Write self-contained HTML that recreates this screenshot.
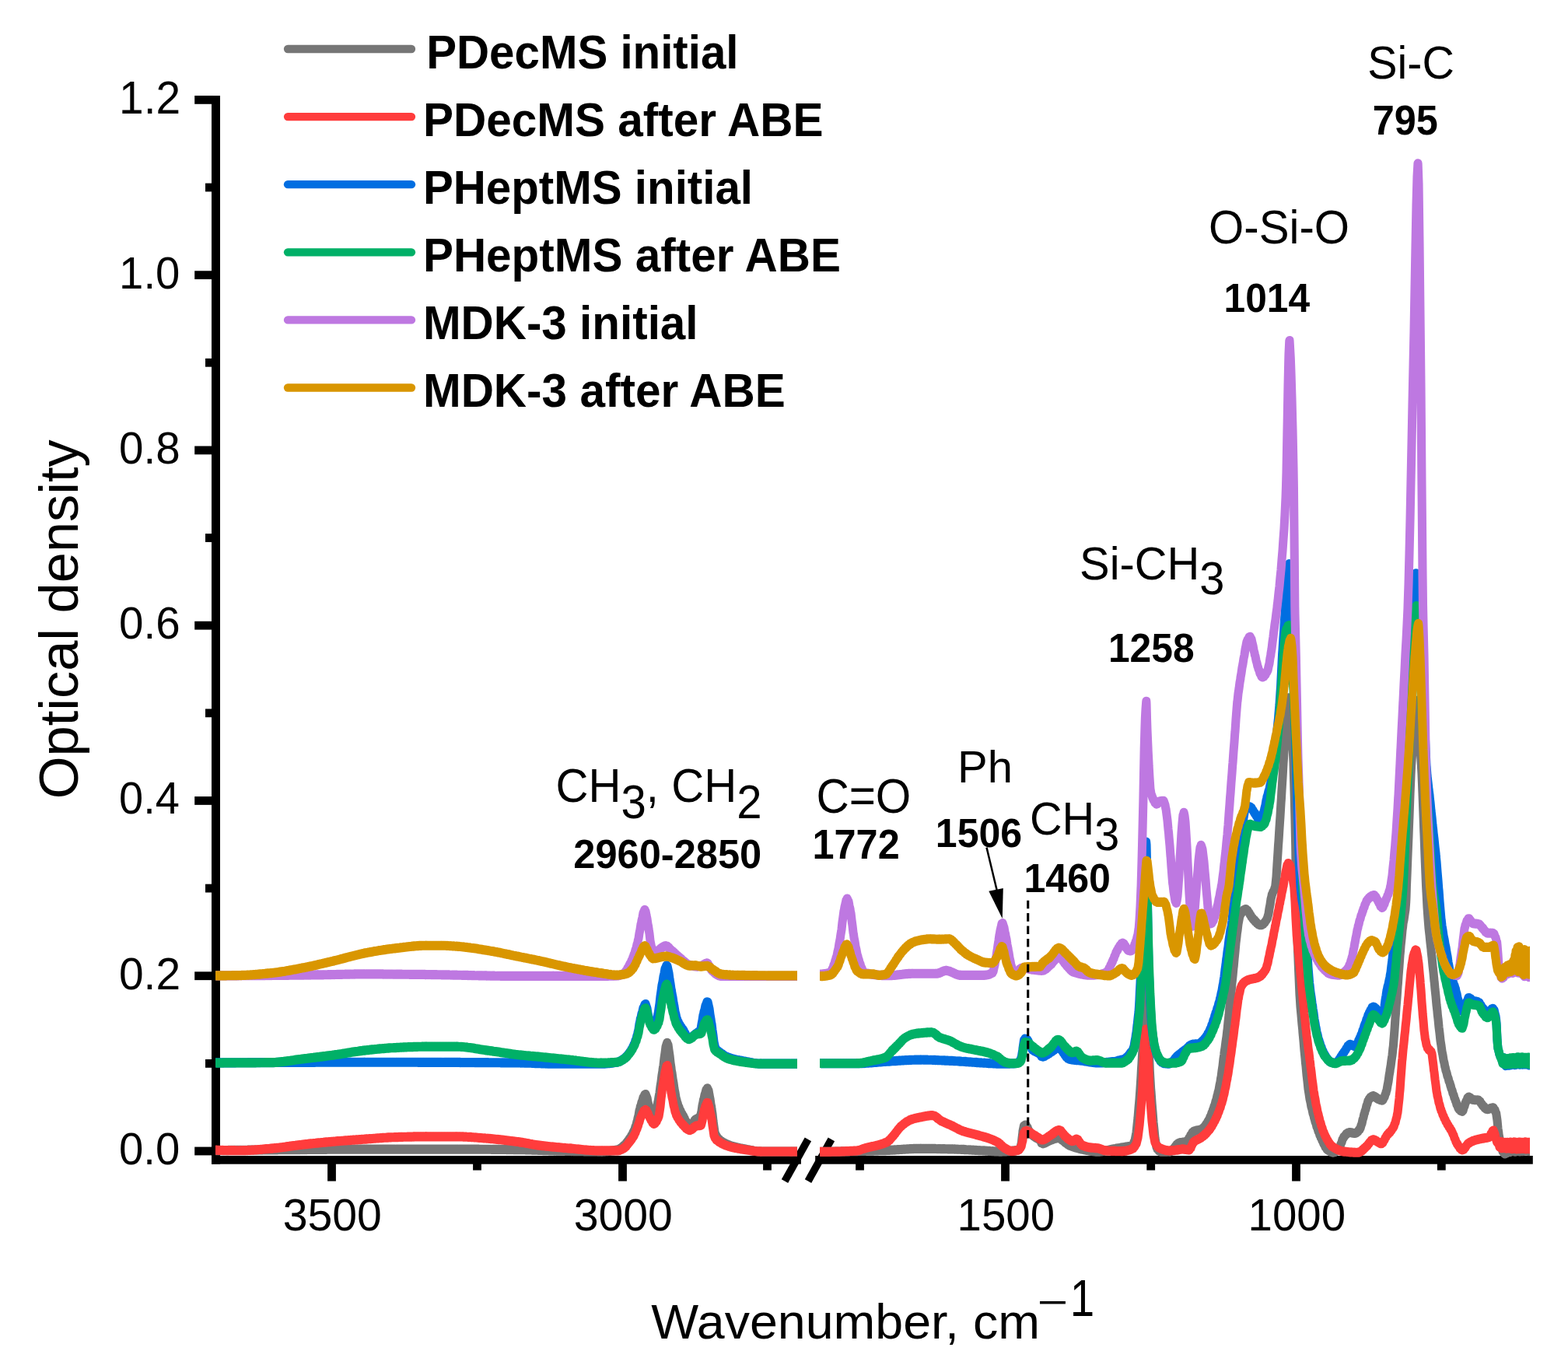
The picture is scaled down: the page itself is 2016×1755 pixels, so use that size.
<!DOCTYPE html>
<html lang="en"><head><meta charset="utf-8"><title>FTIR spectra</title>
<style>html,body{margin:0;padding:0;background:#fff}body{width:2016px;height:1755px;overflow:hidden}svg{display:block}</style>
</head><body>
<svg width="2016" height="1755" viewBox="0 0 2016 1755" font-family='"Liberation Sans", Arial, Helvetica, sans-serif'>
<rect width="2016" height="1755" fill="#fff"/>
<g fill="#000">
<rect x="272" y="123" width="11" height="1373.7"/>
<rect x="272" y="1486" width="757.9" height="10.7"/>
<rect x="1048.2" y="1486" width="922.6" height="10.7"/>
<rect x="250.2" y="1474.60" width="24" height="10.8"/>
<rect x="250.2" y="1249.33" width="24" height="10.8"/>
<rect x="250.2" y="1024.06" width="24" height="10.8"/>
<rect x="250.2" y="798.79" width="24" height="10.8"/>
<rect x="250.2" y="573.52" width="24" height="10.8"/>
<rect x="250.2" y="348.25" width="24" height="10.8"/>
<rect x="250.2" y="122.98" width="24" height="10.8"/>
<rect x="264" y="1361.96" width="9" height="10.8"/>
<rect x="264" y="1136.69" width="9" height="10.8"/>
<rect x="264" y="911.42" width="9" height="10.8"/>
<rect x="264" y="686.15" width="9" height="10.8"/>
<rect x="264" y="460.88" width="9" height="10.8"/>
<rect x="264" y="235.61" width="9" height="10.8"/>
<rect x="421.10" y="1490" width="10.8" height="28.6"/>
<rect x="795.10" y="1490" width="10.8" height="28.6"/>
<rect x="1287.10" y="1490" width="10.8" height="28.6"/>
<rect x="1661.10" y="1490" width="10.8" height="28.6"/>
<rect x="608.10" y="1490" width="10.8" height="14.6"/>
<rect x="981.10" y="1490" width="10.8" height="14.6"/>
<rect x="1100.10" y="1490" width="10.8" height="14.6"/>
<rect x="1474.30" y="1490" width="10.8" height="14.6"/>
<rect x="1847.90" y="1490" width="10.8" height="14.6"/>
</g>
<g stroke="#000" stroke-width="9.6" fill="none">
<line x1="1038.9" y1="1464.8" x2="1009" y2="1518.6"/>
<line x1="1068.9" y1="1464.8" x2="1039" y2="1518.6"/>
</g>
<clipPath id="cl"><rect x="277" y="0" width="748" height="1755"/><rect x="1054" y="0" width="913" height="1755"/></clipPath>
<g fill="none" stroke-linejoin="round" stroke-linecap="butt" stroke-width="11.1" clip-path="url(#cl)">
<path stroke="#767676" d="M277.0,1479.8 278.0,1478.6 279.0,1479.7 280.0,1478.6 281.0,1479.7 282.0,1478.6 283.0,1479.7 284.0,1478.6 285.0,1479.7 286.0,1478.5 287.0,1479.6 288.0,1478.5 289.0,1479.6 290.0,1478.5 291.0,1479.6 292.0,1478.5 293.0,1479.6 294.0,1478.4 295.0,1479.5 296.0,1478.4 297.0,1479.5 298.0,1478.4 299.0,1479.5 300.0,1478.4 301.0,1479.5 302.0,1478.3 303.0,1479.4 304.0,1478.3 305.0,1479.4 306.0,1478.3 307.0,1479.4 308.0,1478.3 309.0,1479.4 310.0,1478.2 311.0,1479.3 312.0,1478.2 313.0,1479.3 314.0,1478.2 315.0,1479.3 316.0,1478.2 317.0,1479.3 318.0,1478.2 319.0,1479.2 320.0,1478.1 321.0,1479.2 322.0,1478.1 323.0,1479.2 324.0,1478.1 325.0,1479.2 326.0,1478.1 327.0,1479.2 328.0,1478.0 329.0,1479.1 330.0,1478.0 331.0,1479.1 332.0,1478.0 333.0,1479.1 334.0,1478.0 335.0,1479.1 336.0,1478.0 337.0,1479.1 338.0,1477.9 339.0,1479.0 340.0,1477.9 341.0,1479.0 342.0,1477.9 343.0,1479.0 344.0,1477.9 345.0,1479.0 346.0,1477.9 347.0,1479.0 348.0,1477.8 349.0,1478.9 350.0,1477.8 351.0,1478.9 352.0,1477.8 353.0,1478.9 354.0,1477.8 355.0,1478.9 356.0,1477.8 357.0,1478.9 358.0,1477.8 359.0,1478.8 360.0,1477.7 361.0,1478.8 362.0,1477.7 363.0,1478.8 364.0,1477.7 365.0,1478.8 366.0,1477.7 367.0,1478.8 368.0,1477.7 369.0,1478.8 369.2,1477.7 370.0,1478.8 371.0,1477.7 372.0,1478.7 373.0,1477.6 374.0,1478.7 375.0,1477.6 376.0,1478.7 377.0,1477.6 378.0,1478.7 379.0,1477.6 380.0,1478.7 381.0,1477.6 382.0,1478.7 383.0,1477.6 384.0,1478.6 385.0,1477.5 386.0,1478.6 387.0,1477.5 388.0,1478.6 389.0,1477.5 390.0,1478.6 391.0,1477.5 392.0,1478.6 393.0,1477.5 394.0,1478.6 395.0,1477.5 396.0,1478.5 397.0,1477.4 398.0,1478.5 399.0,1477.4 400.0,1478.5 401.0,1477.4 402.0,1478.5 403.0,1477.4 404.0,1478.5 405.0,1477.4 406.0,1478.5 407.0,1477.4 408.0,1478.5 409.0,1477.3 410.0,1478.4 411.0,1477.3 412.0,1478.4 413.0,1477.3 414.0,1478.4 415.0,1477.3 416.0,1478.4 417.0,1477.3 418.0,1478.4 419.0,1477.3 420.0,1478.4 421.0,1477.3 422.0,1478.3 423.0,1477.2 424.0,1478.3 425.0,1477.2 426.0,1478.3 427.0,1477.2 428.0,1478.3 429.0,1477.2 430.0,1478.3 431.0,1477.2 432.0,1478.3 433.0,1477.2 434.0,1478.3 435.0,1477.2 436.0,1478.3 437.0,1477.2 438.0,1478.3 439.0,1477.1 440.0,1478.2 441.0,1477.1 442.0,1478.2 443.0,1477.1 444.0,1478.2 445.0,1477.1 446.0,1478.2 447.0,1477.1 448.0,1478.2 449.0,1477.1 450.0,1478.2 451.0,1477.1 452.0,1478.2 453.0,1477.1 454.0,1478.2 455.0,1477.1 456.0,1478.2 457.0,1477.1 458.0,1478.2 459.0,1477.1 460.0,1478.2 461.0,1477.1 462.0,1478.2 463.0,1477.1 464.0,1478.2 465.0,1477.1 466.0,1478.2 467.0,1477.1 468.0,1478.2 468.4,1477.1 469.0,1478.2 470.0,1477.1 471.0,1478.2 472.0,1477.1 473.0,1478.2 474.0,1477.1 475.0,1478.2 476.0,1477.1 477.0,1478.2 478.0,1477.1 479.0,1478.2 480.0,1477.1 481.0,1478.2 482.0,1477.1 483.0,1478.2 484.0,1477.1 485.0,1478.2 486.0,1477.1 487.0,1478.2 488.0,1477.1 489.0,1478.2 490.0,1477.1 491.0,1478.2 492.0,1477.1 493.0,1478.2 494.0,1477.1 495.0,1478.2 496.0,1477.1 497.0,1478.2 498.0,1477.1 499.0,1478.2 500.0,1477.1 501.0,1478.2 502.0,1477.1 503.0,1478.2 504.0,1477.1 505.0,1478.2 506.0,1477.1 507.0,1478.2 508.0,1477.1 509.0,1478.2 510.0,1477.1 511.0,1478.2 512.0,1477.1 513.0,1478.2 514.0,1477.1 515.0,1478.2 516.0,1477.1 517.0,1478.2 518.0,1477.1 519.0,1478.2 520.0,1477.1 521.0,1478.2 522.0,1477.1 523.0,1478.2 524.0,1477.1 525.0,1478.2 526.0,1477.1 527.0,1478.2 528.0,1477.1 529.0,1478.2 530.0,1477.1 531.0,1478.2 532.0,1477.1 533.0,1478.2 534.0,1477.1 535.0,1478.2 536.0,1477.1 537.0,1478.2 538.0,1477.1 539.0,1478.2 540.0,1477.1 541.0,1478.2 542.0,1477.1 543.0,1478.2 544.0,1477.1 545.0,1478.2 546.0,1477.1 547.0,1478.2 548.0,1477.1 549.0,1478.2 550.0,1477.1 551.0,1478.2 552.0,1477.1 553.0,1478.2 554.0,1477.1 555.0,1478.2 556.0,1477.1 557.0,1478.2 558.0,1477.1 559.0,1478.2 560.0,1477.1 561.0,1478.2 562.0,1477.1 563.0,1478.2 564.0,1477.1 565.0,1478.2 566.0,1477.1 567.0,1478.2 568.0,1477.1 569.0,1478.2 570.0,1477.1 571.0,1478.2 572.0,1477.1 573.0,1478.2 574.0,1477.1 575.0,1478.2 576.0,1477.1 577.0,1478.2 578.0,1477.1 579.0,1478.2 580.0,1477.1 581.0,1478.2 582.0,1477.1 583.0,1478.2 584.0,1477.1 585.0,1478.2 586.0,1477.1 587.0,1478.2 587.5,1477.1 588.0,1478.2 589.0,1477.1 590.0,1478.2 591.0,1477.1 592.0,1478.2 593.0,1477.1 594.0,1478.2 595.0,1477.1 596.0,1478.2 597.0,1477.1 598.0,1478.2 599.0,1477.1 600.0,1478.2 601.0,1477.1 602.0,1478.2 603.0,1477.1 604.0,1478.2 605.0,1477.1 606.0,1478.2 607.0,1477.1 608.0,1478.2 609.0,1477.1 610.0,1478.2 611.0,1477.1 612.0,1478.2 613.0,1477.1 614.0,1478.2 615.0,1477.1 616.0,1478.3 617.0,1477.2 618.0,1478.3 619.0,1477.2 620.0,1478.3 621.0,1477.2 622.0,1478.3 623.0,1477.2 624.0,1478.3 625.0,1477.2 626.0,1478.3 627.0,1477.2 628.0,1478.3 629.0,1477.2 630.0,1478.3 631.0,1477.3 632.0,1478.4 633.0,1477.3 634.0,1478.4 635.0,1477.3 636.0,1478.4 637.0,1477.3 638.0,1478.4 639.0,1477.3 640.0,1478.4 641.0,1477.3 642.0,1478.5 643.0,1477.4 644.0,1478.5 645.0,1477.4 646.0,1478.5 647.0,1477.4 648.0,1478.5 649.0,1477.4 650.0,1478.5 651.0,1477.4 652.0,1478.6 653.0,1477.5 654.0,1478.6 655.0,1477.5 656.0,1478.6 657.0,1477.5 658.0,1478.6 659.0,1477.5 660.0,1478.6 661.0,1477.6 662.0,1478.7 663.0,1477.6 664.0,1478.7 665.0,1477.6 666.0,1478.7 667.0,1477.6 668.0,1478.7 669.0,1477.7 670.0,1478.8 671.0,1477.7 672.0,1478.8 673.0,1477.7 674.0,1478.8 675.0,1477.8 676.0,1478.9 677.0,1477.8 678.0,1478.9 679.0,1477.9 680.0,1479.0 681.0,1477.9 682.0,1479.0 683.0,1478.0 684.0,1479.1 685.0,1478.0 686.0,1479.2 687.0,1478.1 688.0,1479.2 689.0,1478.2 690.0,1479.3 691.0,1478.3 692.0,1479.4 693.0,1478.3 694.0,1479.5 695.0,1478.4 696.0,1479.5 697.0,1478.5 698.0,1479.6 699.0,1478.6 700.0,1479.7 701.0,1478.6 702.0,1479.8 703.0,1478.7 704.0,1479.8 705.0,1478.8 706.0,1479.9 707.0,1478.8 708.0,1479.9 709.0,1478.9 710.0,1480.0 711.0,1478.9 711.5,1480.0 712.0,1478.9 713.0,1480.1 714.0,1479.0 715.0,1480.1 716.0,1479.0 717.0,1480.2 718.0,1479.1 719.0,1480.2 720.0,1479.1 721.0,1480.3 722.0,1479.2 723.0,1480.3 724.0,1479.2 725.0,1480.3 726.0,1479.3 727.0,1480.4 728.0,1479.3 729.0,1480.4 730.0,1479.4 731.0,1480.5 732.0,1479.4 733.0,1480.5 734.0,1479.4 735.0,1480.6 736.0,1479.5 737.0,1480.6 738.0,1479.5 739.0,1480.7 740.0,1479.6 741.0,1480.7 742.0,1479.6 743.0,1480.7 744.0,1479.7 745.0,1480.8 746.0,1479.7 747.0,1480.8 748.0,1479.7 749.0,1480.8 750.0,1479.8 751.0,1480.9 752.0,1479.8 753.0,1480.9 754.0,1479.8 755.0,1480.9 756.0,1479.8 757.0,1481.0 758.0,1479.9 759.0,1481.0 760.0,1479.9 761.0,1481.0 762.0,1479.9 763.0,1481.0 764.0,1479.9 765.0,1481.0 766.0,1479.9 767.0,1481.0 768.0,1480.0 769.0,1481.1 770.0,1480.0 771.0,1481.1 772.0,1480.0 773.0,1481.1 773.1,1480.0 774.0,1481.1 775.0,1479.9 776.0,1481.0 777.0,1479.9 778.0,1480.9 779.0,1479.8 780.0,1480.8 781.0,1479.6 782.0,1480.7 783.0,1479.5 784.0,1480.5 785.0,1479.2 786.0,1480.2 787.0,1479.0 788.0,1480.0 789.0,1478.7 790.0,1479.6 791.0,1478.4 792.0,1479.3 793.0,1478.0 793.6,1479.0 794.0,1477.8 795.0,1478.6 796.0,1477.0 797.0,1477.6 798.0,1475.8 799.0,1476.1 800.0,1474.3 801.0,1474.5 801.8,1472.8 802.0,1473.7 803.0,1471.7 804.0,1471.7 805.0,1469.5 806.0,1469.3 807.0,1466.9 808.0,1466.6 809.0,1464.1 809.4,1464.6 810.0,1462.6 811.0,1462.2 812.0,1459.4 813.0,1458.8 814.0,1455.7 815.0,1454.7 815.1,1453.4 816.0,1452.3 817.0,1448.4 818.0,1446.3 819.0,1441.8 819.2,1442.2 820.0,1437.8 821.0,1434.1 822.0,1428.0 823.0,1424.8 823.3,1422.6 824.0,1421.4 825.0,1417.0 826.0,1414.8 827.0,1410.8 828.0,1409.6 829.0,1407.0 829.9,1407.6 830.0,1406.5 831.0,1409.2 832.0,1411.6 833.0,1417.2 834.0,1420.8 835.0,1425.9 835.6,1426.5 836.0,1428.5 837.0,1429.7 838.0,1432.8 839.0,1433.5 840.0,1435.7 840.8,1434.8 841.0,1435.9 842.0,1433.2 843.0,1431.0 844.0,1425.6 845.0,1421.8 845.9,1416.4 846.0,1417.0 847.0,1410.5 848.0,1405.2 849.0,1397.0 850.0,1390.8 851.0,1382.4 852.0,1376.8 852.1,1375.0 853.0,1369.7 854.0,1360.6 855.0,1353.8 856.0,1345.9 857.0,1342.6 857.8,1340.3 858.0,1341.5 859.0,1343.3 860.0,1350.4 861.0,1357.2 862.0,1366.7 863.0,1373.2 863.3,1376.2 864.0,1379.5 865.0,1387.0 866.0,1392.4 867.0,1399.9 868.0,1404.8 869.0,1411.2 870.0,1414.5 870.5,1417.4 871.0,1417.9 872.0,1421.9 873.0,1423.4 874.0,1426.9 875.0,1427.9 876.0,1431.0 877.0,1431.7 878.0,1434.6 878.7,1434.8 879.0,1436.5 880.0,1437.3 881.0,1440.4 882.0,1441.3 883.0,1444.3 884.0,1444.8 885.0,1447.2 886.0,1446.9 886.9,1448.2 887.0,1447.1 888.0,1447.9 889.0,1445.9 890.0,1445.7 891.0,1443.2 892.0,1442.8 893.0,1440.3 894.0,1440.3 894.1,1439.1 895.0,1439.6 896.0,1437.9 897.0,1438.5 898.0,1436.9 899.0,1437.3 900.0,1435.2 900.3,1435.9 901.0,1432.8 902.0,1428.8 903.0,1421.5 904.0,1417.0 904.4,1414.2 905.0,1412.9 906.0,1407.7 907.0,1404.9 908.0,1400.7 909.0,1400.1 909.5,1398.7 910.0,1400.2 911.0,1402.0 912.0,1407.9 913.0,1412.8 914.0,1420.1 914.6,1422.4 915.0,1425.9 916.0,1432.2 917.0,1441.6 918.0,1448.5 919.0,1455.8 919.7,1457.3 920.0,1459.1 921.0,1459.9 922.0,1462.6 923.0,1462.8 924.0,1465.0 925.0,1464.9 925.9,1466.7 926.0,1465.7 927.0,1467.6 928.0,1467.2 929.0,1468.9 930.0,1468.5 931.0,1470.1 932.0,1469.6 933.0,1471.1 934.0,1470.5 935.0,1472.0 936.0,1471.3 937.0,1472.8 937.2,1471.8 938.0,1473.1 939.0,1472.4 940.0,1473.8 941.0,1473.0 942.0,1474.4 943.0,1473.6 944.0,1475.0 945.0,1474.1 946.0,1475.5 947.0,1474.6 948.0,1476.0 949.0,1475.1 950.0,1476.4 951.0,1475.6 952.0,1476.9 953.0,1476.0 954.0,1477.3 955.0,1476.4 956.0,1477.7 957.0,1476.8 957.7,1478.0 958.0,1476.9 959.0,1478.2 960.0,1477.3 961.0,1478.6 962.0,1477.7 963.0,1479.0 964.0,1478.1 965.0,1479.4 966.0,1478.5 967.0,1479.8 968.0,1478.9 969.0,1480.2 970.0,1479.2 971.0,1480.5 972.0,1479.5 973.0,1480.8 974.0,1479.8 975.0,1480.9 976.0,1479.9 977.0,1481.0 978.0,1480.0 978.2,1481.1 979.0,1480.0 980.0,1481.1 981.0,1480.0 982.0,1481.1 983.0,1480.0 984.0,1481.1 985.0,1480.0 986.0,1481.1 987.0,1480.0 988.0,1481.1 989.0,1480.0 990.0,1481.1 991.0,1480.0 992.0,1481.1 993.0,1480.0 994.0,1481.1 995.0,1480.0 996.0,1481.1 997.0,1480.0 998.0,1481.1 999.0,1480.0 1000.0,1481.1 1001.0,1480.0 1002.0,1481.1 1003.0,1480.0 1004.0,1481.1 1005.0,1480.0 1006.0,1481.1 1007.0,1480.0 1008.0,1481.1 1009.0,1480.0 1010.0,1481.1 1011.0,1480.0 1012.0,1481.1 1013.0,1480.0 1014.0,1481.1 1015.0,1480.0 1016.0,1481.1 1017.0,1480.0 1018.0,1481.1 1019.0,1480.0 1020.0,1481.1 1021.0,1480.0 1022.0,1481.1 1023.0,1480.0 1024.0,1481.1 1025.0,1480.0 1026.0,1481.1 1027.0,1480.0 1028.0,1481.1"/>
<path stroke="#767676" d="M1054.0,1481.5 1055.0,1480.4 1056.0,1481.5 1057.0,1480.3 1058.0,1481.4 1059.0,1480.3 1060.0,1481.4 1061.0,1480.3 1062.0,1481.4 1063.0,1480.3 1064.0,1481.4 1065.0,1480.2 1066.0,1481.3 1067.0,1480.2 1068.0,1481.3 1069.0,1480.2 1070.0,1481.3 1071.0,1480.1 1072.0,1481.2 1073.0,1480.1 1074.0,1481.2 1075.0,1480.1 1076.0,1481.2 1077.0,1480.0 1078.0,1481.1 1079.0,1480.0 1080.0,1481.1 1081.0,1480.0 1082.0,1481.1 1083.0,1479.9 1084.0,1481.0 1085.0,1479.9 1086.0,1481.0 1087.0,1479.9 1088.0,1480.9 1089.0,1479.8 1090.0,1480.9 1091.0,1479.8 1092.0,1480.9 1093.0,1479.7 1094.0,1480.8 1095.0,1479.7 1096.0,1480.8 1097.0,1479.7 1098.0,1480.7 1099.0,1479.6 1100.0,1480.7 1101.0,1479.6 1101.5,1480.7 1102.0,1479.5 1103.0,1480.6 1104.0,1479.5 1105.0,1480.6 1106.0,1479.5 1107.0,1480.5 1108.0,1479.4 1109.0,1480.5 1110.0,1479.4 1111.0,1480.4 1112.0,1479.3 1113.0,1480.4 1114.0,1479.2 1115.0,1480.3 1116.0,1479.2 1117.0,1480.3 1118.0,1479.1 1119.0,1480.2 1120.0,1479.1 1121.0,1480.1 1122.0,1479.0 1123.0,1480.1 1124.0,1479.0 1125.0,1480.0 1126.0,1478.9 1127.0,1480.0 1128.0,1478.8 1129.0,1479.9 1130.0,1478.8 1131.0,1479.8 1132.0,1478.7 1133.0,1479.8 1134.0,1478.6 1135.0,1479.7 1136.0,1478.6 1137.0,1479.6 1138.0,1478.5 1139.0,1479.6 1140.0,1478.4 1141.0,1479.5 1142.0,1478.3 1142.6,1479.4 1143.0,1478.3 1144.0,1479.4 1145.0,1478.2 1146.0,1479.3 1147.0,1478.1 1148.0,1479.2 1149.0,1478.0 1150.0,1479.1 1151.0,1477.9 1152.0,1478.9 1153.0,1477.8 1154.0,1478.8 1155.0,1477.6 1156.0,1478.7 1157.0,1477.5 1158.0,1478.5 1159.0,1477.4 1160.0,1478.4 1161.0,1477.2 1162.0,1478.3 1163.0,1477.1 1164.0,1478.1 1165.0,1477.0 1166.0,1478.0 1167.0,1476.9 1168.0,1477.9 1169.0,1476.7 1170.0,1477.8 1171.0,1476.6 1172.0,1477.7 1173.0,1476.5 1174.0,1477.6 1175.0,1476.4 1176.0,1477.5 1177.0,1476.4 1178.0,1477.4 1179.0,1476.3 1180.0,1477.4 1181.0,1476.3 1182.0,1477.4 1183.0,1476.3 1183.6,1477.4 1184.0,1476.3 1185.0,1477.4 1186.0,1476.3 1187.0,1477.4 1188.0,1476.3 1189.0,1477.4 1190.0,1476.3 1191.0,1477.4 1192.0,1476.3 1193.0,1477.4 1194.0,1476.3 1195.0,1477.4 1196.0,1476.3 1197.0,1477.5 1198.0,1476.4 1199.0,1477.5 1200.0,1476.4 1201.0,1477.5 1202.0,1476.4 1203.0,1477.5 1204.0,1476.5 1205.0,1477.6 1206.0,1476.5 1207.0,1477.6 1208.0,1476.5 1209.0,1477.6 1210.0,1476.6 1211.0,1477.7 1212.0,1476.6 1213.0,1477.7 1214.0,1476.6 1215.0,1477.8 1216.0,1476.7 1217.0,1477.8 1218.0,1476.7 1219.0,1477.9 1220.0,1476.8 1221.0,1477.9 1222.0,1476.8 1223.0,1477.9 1224.0,1476.9 1224.6,1478.0 1225.0,1476.9 1226.0,1478.0 1227.0,1476.9 1228.0,1478.1 1229.0,1477.0 1230.0,1478.1 1231.0,1477.1 1232.0,1478.2 1233.0,1477.2 1234.0,1478.3 1235.0,1477.2 1236.0,1478.4 1237.0,1477.3 1238.0,1478.5 1239.0,1477.4 1240.0,1478.6 1241.0,1477.5 1242.0,1478.7 1243.0,1477.7 1244.0,1478.8 1245.0,1477.8 1246.0,1478.9 1247.0,1477.9 1248.0,1479.0 1249.0,1478.0 1250.0,1479.2 1251.0,1478.1 1252.0,1479.3 1253.0,1478.2 1254.0,1479.4 1255.0,1478.4 1256.0,1479.5 1257.0,1478.5 1258.0,1479.6 1259.0,1478.6 1260.0,1479.7 1261.0,1478.7 1262.0,1479.8 1263.0,1478.8 1264.0,1480.0 1265.0,1478.9 1265.6,1480.0 1266.0,1479.0 1267.0,1480.1 1268.0,1479.1 1269.0,1480.2 1270.0,1479.2 1271.0,1480.4 1272.0,1479.3 1273.0,1480.5 1274.0,1479.5 1275.0,1480.6 1276.0,1479.6 1277.0,1480.7 1278.0,1479.7 1279.0,1480.9 1280.0,1479.8 1281.0,1480.9 1282.0,1479.9 1283.0,1481.0 1284.0,1479.9 1285.0,1481.1 1286.0,1480.0 1286.2,1481.1 1287.0,1480.0 1288.0,1481.1 1289.0,1479.9 1290.0,1481.0 1291.0,1479.9 1292.0,1481.0 1293.0,1479.8 1294.0,1480.9 1295.0,1479.7 1296.0,1480.8 1297.0,1479.6 1298.0,1480.6 1299.0,1479.5 1300.0,1480.5 1301.0,1479.3 1302.0,1480.3 1303.0,1479.1 1304.0,1480.1 1304.6,1478.9 1305.0,1480.0 1306.0,1478.7 1307.0,1479.6 1308.0,1478.1 1309.0,1478.8 1310.0,1477.1 1310.4,1478.0 1311.0,1476.2 1312.0,1475.1 1313.0,1470.6 1313.2,1470.9 1314.0,1463.5 1314.9,1456.3 1315.0,1454.5 1316.0,1449.7 1316.5,1447.2 1317.0,1447.8 1318.0,1446.0 1318.6,1447.0 1319.0,1446.0 1320.0,1448.3 1321.0,1449.1 1322.0,1452.4 1323.0,1453.5 1324.0,1456.3 1324.1,1455.3 1325.0,1457.5 1326.0,1457.4 1327.0,1459.4 1328.0,1459.2 1329.0,1461.1 1330.0,1460.8 1331.0,1462.6 1331.3,1461.7 1332.0,1463.3 1333.0,1462.8 1334.0,1464.4 1335.0,1463.8 1336.0,1465.5 1337.0,1465.2 1337.4,1466.7 1338.0,1466.5 1339.0,1469.8 1340.0,1469.9 1341.0,1470.9 1342.0,1469.6 1343.0,1470.3 1344.0,1468.8 1345.0,1469.4 1346.0,1467.7 1347.0,1468.2 1348.0,1466.6 1349.0,1467.2 1350.0,1465.7 1350.3,1466.7 1351.0,1465.3 1352.0,1466.1 1353.0,1464.6 1354.0,1465.3 1355.0,1463.9 1356.0,1464.6 1357.0,1463.2 1358.0,1464.1 1359.0,1462.8 1360.0,1463.8 1360.5,1462.7 1361.0,1463.9 1362.0,1463.0 1363.0,1464.4 1364.0,1463.8 1365.0,1465.6 1366.0,1465.2 1367.0,1467.1 1368.0,1466.9 1369.0,1468.8 1370.0,1468.6 1371.0,1470.5 1372.0,1470.2 1373.0,1472.0 1374.0,1471.5 1374.9,1473.1 1375.0,1472.0 1376.0,1473.5 1377.0,1472.8 1378.0,1474.3 1379.0,1473.6 1380.0,1475.1 1381.0,1474.3 1382.0,1475.7 1383.0,1475.0 1384.0,1476.4 1385.0,1475.5 1386.0,1476.9 1387.0,1476.1 1388.0,1477.4 1389.0,1476.6 1390.0,1477.9 1391.0,1477.0 1391.3,1478.2 1392.0,1477.2 1393.0,1478.5 1394.0,1477.7 1395.0,1479.0 1396.0,1478.1 1397.0,1479.4 1398.0,1478.5 1399.0,1479.8 1400.0,1478.9 1401.0,1480.2 1402.0,1479.2 1403.0,1480.5 1404.0,1479.5 1405.0,1480.8 1406.0,1479.8 1407.0,1481.0 1408.0,1480.0 1409.0,1481.2 1410.0,1480.1 1411.0,1481.3 1411.8,1480.2 1412.0,1481.3 1413.0,1480.1 1414.0,1481.2 1415.0,1480.0 1416.0,1481.0 1417.0,1479.8 1418.0,1480.7 1419.0,1479.5 1420.0,1480.4 1421.0,1479.1 1422.0,1480.0 1423.0,1478.7 1424.0,1479.5 1425.0,1478.2 1426.0,1479.1 1427.0,1477.8 1428.0,1478.6 1429.0,1477.3 1430.0,1478.2 1431.0,1476.9 1432.0,1477.8 1432.3,1476.7 1433.0,1477.7 1434.0,1476.4 1435.0,1477.3 1436.0,1476.1 1437.0,1477.0 1438.0,1475.8 1439.0,1476.7 1440.0,1475.4 1441.0,1476.4 1442.0,1475.1 1443.0,1476.0 1444.0,1474.8 1445.0,1475.7 1446.0,1474.4 1447.0,1475.4 1448.0,1474.1 1449.0,1475.0 1450.0,1473.7 1450.8,1474.7 1451.0,1473.6 1452.0,1474.5 1453.0,1473.3 1454.0,1474.1 1454.9,1472.8 1455.0,1473.8 1456.0,1471.9 1457.0,1471.4 1458.0,1468.1 1459.0,1466.6 1460.0,1461.4 1461.0,1455.9 1462.0,1446.3 1463.0,1437.2 1464.0,1424.7 1465.0,1413.4 1466.0,1399.5 1467.0,1383.9 1467.4,1375.8 1468.0,1366.8 1468.7,1354.1 1469.0,1350.3 1470.0,1332.6 1470.1,1331.9 1471.0,1313.0 1471.5,1303.9 1472.0,1290.7 1473.0,1269.7 1473.3,1266.8 1474.0,1276.6 1475.0,1300.6 1475.1,1303.9 1476.0,1320.3 1476.5,1331.9 1477.0,1343.1 1477.4,1354.4 1478.0,1369.0 1478.3,1377.0 1479.0,1389.1 1479.7,1400.8 1480.0,1403.6 1481.0,1417.9 1482.0,1429.6 1483.0,1442.7 1484.0,1452.6 1485.0,1463.0 1486.0,1469.2 1487.0,1475.2 1487.7,1475.9 1488.0,1477.4 1489.0,1477.6 1490.0,1479.8 1491.0,1479.5 1492.0,1481.1 1492.8,1480.2 1493.0,1481.3 1494.0,1480.2 1495.0,1481.3 1496.0,1480.2 1497.0,1481.2 1498.0,1480.1 1499.0,1481.2 1500.0,1480.1 1501.0,1481.2 1502.0,1480.0 1503.0,1481.1 1504.0,1480.0 1504.1,1481.1 1505.0,1479.8 1506.0,1480.4 1507.0,1478.5 1508.0,1478.6 1509.0,1476.3 1510.0,1476.2 1511.0,1473.8 1512.0,1473.6 1513.0,1471.4 1514.0,1471.5 1515.0,1469.6 1516.0,1470.1 1516.4,1468.9 1517.0,1469.9 1518.0,1468.6 1519.0,1469.5 1520.0,1468.3 1521.0,1469.3 1522.0,1468.1 1523.0,1469.1 1524.0,1467.8 1524.6,1468.8 1525.0,1467.5 1526.0,1467.9 1527.0,1465.6 1528.0,1465.3 1529.0,1462.5 1530.0,1461.8 1531.0,1458.9 1532.0,1458.3 1533.0,1455.8 1534.0,1455.8 1534.9,1454.1 1535.0,1455.2 1536.0,1453.7 1537.0,1454.4 1538.0,1453.1 1539.0,1454.0 1540.0,1452.7 1541.0,1453.6 1542.0,1452.3 1543.0,1453.1 1544.0,1451.7 1545.0,1452.4 1545.1,1451.3 1546.0,1451.8 1547.0,1449.9 1548.0,1450.0 1549.0,1447.6 1550.0,1447.4 1551.0,1444.8 1552.0,1444.3 1553.0,1441.5 1553.3,1442.1 1554.0,1439.8 1555.0,1438.9 1556.0,1435.6 1557.0,1434.3 1558.0,1430.6 1559.0,1429.1 1559.5,1426.6 1560.0,1426.3 1561.0,1422.3 1562.0,1420.3 1563.0,1415.9 1564.0,1413.5 1565.0,1408.7 1565.6,1407.4 1566.0,1404.6 1567.0,1401.3 1568.0,1395.3 1569.0,1391.0 1569.7,1385.9 1570.0,1385.1 1571.0,1377.1 1572.0,1370.5 1573.0,1361.4 1573.8,1356.3 1574.0,1353.7 1575.0,1347.5 1576.0,1339.3 1577.0,1332.9 1577.9,1324.5 1578.0,1324.7 1579.0,1314.4 1580.0,1305.4 1581.0,1293.8 1582.0,1284.7 1582.1,1282.6 1583.0,1274.7 1584.0,1263.6 1585.0,1254.7 1586.0,1243.6 1586.2,1242.7 1587.0,1233.2 1588.0,1223.5 1589.0,1212.0 1590.0,1204.1 1590.3,1200.7 1591.0,1196.4 1592.0,1187.9 1593.0,1182.7 1594.0,1177.3 1594.4,1177.4 1595.0,1175.2 1596.0,1174.5 1597.0,1171.9 1598.0,1171.8 1599.0,1169.7 1600.0,1170.1 1601.0,1168.6 1601.5,1169.7 1602.0,1168.6 1603.0,1170.3 1604.0,1170.2 1605.0,1172.6 1606.0,1173.1 1607.0,1175.9 1608.0,1176.5 1609.0,1179.3 1610.0,1179.6 1610.8,1181.6 1611.0,1180.7 1612.0,1182.9 1613.0,1182.9 1614.0,1185.1 1615.0,1185.1 1616.0,1187.2 1617.0,1187.0 1618.0,1188.9 1619.0,1188.4 1620.0,1189.8 1621.0,1188.9 1622.0,1189.8 1623.0,1188.3 1624.0,1188.7 1625.0,1186.6 1626.0,1186.5 1627.0,1184.1 1628.0,1183.6 1629.0,1180.9 1629.2,1181.6 1630.0,1178.4 1631.0,1175.0 1632.0,1168.1 1633.0,1163.0 1634.0,1155.9 1635.0,1152.2 1635.4,1149.7 1636.0,1149.1 1637.0,1146.0 1638.0,1145.2 1639.0,1141.6 1639.6,1140.5 1640.0,1137.1 1641.0,1127.4 1642.0,1111.2 1643.0,1095.9 1643.5,1087.2 1644.0,1080.9 1645.0,1064.4 1646.0,1049.5 1647.0,1032.2 1647.4,1026.8 1648.0,1015.7 1649.0,999.7 1650.0,981.6 1650.7,971.3 1651.0,965.5 1652.0,950.8 1653.0,934.9 1653.6,928.2 1654.0,922.1 1655.0,909.9 1656.0,898.7 1656.7,897.2 1657.0,896.7 1658.0,905.8 1659.0,917.9 1659.7,928.2 1660.0,930.8 1661.0,944.5 1662.0,958.7 1662.6,971.3 1663.0,980.2 1664.0,1015.5 1664.3,1025.7 1665.0,1053.8 1665.7,1087.2 1666.0,1111.8 1666.4,1141.8 1667.0,1172.7 1667.8,1201.2 1668.0,1208.3 1669.0,1232.0 1669.4,1242.3 1670.0,1255.7 1671.0,1279.2 1671.3,1283.3 1672.0,1294.5 1673.0,1305.2 1674.0,1316.8 1674.8,1324.4 1675.0,1327.8 1676.0,1338.2 1677.0,1350.6 1678.0,1360.4 1678.5,1366.6 1679.0,1370.5 1680.0,1381.8 1681.0,1390.4 1682.0,1400.2 1683.0,1406.3 1684.0,1413.2 1685.0,1417.4 1686.0,1423.2 1687.0,1426.4 1688.0,1431.5 1689.0,1434.2 1689.7,1437.8 1690.0,1437.8 1691.0,1442.4 1692.0,1444.6 1693.0,1448.9 1694.0,1450.8 1695.0,1454.7 1696.0,1456.3 1697.0,1459.9 1698.0,1461.2 1698.2,1462.7 1699.0,1463.4 1700.0,1466.8 1701.0,1468.0 1702.0,1471.2 1703.0,1472.1 1704.0,1475.1 1705.0,1475.6 1706.0,1477.9 1707.0,1477.8 1707.2,1479.0 1708.0,1478.5 1709.0,1480.2 1710.0,1479.7 1711.0,1481.3 1712.0,1480.6 1713.0,1481.9 1714.0,1481.0 1714.4,1482.1 1715.0,1480.9 1716.0,1481.7 1717.0,1480.1 1718.0,1480.5 1719.0,1478.5 1720.0,1478.6 1721.0,1476.5 1721.5,1477.0 1722.0,1475.2 1723.0,1474.3 1724.0,1470.6 1725.0,1468.8 1726.0,1464.9 1727.0,1463.7 1727.7,1461.5 1728.0,1462.2 1729.0,1459.9 1730.0,1459.8 1731.0,1457.7 1732.0,1457.9 1733.0,1456.1 1734.0,1456.8 1734.9,1455.6 1735.0,1456.7 1736.0,1455.6 1737.0,1456.8 1738.0,1455.9 1739.0,1457.2 1740.0,1456.2 1741.0,1457.4 1742.0,1456.4 1742.1,1457.5 1743.0,1456.2 1744.0,1456.8 1745.0,1455.0 1746.0,1455.1 1747.0,1452.8 1748.0,1452.6 1748.2,1451.3 1749.0,1450.9 1750.0,1447.0 1751.0,1444.6 1752.0,1439.6 1753.0,1436.7 1754.0,1431.9 1754.4,1431.7 1755.0,1428.6 1756.0,1426.2 1757.0,1421.5 1758.0,1419.2 1759.0,1415.2 1760.0,1414.1 1760.5,1412.3 1761.0,1412.8 1762.0,1410.7 1763.0,1410.9 1764.0,1409.1 1765.0,1409.8 1765.6,1408.6 1766.0,1409.7 1767.0,1408.9 1768.0,1410.6 1769.0,1410.3 1770.0,1412.2 1771.0,1411.8 1771.8,1413.4 1772.0,1412.4 1773.0,1413.9 1774.0,1413.3 1775.0,1414.8 1776.0,1414.0 1776.9,1415.2 1777.0,1414.1 1778.0,1414.6 1779.0,1412.0 1780.0,1410.8 1781.0,1407.1 1782.0,1405.3 1782.1,1403.9 1783.0,1401.7 1784.0,1395.6 1785.0,1390.7 1786.0,1383.1 1787.0,1377.6 1787.2,1375.2 1788.0,1371.1 1789.0,1363.3 1790.0,1356.9 1791.0,1347.3 1791.3,1345.5 1792.0,1336.5 1793.0,1324.0 1794.0,1308.5 1794.4,1304.1 1795.0,1295.0 1796.0,1282.8 1797.0,1268.3 1797.4,1264.1 1798.0,1254.8 1799.0,1242.0 1800.0,1227.7 1800.5,1222.7 1801.0,1216.0 1802.0,1206.7 1803.0,1196.0 1803.6,1191.7 1804.0,1187.5 1805.0,1182.6 1806.0,1175.8 1807.0,1169.1 1807.7,1159.9 1808.0,1153.7 1808.4,1139.7 1809.0,1124.9 1810.0,1098.5 1811.0,1074.8 1811.3,1066.2 1812.0,1048.8 1813.0,1020.4 1814.0,996.8 1814.6,984.0 1815.0,978.5 1816.0,963.3 1817.0,952.3 1818.0,939.2 1818.5,933.9 1819.0,924.9 1820.0,908.9 1820.9,900.3 1821.0,901.4 1822.0,908.8 1823.0,925.7 1823.6,933.4 1824.0,939.5 1825.0,950.2 1826.0,963.6 1827.0,976.6 1827.5,985.9 1828.0,994.6 1829.0,1020.1 1830.0,1046.3 1830.8,1068.5 1831.0,1072.5 1832.0,1100.3 1833.0,1125.1 1833.6,1139.7 1834.0,1146.7 1835.0,1166.4 1836.0,1180.5 1837.0,1193.3 1838.0,1202.1 1839.0,1212.2 1840.0,1220.5 1840.1,1222.6 1841.0,1230.5 1842.0,1241.6 1843.0,1250.5 1844.0,1261.6 1844.2,1262.5 1845.0,1271.7 1846.0,1280.8 1847.0,1292.0 1848.0,1300.7 1848.3,1304.6 1849.0,1310.1 1850.0,1320.6 1851.0,1328.6 1852.0,1338.1 1853.0,1344.4 1854.0,1351.9 1855.0,1356.7 1856.0,1363.2 1857.0,1367.0 1857.9,1372.1 1858.0,1371.5 1859.0,1376.6 1860.0,1379.2 1861.0,1383.8 1862.0,1386.0 1863.0,1390.3 1864.0,1392.3 1865.0,1396.6 1865.1,1395.8 1866.0,1399.7 1867.0,1401.8 1868.0,1405.9 1869.0,1407.8 1870.0,1411.8 1871.0,1413.6 1871.3,1415.5 1872.0,1416.4 1873.0,1420.4 1874.0,1421.9 1875.0,1425.1 1875.4,1424.6 1876.0,1426.4 1877.0,1426.5 1878.0,1428.5 1879.0,1428.1 1879.9,1429.4 1880.0,1428.3 1881.0,1428.1 1882.0,1424.3 1883.0,1422.1 1884.0,1417.9 1884.6,1417.5 1885.0,1415.6 1886.0,1414.4 1887.0,1411.2 1888.0,1411.2 1888.3,1410.0 1889.0,1411.2 1890.0,1410.7 1891.0,1412.6 1892.0,1412.3 1893.0,1414.1 1893.8,1413.3 1894.0,1414.4 1895.0,1413.5 1896.0,1414.7 1897.0,1413.7 1898.0,1414.8 1899.0,1413.8 1900.0,1415.0 1901.0,1414.1 1902.0,1415.8 1903.0,1415.9 1904.0,1418.5 1905.0,1419.0 1906.0,1421.4 1906.2,1420.5 1907.0,1422.5 1908.0,1422.5 1909.0,1424.7 1910.0,1424.5 1911.0,1426.3 1912.0,1425.6 1912.3,1426.7 1913.0,1425.6 1914.0,1426.4 1915.0,1425.0 1916.0,1425.7 1917.0,1424.3 1918.0,1425.1 1919.0,1423.8 1919.5,1424.9 1920.0,1423.9 1921.0,1426.0 1922.0,1426.7 1923.0,1430.2 1923.6,1430.8 1924.0,1433.6 1925.0,1440.5 1926.0,1451.3 1926.7,1455.6 1927.0,1458.6 1928.0,1463.7 1929.0,1470.2 1930.0,1472.8 1930.2,1474.4 1931.0,1474.8 1932.0,1480.6 1933.0,1473.9 1934.0,1483.1 1934.7,1474.9 1935.0,1483.9 1936.0,1475.0 1937.0,1483.1 1938.0,1474.8 1939.0,1482.1 1940.0,1473.4 1941.0,1481.7 1942.0,1472.3 1943.0,1480.8 1943.9,1472.7 1944.0,1480.6 1945.0,1471.6 1946.0,1480.5 1947.0,1471.9 1948.0,1481.2 1949.0,1472.2 1950.0,1480.7 1951.0,1471.0 1952.0,1480.2 1953.0,1471.3 1954.0,1481.0 1955.0,1471.7 1956.0,1480.5 1957.0,1470.9 1958.0,1480.7 1959.0,1471.1 1960.0,1480.1 1961.0,1470.9 1962.0,1480.3 1963.0,1470.9 1964.0,1480.3 1965.0,1470.4 1966.0,1480.8 1967.0,1471.0 1967.6,1480.6 1968.0,1475.1 1969.0,1476.2 1970.0,1475.1"/>
<path stroke="#ff3c3c" d="M277.0,1479.2 278.0,1478.1 279.0,1479.3 280.0,1478.2 281.0,1479.4 282.0,1478.3 283.0,1479.4 284.0,1478.4 285.0,1479.5 286.0,1478.4 287.0,1479.6 288.0,1478.5 289.0,1479.6 290.0,1478.5 291.0,1479.6 292.0,1478.6 293.0,1479.7 294.0,1478.6 295.0,1479.7 296.0,1478.6 297.0,1479.7 298.0,1478.6 299.0,1479.7 300.0,1478.6 301.0,1479.7 302.0,1478.6 303.0,1479.8 304.0,1478.7 305.0,1479.8 306.0,1478.7 307.0,1479.8 308.0,1478.7 309.0,1479.8 309.7,1478.7 310.0,1479.8 311.0,1478.7 312.0,1479.7 313.0,1478.6 314.0,1479.7 315.0,1478.6 316.0,1479.7 317.0,1478.5 318.0,1479.6 319.0,1478.4 320.0,1479.5 321.0,1478.3 322.0,1479.4 323.0,1478.2 324.0,1479.3 325.0,1478.1 326.0,1479.1 327.0,1478.0 328.0,1479.0 329.0,1477.8 330.0,1478.9 331.0,1477.7 332.0,1478.7 333.0,1477.5 334.0,1478.5 335.0,1477.3 336.0,1478.4 337.0,1477.2 338.0,1478.2 339.0,1477.0 340.0,1478.0 341.0,1476.8 342.0,1477.8 343.0,1476.6 344.0,1477.6 345.0,1476.5 346.0,1477.5 347.0,1476.3 348.0,1477.3 349.0,1476.1 349.4,1477.2 350.0,1476.0 351.0,1477.0 352.0,1475.8 353.0,1476.8 354.0,1475.6 355.0,1476.6 356.0,1475.4 357.0,1476.4 358.0,1475.2 359.0,1476.2 360.0,1474.9 361.0,1475.9 362.0,1474.7 363.0,1475.7 364.0,1474.4 365.0,1475.4 366.0,1474.2 367.0,1475.1 368.0,1473.9 369.0,1474.9 370.0,1473.6 371.0,1474.6 372.0,1473.3 373.0,1474.3 374.0,1473.1 375.0,1474.0 376.0,1472.8 377.0,1473.7 378.0,1472.5 379.0,1473.5 380.0,1472.2 381.0,1473.2 382.0,1472.0 383.0,1472.9 384.0,1471.7 385.0,1472.7 386.0,1471.5 387.0,1472.5 388.0,1471.2 389.0,1472.2 390.0,1471.0 391.0,1472.0 392.0,1470.8 393.0,1471.8 394.0,1470.6 395.0,1471.6 396.0,1470.4 397.0,1471.3 398.0,1470.1 399.0,1471.1 400.0,1469.9 401.0,1470.9 402.0,1469.7 403.0,1470.7 404.0,1469.5 405.0,1470.5 406.0,1469.3 407.0,1470.3 408.0,1469.1 409.0,1470.1 410.0,1468.9 411.0,1469.9 412.0,1468.7 413.0,1469.7 414.0,1468.5 415.0,1469.5 416.0,1468.3 417.0,1469.3 418.0,1468.1 419.0,1469.1 420.0,1467.9 421.0,1468.9 422.0,1467.7 423.0,1468.8 424.0,1467.6 425.0,1468.6 426.0,1467.4 427.0,1468.4 428.0,1467.2 428.7,1468.3 429.0,1467.1 430.0,1468.1 431.0,1467.0 432.0,1468.0 433.0,1466.8 434.0,1467.8 435.0,1466.6 436.0,1467.6 437.0,1466.5 438.0,1467.5 439.0,1466.3 440.0,1467.3 441.0,1466.2 442.0,1467.2 443.0,1466.0 444.0,1467.0 445.0,1465.8 446.0,1466.9 447.0,1465.7 448.0,1466.7 449.0,1465.5 450.0,1466.6 451.0,1465.4 452.0,1466.4 453.0,1465.3 454.0,1466.3 455.0,1465.1 456.0,1466.1 457.0,1465.0 458.0,1466.0 459.0,1464.8 460.0,1465.9 461.0,1464.7 462.0,1465.7 463.0,1464.5 464.0,1465.6 465.0,1464.4 466.0,1465.4 467.0,1464.3 468.0,1465.3 468.4,1464.2 469.0,1465.2 470.0,1464.1 471.0,1465.1 472.0,1463.9 473.0,1464.9 474.0,1463.8 475.0,1464.8 476.0,1463.6 477.0,1464.6 478.0,1463.5 479.0,1464.5 480.0,1463.3 481.0,1464.3 482.0,1463.2 483.0,1464.2 484.0,1463.0 485.0,1464.0 486.0,1462.9 487.0,1463.9 488.0,1462.7 489.0,1463.7 490.0,1462.6 491.0,1463.6 492.0,1462.4 493.0,1463.5 494.0,1462.3 495.0,1463.3 496.0,1462.2 497.0,1463.2 498.0,1462.0 499.0,1463.1 500.0,1461.9 501.0,1463.0 502.0,1461.8 503.0,1462.9 504.0,1461.7 505.0,1462.8 506.0,1461.7 507.0,1462.7 508.0,1461.6 508.1,1462.7 509.0,1461.6 510.0,1462.6 511.0,1461.5 512.0,1462.6 513.0,1461.4 514.0,1462.5 515.0,1461.4 516.0,1462.5 517.0,1461.3 518.0,1462.4 519.0,1461.3 520.0,1462.3 521.0,1461.2 522.0,1462.3 523.0,1461.2 524.0,1462.2 525.0,1461.1 526.0,1462.2 527.0,1461.1 528.0,1462.1 529.0,1461.0 530.0,1462.1 531.0,1461.0 532.0,1462.1 533.0,1460.9 534.0,1462.0 535.0,1460.9 536.0,1462.0 537.0,1460.9 538.0,1462.0 539.0,1460.9 540.0,1461.9 541.0,1460.8 542.0,1461.9 543.0,1460.8 544.0,1461.9 545.0,1460.8 546.0,1461.9 547.0,1460.8 547.8,1461.9 548.0,1460.8 549.0,1461.9 550.0,1460.8 551.0,1461.9 552.0,1460.8 553.0,1461.9 554.0,1460.8 555.0,1461.9 556.0,1460.8 557.0,1461.9 558.0,1460.8 559.0,1461.9 560.0,1460.8 561.0,1461.9 562.0,1460.8 563.0,1461.9 564.0,1460.8 565.0,1461.9 566.0,1460.8 567.0,1461.9 568.0,1460.8 569.0,1461.9 570.0,1460.8 571.0,1461.9 572.0,1460.8 573.0,1461.9 574.0,1460.8 575.0,1461.9 576.0,1460.8 577.0,1461.9 578.0,1460.8 579.0,1461.9 580.0,1460.8 581.0,1461.9 582.0,1460.8 583.0,1461.9 584.0,1460.8 585.0,1461.9 586.0,1460.8 587.0,1461.9 587.5,1460.8 588.0,1461.9 589.0,1460.8 590.0,1461.9 591.0,1460.8 592.0,1461.9 593.0,1460.9 594.0,1462.0 595.0,1460.9 596.0,1462.1 597.0,1461.0 598.0,1462.2 599.0,1461.1 600.0,1462.2 601.0,1461.2 602.0,1462.4 603.0,1461.3 604.0,1462.5 605.0,1461.4 606.0,1462.6 607.0,1461.6 608.0,1462.7 609.0,1461.7 610.0,1462.9 611.0,1461.9 612.0,1463.0 613.0,1462.0 614.0,1463.2 615.0,1462.2 616.0,1463.4 617.0,1462.4 618.0,1463.5 619.0,1462.5 620.0,1463.7 621.0,1462.7 622.0,1463.9 623.0,1462.8 624.0,1464.0 625.0,1463.0 626.0,1464.2 627.0,1463.2 627.1,1464.3 628.0,1463.2 629.0,1464.4 630.0,1463.4 631.0,1464.6 632.0,1463.6 633.0,1464.8 634.0,1463.8 635.0,1465.0 636.0,1464.0 637.0,1465.2 638.0,1464.2 639.0,1465.4 640.0,1464.4 641.0,1465.6 642.0,1464.6 643.0,1465.8 644.0,1464.8 645.0,1466.0 646.0,1465.0 647.0,1466.2 648.0,1465.3 649.0,1466.5 650.0,1465.5 651.0,1466.7 652.0,1465.7 653.0,1467.0 654.0,1466.0 655.0,1467.2 656.0,1466.2 657.0,1467.5 658.0,1466.5 659.0,1467.7 660.0,1466.8 661.0,1468.0 662.0,1467.0 663.0,1468.3 664.0,1467.3 665.0,1468.5 666.0,1467.6 667.0,1468.8 668.0,1467.9 669.0,1469.1 670.0,1468.1 671.0,1469.4 672.0,1468.4 673.0,1469.7 674.0,1468.8 675.0,1470.1 676.0,1469.1 677.0,1470.4 678.0,1469.5 679.0,1470.8 680.0,1469.9 681.0,1471.2 682.0,1470.3 683.0,1471.5 684.0,1470.6 685.0,1471.9 686.0,1471.0 687.0,1472.3 688.0,1471.3 689.0,1472.6 690.0,1471.6 691.0,1472.9 692.0,1471.9 693.0,1473.1 694.0,1472.1 695.0,1473.4 696.0,1472.4 697.0,1473.6 698.0,1472.6 699.0,1473.8 700.0,1472.8 701.0,1474.1 702.0,1473.1 703.0,1474.3 704.0,1473.3 705.0,1474.5 706.0,1473.5 707.0,1474.7 708.0,1473.7 709.0,1474.9 710.0,1473.9 711.0,1475.1 712.0,1474.1 713.0,1475.3 714.0,1474.3 715.0,1475.5 716.0,1474.5 717.0,1475.6 718.0,1474.6 719.0,1475.8 720.0,1474.8 721.0,1476.0 722.0,1475.0 723.0,1476.2 724.0,1475.2 725.0,1476.4 726.0,1475.3 727.0,1476.5 728.0,1475.5 729.0,1476.7 730.0,1475.7 731.0,1476.9 732.0,1475.9 732.1,1477.0 733.0,1475.9 734.0,1477.1 735.0,1476.1 736.0,1477.3 737.0,1476.3 738.0,1477.5 739.0,1476.5 740.0,1477.7 741.0,1476.7 742.0,1477.9 743.0,1476.9 744.0,1478.1 745.0,1477.1 746.0,1478.3 747.0,1477.3 748.0,1478.5 749.0,1477.5 750.0,1478.7 751.0,1477.7 752.0,1478.9 753.0,1477.9 754.0,1479.1 755.0,1478.1 756.0,1479.2 757.0,1478.2 758.0,1479.4 759.0,1478.4 760.0,1479.5 761.0,1478.5 762.0,1479.7 763.0,1478.6 764.0,1479.8 765.0,1478.7 766.0,1479.9 767.0,1478.8 768.0,1480.0 769.0,1478.9 770.0,1480.0 771.0,1478.9 772.0,1480.0 773.0,1478.9 773.1,1480.0 774.0,1478.9 775.0,1480.0 776.0,1478.9 777.0,1480.0 778.0,1478.9 779.0,1480.0 780.0,1478.9 781.0,1480.0 782.0,1478.9 783.0,1480.0 784.0,1478.9 785.0,1480.0 786.0,1478.9 787.0,1480.0 788.0,1478.9 789.0,1480.0 790.0,1478.9 791.0,1480.0 792.0,1478.9 793.0,1480.0 793.6,1478.9 794.0,1480.0 795.0,1478.8 796.0,1479.7 797.0,1478.2 798.0,1478.9 799.0,1477.4 800.0,1478.0 801.0,1476.3 801.8,1477.0 802.0,1475.7 803.0,1476.1 804.0,1474.1 805.0,1474.2 806.0,1471.9 807.0,1471.8 808.0,1469.4 809.0,1469.2 809.4,1467.6 810.0,1468.0 811.0,1465.6 812.0,1465.4 813.0,1462.9 814.0,1462.5 815.0,1459.7 815.1,1460.6 816.0,1457.8 817.0,1456.6 818.0,1453.1 819.0,1451.6 820.0,1447.8 820.3,1448.1 821.0,1445.0 822.0,1442.8 823.0,1438.4 824.0,1436.7 824.4,1434.8 825.0,1434.6 826.0,1431.4 827.0,1430.5 828.0,1427.8 829.0,1427.9 829.9,1426.4 830.0,1427.5 831.0,1427.2 832.0,1429.9 833.0,1431.0 834.0,1434.6 835.0,1435.7 835.6,1437.9 836.0,1437.5 837.0,1440.4 838.0,1441.2 839.0,1444.0 840.0,1444.0 840.8,1445.4 841.0,1444.3 842.0,1444.9 843.0,1442.8 844.0,1442.4 845.0,1439.4 846.0,1438.2 846.9,1434.9 847.0,1435.7 848.0,1429.7 849.0,1422.9 850.0,1412.6 851.0,1404.6 852.0,1396.2 852.1,1396.7 853.0,1390.1 854.0,1385.0 855.0,1378.1 856.0,1374.4 857.0,1370.2 857.8,1370.5 858.0,1369.5 859.0,1373.9 860.0,1379.4 861.0,1389.0 862.0,1396.7 863.0,1405.3 863.3,1405.9 864.0,1410.7 865.0,1414.8 866.0,1420.9 867.0,1424.4 868.0,1429.4 869.0,1431.6 869.5,1433.9 870.0,1433.9 871.0,1437.0 872.0,1437.7 873.0,1440.4 874.0,1440.8 875.0,1443.2 876.0,1443.2 877.0,1445.5 877.7,1445.1 878.0,1446.5 879.0,1446.5 880.0,1448.7 881.0,1448.7 882.0,1450.8 883.0,1450.6 884.0,1452.5 885.0,1452.0 886.0,1453.5 886.9,1452.5 887.0,1453.6 888.0,1452.3 889.0,1452.8 890.0,1451.0 891.0,1451.2 892.0,1449.2 893.0,1449.4 894.0,1447.6 895.0,1448.3 895.1,1447.1 896.0,1448.1 897.0,1446.8 898.0,1447.8 899.0,1446.6 900.0,1447.6 901.0,1446.2 901.3,1447.2 902.0,1444.7 903.0,1440.9 904.0,1433.6 905.0,1429.2 905.4,1426.6 906.0,1425.8 907.0,1421.6 908.0,1420.0 909.0,1417.4 909.5,1418.3 910.0,1417.5 911.0,1420.9 912.0,1423.8 913.0,1429.8 914.0,1433.9 914.6,1437.9 915.0,1438.9 916.0,1446.8 917.0,1453.1 918.0,1460.2 918.7,1461.5 919.0,1463.1 920.0,1463.5 921.0,1465.8 922.0,1465.6 923.0,1467.5 924.0,1467.1 924.9,1468.8 925.0,1467.7 926.0,1469.5 927.0,1469.0 928.0,1470.7 929.0,1470.1 930.0,1471.7 931.0,1471.1 932.0,1472.6 933.0,1472.0 934.0,1473.4 935.0,1472.7 936.0,1474.1 937.0,1473.3 937.2,1474.5 938.0,1473.6 939.0,1475.0 940.0,1474.2 941.0,1475.5 942.0,1474.7 943.0,1476.0 944.0,1475.1 945.0,1476.4 946.0,1475.5 947.0,1476.8 948.0,1475.9 949.0,1477.2 950.0,1476.3 951.0,1477.5 952.0,1476.6 953.0,1477.9 954.0,1476.9 955.0,1478.2 956.0,1477.2 957.0,1478.5 957.7,1477.5 958.0,1478.6 959.0,1477.7 960.0,1479.0 961.0,1478.0 962.0,1479.3 963.0,1478.3 964.0,1479.6 965.0,1478.7 966.0,1479.9 967.0,1479.0 968.0,1480.2 969.0,1479.3 970.0,1480.5 971.0,1479.5 972.0,1480.7 973.0,1479.7 974.0,1480.9 975.0,1479.9 976.0,1481.0 977.0,1479.9 978.0,1481.1 978.2,1480.0 979.0,1481.1 980.0,1480.0 981.0,1481.1 982.0,1480.0 983.0,1481.1 984.0,1480.0 985.0,1481.1 986.0,1480.0 987.0,1481.1 988.0,1480.0 989.0,1481.1 990.0,1480.0 991.0,1481.1 992.0,1480.0 993.0,1481.1 994.0,1480.0 995.0,1481.1 996.0,1480.0 997.0,1481.1 998.0,1480.0 999.0,1481.1 1000.0,1480.0 1001.0,1481.1 1002.0,1480.0 1003.0,1481.1 1004.0,1480.0 1005.0,1481.1 1006.0,1480.0 1007.0,1481.1 1008.0,1480.0 1009.0,1481.1 1010.0,1480.0 1011.0,1481.1 1012.0,1480.0 1013.0,1481.1 1014.0,1480.0 1015.0,1481.1 1016.0,1480.0 1017.0,1481.1 1018.0,1480.0 1019.0,1481.1 1020.0,1480.0 1021.0,1481.1 1022.0,1480.0 1023.0,1481.1 1024.0,1480.0 1025.0,1481.1 1026.0,1480.0 1027.0,1481.1 1028.0,1480.0"/>
<path stroke="#ff3c3c" d="M1054.0,1481.5 1055.0,1480.4 1056.0,1481.5 1057.0,1480.4 1058.0,1481.5 1059.0,1480.4 1060.0,1481.5 1061.0,1480.3 1062.0,1481.4 1063.0,1480.3 1064.0,1481.4 1065.0,1480.3 1066.0,1481.4 1067.0,1480.3 1068.0,1481.4 1069.0,1480.2 1070.0,1481.3 1071.0,1480.2 1072.0,1481.3 1073.0,1480.2 1074.0,1481.2 1075.0,1480.1 1076.0,1481.2 1077.0,1480.1 1078.0,1481.1 1079.0,1480.0 1080.0,1481.1 1081.0,1480.0 1082.0,1481.0 1083.0,1479.9 1084.0,1480.9 1085.0,1479.8 1086.0,1480.9 1087.0,1479.7 1088.0,1480.8 1089.0,1479.6 1090.0,1480.7 1091.0,1479.5 1092.0,1480.6 1093.0,1479.4 1094.0,1480.5 1095.0,1479.3 1096.0,1480.4 1097.0,1479.2 1098.0,1480.3 1099.0,1479.1 1100.0,1480.1 1101.0,1479.0 1101.5,1480.0 1102.0,1478.9 1103.0,1479.8 1104.0,1478.5 1105.0,1479.3 1106.0,1477.9 1107.0,1478.6 1108.0,1477.2 1109.0,1477.9 1110.0,1476.4 1111.0,1477.2 1111.8,1475.9 1112.0,1476.9 1113.0,1475.5 1114.0,1476.4 1115.0,1475.0 1116.0,1475.9 1117.0,1474.5 1118.0,1475.4 1119.0,1474.1 1120.0,1474.9 1121.0,1473.6 1122.0,1474.5 1123.0,1473.2 1124.0,1474.0 1125.0,1472.7 1126.0,1473.6 1127.0,1472.2 1128.0,1473.0 1129.0,1471.7 1130.0,1472.5 1131.0,1471.1 1132.0,1471.9 1132.3,1470.7 1133.0,1471.6 1134.0,1470.2 1135.0,1471.0 1136.0,1469.6 1137.0,1470.3 1138.0,1468.8 1139.0,1469.5 1140.0,1467.9 1140.5,1468.8 1141.0,1467.4 1142.0,1467.7 1143.0,1465.8 1144.0,1465.9 1145.0,1463.7 1146.0,1463.6 1147.0,1461.4 1148.0,1461.3 1148.7,1459.5 1149.0,1460.2 1150.0,1458.0 1151.0,1457.8 1152.0,1455.4 1153.0,1455.2 1154.0,1452.8 1155.0,1452.6 1156.0,1450.3 1157.0,1450.2 1158.0,1448.1 1159.0,1448.2 1160.0,1446.3 1161.0,1446.5 1162.0,1444.6 1163.0,1444.9 1164.0,1443.1 1165.0,1443.5 1166.0,1441.7 1167.0,1442.1 1168.0,1440.5 1169.0,1441.0 1170.0,1439.5 1171.0,1440.1 1171.3,1438.9 1172.0,1439.8 1173.0,1438.4 1174.0,1439.1 1175.0,1437.8 1176.0,1438.6 1177.0,1437.2 1178.0,1438.1 1179.0,1436.8 1180.0,1437.7 1181.0,1436.4 1182.0,1437.3 1183.0,1436.0 1183.6,1437.0 1184.0,1435.8 1185.0,1436.7 1186.0,1435.4 1187.0,1436.3 1188.0,1435.0 1189.0,1435.9 1190.0,1434.6 1191.0,1435.5 1192.0,1434.3 1193.0,1435.2 1194.0,1434.0 1195.0,1434.9 1196.0,1433.7 1197.0,1434.8 1198.0,1433.6 1199.0,1434.7 1200.0,1433.7 1201.0,1435.1 1202.0,1434.5 1203.0,1436.2 1204.0,1435.9 1205.0,1437.8 1206.0,1437.5 1207.0,1439.4 1208.0,1439.1 1209.0,1440.9 1210.0,1440.4 1210.3,1441.7 1211.0,1441.0 1212.0,1442.6 1213.0,1442.0 1214.0,1443.5 1215.0,1442.9 1216.0,1444.4 1217.0,1443.8 1218.0,1445.3 1219.0,1444.6 1220.0,1446.2 1221.0,1445.5 1222.0,1447.0 1223.0,1446.4 1224.0,1448.0 1224.6,1447.1 1225.0,1448.4 1226.0,1447.8 1227.0,1449.5 1228.0,1448.9 1229.0,1450.5 1230.0,1450.0 1231.0,1451.6 1232.0,1451.0 1233.0,1452.7 1234.0,1452.1 1235.0,1453.6 1236.0,1452.9 1236.9,1454.4 1237.0,1453.3 1238.0,1454.8 1239.0,1454.0 1240.0,1455.4 1241.0,1454.6 1242.0,1456.0 1243.0,1455.2 1244.0,1456.6 1245.0,1455.8 1246.0,1457.1 1247.0,1456.3 1248.0,1457.6 1249.0,1456.8 1250.0,1458.1 1251.0,1457.3 1252.0,1458.6 1253.0,1457.8 1254.0,1459.1 1255.0,1458.3 1255.4,1459.5 1256.0,1458.6 1257.0,1460.0 1258.0,1459.1 1259.0,1460.5 1260.0,1459.7 1261.0,1461.0 1262.0,1460.2 1263.0,1461.6 1264.0,1460.8 1265.0,1462.2 1266.0,1461.3 1267.0,1462.7 1268.0,1462.0 1269.0,1463.4 1269.7,1462.5 1270.0,1463.7 1271.0,1463.0 1272.0,1464.4 1273.0,1463.7 1274.0,1465.1 1275.0,1464.4 1276.0,1465.9 1277.0,1465.2 1278.0,1466.8 1279.0,1466.1 1280.0,1467.7 1281.0,1467.1 1282.0,1468.7 1282.1,1467.7 1283.0,1469.3 1284.0,1469.0 1285.0,1470.9 1286.0,1470.7 1287.0,1472.7 1288.0,1472.5 1289.0,1474.5 1290.0,1474.3 1291.0,1476.1 1292.0,1475.7 1292.3,1477.0 1293.0,1476.2 1294.0,1477.9 1295.0,1477.4 1296.0,1479.1 1297.0,1478.4 1298.0,1480.0 1299.0,1479.2 1300.0,1480.4 1300.5,1479.3 1301.0,1480.4 1302.0,1479.3 1303.0,1480.4 1304.0,1479.2 1305.0,1480.1 1306.0,1478.9 1307.0,1479.8 1308.0,1478.5 1308.7,1479.4 1309.0,1478.2 1310.0,1478.7 1311.0,1476.6 1312.0,1476.3 1312.8,1473.8 1313.0,1474.5 1314.0,1469.8 1314.9,1466.6 1315.0,1464.9 1316.0,1458.7 1316.3,1456.4 1317.0,1456.2 1318.0,1453.8 1319.0,1454.4 1320.0,1453.4 1321.0,1454.8 1322.0,1454.2 1323.0,1455.8 1324.0,1455.4 1325.0,1457.1 1326.0,1456.7 1327.0,1458.4 1327.2,1457.4 1328.0,1459.0 1329.0,1458.5 1330.0,1460.2 1331.0,1459.8 1332.0,1461.5 1333.0,1461.1 1334.0,1462.8 1335.0,1462.3 1335.4,1463.6 1336.0,1462.9 1337.0,1464.7 1338.0,1464.3 1339.0,1465.9 1340.0,1465.0 1341.0,1466.0 1342.0,1464.6 1343.0,1465.3 1344.0,1463.7 1345.0,1464.1 1346.0,1462.4 1347.0,1462.7 1348.0,1460.9 1349.0,1461.3 1350.0,1459.6 1350.3,1460.5 1351.0,1459.0 1352.0,1459.4 1353.0,1457.5 1354.0,1457.8 1355.0,1455.9 1356.0,1456.2 1357.0,1454.3 1358.0,1454.8 1359.0,1453.1 1360.0,1453.8 1361.0,1452.5 1361.5,1453.6 1362.0,1452.5 1363.0,1454.0 1364.0,1453.7 1365.0,1455.8 1366.0,1455.9 1367.0,1458.3 1368.0,1458.5 1369.0,1460.9 1370.0,1460.8 1370.8,1462.6 1371.0,1461.7 1372.0,1463.6 1373.0,1463.3 1374.0,1465.3 1375.0,1464.9 1376.0,1466.7 1377.0,1466.2 1378.0,1467.6 1379.0,1466.6 1380.0,1467.5 1381.0,1465.7 1382.0,1466.0 1383.0,1464.3 1384.0,1465.1 1384.1,1464.0 1385.0,1465.4 1386.0,1465.1 1387.0,1467.5 1388.0,1467.9 1389.0,1470.5 1390.0,1470.7 1391.0,1472.7 1391.3,1471.8 1392.0,1473.2 1393.0,1472.5 1394.0,1474.0 1395.0,1473.3 1396.0,1474.7 1397.0,1473.9 1398.0,1475.2 1399.0,1474.4 1400.0,1475.7 1401.0,1474.8 1401.5,1475.9 1402.0,1474.9 1403.0,1476.1 1404.0,1475.1 1405.0,1476.3 1406.0,1475.3 1407.0,1476.5 1408.0,1475.4 1409.0,1476.6 1410.0,1475.6 1411.0,1476.8 1411.8,1475.9 1412.0,1477.0 1413.0,1476.1 1414.0,1477.5 1415.0,1476.8 1416.0,1478.2 1417.0,1477.5 1418.0,1479.0 1419.0,1478.3 1420.0,1479.7 1421.0,1478.8 1422.0,1480.0 1422.1,1478.9 1423.0,1480.1 1424.0,1479.0 1425.0,1480.2 1426.0,1479.2 1427.0,1480.3 1428.0,1479.2 1429.0,1480.4 1430.0,1479.3 1431.0,1480.5 1432.0,1479.4 1433.0,1480.5 1434.0,1479.4 1435.0,1480.6 1436.0,1479.5 1437.0,1480.6 1438.0,1479.5 1439.0,1480.6 1440.0,1479.5 1441.0,1480.6 1442.0,1479.6 1442.6,1480.7 1443.0,1479.5 1444.0,1480.6 1445.0,1479.4 1446.0,1480.4 1447.0,1479.2 1448.0,1480.1 1449.0,1478.8 1450.0,1479.6 1451.0,1478.2 1452.0,1479.0 1453.0,1477.6 1454.0,1478.3 1454.9,1476.9 1455.0,1477.9 1456.0,1476.3 1457.0,1476.6 1458.0,1474.5 1459.0,1474.3 1460.0,1471.6 1461.0,1470.9 1462.0,1466.8 1463.0,1462.9 1464.0,1455.0 1465.0,1447.4 1466.0,1436.0 1467.0,1425.1 1468.0,1410.4 1468.7,1401.2 1469.0,1394.0 1469.7,1376.3 1470.0,1368.9 1470.6,1358.4 1471.0,1348.7 1471.5,1340.5 1472.0,1332.8 1472.4,1329.8 1473.0,1323.0 1473.3,1323.0 1474.0,1326.7 1474.2,1329.8 1475.0,1337.9 1475.1,1340.5 1476.0,1357.3 1476.9,1376.3 1477.0,1377.4 1477.9,1401.2 1478.0,1401.6 1479.0,1417.1 1480.0,1428.9 1481.0,1441.4 1482.0,1450.0 1483.0,1459.0 1484.0,1464.0 1485.0,1469.3 1485.6,1469.6 1486.0,1471.4 1487.0,1471.8 1488.0,1474.2 1489.0,1474.1 1490.0,1476.0 1491.0,1475.5 1491.8,1477.0 1492.0,1475.9 1493.0,1477.5 1494.0,1476.8 1495.0,1478.2 1496.0,1477.5 1497.0,1478.9 1498.0,1478.1 1499.0,1479.4 1500.0,1478.5 1501.0,1479.8 1502.0,1478.8 1503.0,1480.0 1504.0,1478.9 1504.1,1480.0 1505.0,1478.9 1506.0,1480.0 1507.0,1478.8 1508.0,1479.8 1509.0,1478.6 1510.0,1479.6 1511.0,1478.4 1512.0,1479.3 1513.0,1478.1 1514.0,1479.1 1514.4,1477.9 1515.0,1478.9 1516.0,1477.6 1517.0,1478.5 1518.0,1477.2 1519.0,1478.1 1520.0,1476.9 1520.5,1478.0 1521.0,1476.9 1522.0,1478.1 1523.0,1477.1 1524.0,1478.4 1525.0,1477.5 1526.0,1478.7 1527.0,1477.8 1528.0,1479.0 1528.7,1477.9 1529.0,1479.0 1530.0,1477.0 1531.0,1476.3 1532.0,1473.0 1533.0,1471.9 1534.0,1468.8 1534.9,1468.7 1535.0,1467.5 1536.0,1467.8 1537.0,1466.0 1538.0,1466.5 1539.0,1464.9 1540.0,1465.5 1541.0,1463.9 1542.0,1464.5 1543.0,1462.9 1544.0,1463.4 1545.0,1461.6 1545.1,1462.6 1546.0,1460.8 1547.0,1461.1 1548.0,1459.2 1549.0,1459.4 1550.0,1457.3 1551.0,1457.4 1552.0,1455.3 1553.0,1455.2 1554.0,1453.0 1555.0,1452.8 1555.4,1451.2 1556.0,1451.5 1557.0,1449.0 1558.0,1448.6 1559.0,1445.8 1560.0,1445.1 1561.0,1442.1 1562.0,1441.3 1563.0,1438.1 1563.6,1438.0 1564.0,1436.0 1565.0,1434.9 1566.0,1431.4 1567.0,1429.9 1568.0,1426.2 1569.0,1424.4 1570.0,1420.3 1571.0,1418.1 1571.8,1414.3 1572.0,1414.7 1573.0,1409.8 1574.0,1406.6 1575.0,1400.9 1576.0,1397.0 1577.0,1390.7 1577.9,1387.0 1578.0,1385.3 1579.0,1380.6 1580.0,1373.2 1581.0,1367.6 1582.0,1359.5 1583.0,1353.5 1584.0,1345.3 1584.1,1345.7 1585.0,1338.1 1586.0,1331.7 1587.0,1323.0 1588.0,1316.5 1588.2,1313.8 1589.0,1308.7 1590.0,1299.3 1591.0,1292.6 1592.0,1284.7 1592.3,1284.2 1593.0,1279.4 1594.0,1275.7 1595.0,1270.4 1596.0,1268.5 1596.4,1266.6 1597.0,1266.9 1598.0,1264.4 1599.0,1264.4 1600.0,1262.3 1601.0,1262.6 1602.0,1260.8 1603.0,1261.3 1604.0,1259.7 1604.6,1260.6 1605.0,1259.3 1606.0,1260.1 1607.0,1258.7 1608.0,1259.5 1609.0,1258.2 1610.0,1259.2 1611.0,1257.9 1612.0,1258.8 1613.0,1257.5 1614.0,1258.4 1615.0,1257.0 1616.0,1257.8 1616.9,1256.4 1617.0,1257.4 1618.0,1255.9 1619.0,1256.4 1620.0,1254.6 1621.0,1254.9 1622.0,1252.9 1623.0,1253.0 1624.0,1250.7 1625.0,1250.5 1626.0,1248.0 1627.0,1247.5 1627.2,1246.1 1628.0,1245.4 1629.0,1241.1 1630.0,1238.2 1631.0,1232.5 1632.0,1228.8 1633.0,1223.0 1633.3,1222.7 1634.0,1218.5 1635.0,1214.8 1636.0,1208.6 1637.0,1204.6 1638.0,1198.3 1639.0,1194.3 1639.5,1190.7 1640.0,1189.3 1641.0,1183.2 1642.0,1179.3 1643.0,1173.2 1644.0,1169.3 1645.0,1163.2 1645.6,1161.3 1646.0,1158.2 1647.0,1154.2 1648.0,1148.0 1649.0,1144.1 1649.7,1139.7 1650.0,1139.3 1651.0,1132.7 1652.0,1127.9 1653.0,1120.9 1654.0,1116.9 1655.0,1111.8 1656.0,1110.8 1656.4,1109.5 1657.0,1110.8 1658.0,1111.2 1659.0,1115.0 1660.0,1117.7 1661.0,1123.6 1662.0,1128.2 1663.0,1135.7 1663.7,1139.5 1664.0,1143.4 1665.0,1158.7 1666.0,1181.0 1667.0,1198.5 1667.2,1202.4 1668.0,1210.7 1669.0,1221.8 1670.0,1229.8 1671.0,1240.3 1671.3,1242.2 1672.0,1250.6 1673.0,1260.1 1674.0,1271.8 1675.0,1281.2 1675.2,1284.4 1676.0,1291.5 1677.0,1303.0 1678.0,1312.0 1679.0,1322.6 1679.3,1324.2 1680.0,1331.4 1681.0,1338.6 1682.0,1347.6 1683.0,1354.2 1684.0,1363.0 1684.4,1365.0 1685.0,1370.9 1686.0,1378.0 1687.0,1387.3 1688.0,1394.1 1689.0,1402.5 1689.7,1405.9 1690.0,1408.7 1691.0,1413.3 1692.0,1419.8 1693.0,1423.7 1694.0,1429.4 1695.0,1432.6 1696.0,1437.6 1696.1,1436.9 1697.0,1441.3 1698.0,1443.7 1699.0,1448.1 1700.0,1450.1 1701.0,1454.1 1702.0,1455.6 1703.0,1459.1 1703.7,1459.5 1704.0,1461.2 1705.0,1462.0 1706.0,1465.0 1707.0,1465.7 1708.0,1468.5 1709.0,1469.0 1710.0,1471.5 1711.0,1471.6 1712.0,1473.8 1713.0,1473.6 1713.3,1474.9 1714.0,1474.3 1715.0,1476.0 1716.0,1475.5 1717.0,1477.2 1718.0,1476.7 1719.0,1478.3 1720.0,1477.7 1721.0,1479.2 1722.0,1478.5 1723.0,1480.0 1724.0,1479.2 1725.0,1480.6 1726.0,1479.7 1727.0,1481.0 1727.7,1480.0 1728.0,1481.1 1729.0,1480.1 1730.0,1481.3 1731.0,1480.3 1732.0,1481.5 1733.0,1480.5 1734.0,1481.7 1735.0,1480.7 1736.0,1481.9 1737.0,1480.9 1738.0,1482.0 1739.0,1481.0 1740.0,1482.1 1741.0,1481.1 1742.0,1482.2 1743.0,1481.2 1744.0,1482.3 1745.0,1481.2 1746.0,1482.3 1746.2,1481.2 1747.0,1482.2 1748.0,1480.8 1749.0,1481.4 1750.0,1479.6 1751.0,1479.9 1752.0,1477.9 1753.0,1478.1 1754.0,1476.0 1755.0,1476.2 1756.0,1474.2 1756.4,1474.9 1757.0,1473.3 1758.0,1473.3 1759.0,1471.0 1760.0,1470.8 1761.0,1468.4 1762.0,1468.3 1763.0,1466.1 1764.0,1466.4 1765.0,1464.9 1765.6,1465.9 1766.0,1464.8 1767.0,1466.1 1768.0,1465.4 1769.0,1467.1 1770.0,1466.7 1771.0,1468.5 1772.0,1468.1 1773.0,1469.8 1774.0,1469.3 1775.0,1470.7 1775.9,1469.7 1776.0,1470.8 1777.0,1469.2 1778.0,1469.3 1779.0,1466.6 1780.0,1465.9 1781.0,1462.9 1782.0,1462.2 1783.0,1459.6 1783.1,1460.5 1784.0,1458.3 1785.0,1458.3 1786.0,1456.1 1787.0,1456.2 1788.0,1454.0 1789.0,1453.8 1790.0,1451.3 1791.0,1450.8 1791.3,1449.2 1792.0,1448.9 1793.0,1445.3 1794.0,1443.5 1795.0,1438.9 1796.0,1435.8 1796.4,1432.8 1797.0,1430.4 1798.0,1421.1 1799.0,1412.3 1799.5,1406.0 1800.0,1401.3 1801.0,1386.4 1802.0,1373.3 1802.6,1364.7 1803.0,1361.3 1804.0,1349.8 1805.0,1341.2 1806.0,1330.6 1806.7,1324.8 1807.0,1320.7 1808.0,1311.8 1809.0,1300.7 1810.0,1291.8 1810.8,1282.7 1811.0,1281.8 1812.0,1269.9 1813.0,1260.1 1814.0,1249.0 1814.9,1242.9 1815.0,1241.1 1816.0,1235.8 1817.0,1229.2 1817.9,1226.8 1818.0,1225.5 1819.0,1223.8 1820.0,1220.9 1820.4,1221.8 1821.0,1221.5 1822.0,1226.7 1823.0,1231.3 1823.1,1233.0 1824.0,1238.8 1825.0,1250.3 1826.0,1260.8 1826.2,1264.2 1827.0,1273.3 1828.0,1288.5 1829.0,1300.8 1829.2,1304.3 1830.0,1312.5 1831.0,1324.7 1832.0,1332.4 1832.3,1335.4 1833.0,1338.1 1834.0,1343.6 1835.0,1345.8 1835.4,1347.8 1836.0,1347.7 1837.0,1349.9 1838.0,1349.6 1839.0,1351.6 1840.0,1351.8 1840.5,1353.9 1841.0,1354.6 1842.0,1362.7 1843.0,1370.5 1843.6,1376.5 1844.0,1378.5 1845.0,1387.7 1846.0,1394.7 1847.0,1403.1 1847.7,1406.2 1848.0,1408.8 1849.0,1412.5 1850.0,1417.9 1851.0,1420.7 1852.0,1425.2 1852.8,1426.6 1853.0,1428.3 1854.0,1429.9 1855.0,1433.6 1856.0,1434.8 1857.0,1438.1 1858.0,1439.1 1859.0,1442.2 1860.0,1443.0 1861.0,1446.0 1862.0,1446.6 1863.0,1449.3 1864.0,1449.8 1865.0,1452.5 1866.0,1453.1 1867.0,1456.1 1867.2,1455.4 1868.0,1458.2 1869.0,1459.6 1870.0,1463.3 1871.0,1464.8 1872.0,1468.3 1873.0,1469.2 1873.3,1470.8 1874.0,1470.8 1875.0,1473.4 1876.0,1473.9 1877.0,1476.4 1878.0,1476.5 1879.0,1478.5 1880.0,1477.8 1880.5,1479.0 1881.0,1477.8 1882.0,1478.3 1883.0,1476.0 1884.0,1475.7 1885.0,1473.0 1886.0,1472.7 1887.0,1470.3 1887.7,1470.8 1888.0,1469.5 1889.0,1469.9 1890.0,1468.2 1891.0,1468.8 1892.0,1467.2 1893.0,1467.8 1894.0,1466.3 1895.0,1467.0 1895.9,1465.6 1896.0,1466.7 1897.0,1465.3 1898.0,1466.1 1899.0,1464.7 1900.0,1465.6 1901.0,1464.2 1902.0,1465.1 1903.0,1463.8 1904.0,1464.7 1905.0,1463.4 1906.0,1464.3 1906.2,1463.1 1907.0,1464.1 1908.0,1462.8 1909.0,1463.8 1910.0,1462.5 1911.0,1463.5 1912.0,1462.2 1913.0,1463.0 1914.0,1461.6 1914.4,1462.6 1915.0,1461.0 1916.0,1460.6 1917.0,1457.5 1918.0,1456.6 1919.0,1453.8 1920.0,1454.2 1920.1,1453.1 1921.0,1455.5 1922.0,1458.0 1923.0,1463.6 1924.0,1466.3 1924.6,1468.7 1925.0,1468.1 1926.0,1470.4 1927.0,1470.3 1928.0,1475.1 1929.0,1467.6 1929.3,1476.0 1930.0,1467.7 1931.0,1476.8 1932.0,1468.1 1933.0,1476.6 1934.0,1468.8 1935.0,1476.5 1936.0,1468.4 1937.0,1477.1 1938.0,1468.2 1939.0,1477.0 1940.0,1469.0 1941.0,1477.0 1942.0,1468.1 1943.0,1476.9 1943.9,1468.5 1944.0,1477.8 1945.0,1469.0 1946.0,1477.4 1947.0,1467.9 1948.0,1477.1 1949.0,1468.3 1950.0,1477.9 1951.0,1468.7 1952.0,1477.5 1953.0,1468.0 1954.0,1477.7 1955.0,1468.3 1956.0,1477.2 1957.0,1468.2 1958.0,1477.4 1959.0,1468.2 1960.0,1477.5 1961.0,1467.7 1962.0,1478.0 1963.0,1468.3 1964.0,1477.8 1965.0,1468.3 1966.0,1477.7 1967.0,1468.2 1967.6,1478.0 1968.0,1472.3 1969.0,1473.4 1970.0,1472.3"/>
<path stroke="#006ee1" d="M277.0,1367.1 278.0,1365.9 279.0,1367.0 280.0,1365.9 281.0,1367.0 282.0,1365.9 283.0,1367.0 284.0,1365.9 285.0,1367.0 286.0,1365.9 287.0,1367.0 288.0,1365.9 289.0,1367.0 290.0,1365.9 291.0,1366.9 292.0,1365.8 293.0,1366.9 294.0,1365.8 295.0,1366.9 296.0,1365.8 297.0,1366.9 298.0,1365.8 299.0,1366.9 300.0,1365.8 301.0,1366.9 302.0,1365.8 303.0,1366.9 304.0,1365.8 305.0,1366.8 306.0,1365.7 307.0,1366.8 308.0,1365.7 309.0,1366.8 310.0,1365.7 311.0,1366.8 312.0,1365.7 313.0,1366.8 314.0,1365.7 315.0,1366.8 316.0,1365.7 317.0,1366.8 318.0,1365.7 319.0,1366.8 320.0,1365.6 321.0,1366.7 322.0,1365.6 323.0,1366.7 324.0,1365.6 325.0,1366.7 326.0,1365.6 327.0,1366.7 328.0,1365.6 329.0,1366.7 330.0,1365.6 331.0,1366.7 332.0,1365.6 333.0,1366.7 334.0,1365.6 335.0,1366.7 336.0,1365.5 337.0,1366.6 338.0,1365.5 339.0,1366.6 340.0,1365.5 341.0,1366.6 342.0,1365.5 343.0,1366.6 344.0,1365.5 345.0,1366.6 346.0,1365.5 347.0,1366.6 348.0,1365.5 349.0,1366.6 350.0,1365.5 351.0,1366.6 352.0,1365.5 353.0,1366.6 354.0,1365.5 355.0,1366.5 356.0,1365.4 357.0,1366.5 358.0,1365.4 359.0,1366.5 360.0,1365.4 361.0,1366.5 362.0,1365.4 363.0,1366.5 364.0,1365.4 365.0,1366.5 366.0,1365.4 367.0,1366.5 368.0,1365.4 369.0,1366.5 370.0,1365.4 371.0,1366.5 372.0,1365.4 373.0,1366.5 374.0,1365.4 375.0,1366.5 376.0,1365.4 377.0,1366.4 378.0,1365.3 379.0,1366.4 380.0,1365.3 381.0,1366.4 382.0,1365.3 383.0,1366.4 384.0,1365.3 385.0,1366.4 386.0,1365.3 387.0,1366.4 388.0,1365.3 389.0,1366.4 390.0,1365.3 391.0,1366.4 392.0,1365.3 393.0,1366.4 394.0,1365.3 395.0,1366.4 396.0,1365.3 397.0,1366.4 398.0,1365.3 399.0,1366.4 400.0,1365.3 401.0,1366.4 402.0,1365.3 403.0,1366.4 404.0,1365.3 405.0,1366.4 406.0,1365.3 407.0,1366.3 408.0,1365.2 409.0,1366.3 410.0,1365.2 411.0,1366.3 412.0,1365.2 413.0,1366.3 414.0,1365.2 415.0,1366.3 416.0,1365.2 417.0,1366.3 418.0,1365.2 419.0,1366.3 420.0,1365.2 421.0,1366.3 422.0,1365.2 423.0,1366.3 424.0,1365.2 425.0,1366.3 426.0,1365.2 427.0,1366.3 428.0,1365.2 429.0,1366.3 430.0,1365.2 431.0,1366.3 432.0,1365.2 433.0,1366.3 434.0,1365.2 435.0,1366.3 436.0,1365.2 437.0,1366.3 438.0,1365.2 439.0,1366.3 440.0,1365.2 441.0,1366.3 442.0,1365.2 443.0,1366.3 444.0,1365.2 445.0,1366.3 446.0,1365.2 447.0,1366.3 448.0,1365.2 449.0,1366.3 450.0,1365.2 451.0,1366.3 452.0,1365.2 453.0,1366.3 454.0,1365.2 455.0,1366.3 456.0,1365.2 457.0,1366.3 458.0,1365.2 459.0,1366.3 460.0,1365.2 461.0,1366.3 462.0,1365.2 463.0,1366.3 464.0,1365.2 465.0,1366.3 466.0,1365.2 467.0,1366.3 468.0,1365.2 468.4,1366.3 469.0,1365.2 470.0,1366.3 471.0,1365.2 472.0,1366.3 473.0,1365.2 474.0,1366.3 475.0,1365.2 476.0,1366.3 477.0,1365.2 478.0,1366.3 479.0,1365.2 480.0,1366.3 481.0,1365.2 482.0,1366.3 483.0,1365.2 484.0,1366.3 485.0,1365.2 486.0,1366.3 487.0,1365.2 488.0,1366.3 489.0,1365.2 490.0,1366.3 491.0,1365.2 492.0,1366.3 493.0,1365.2 494.0,1366.3 495.0,1365.2 496.0,1366.3 497.0,1365.2 498.0,1366.3 499.0,1365.2 500.0,1366.3 501.0,1365.2 502.0,1366.3 503.0,1365.2 504.0,1366.3 505.0,1365.2 506.0,1366.3 507.0,1365.2 508.0,1366.3 509.0,1365.2 510.0,1366.3 511.0,1365.2 512.0,1366.3 513.0,1365.2 514.0,1366.3 515.0,1365.2 516.0,1366.3 517.0,1365.2 518.0,1366.3 519.0,1365.2 520.0,1366.3 521.0,1365.2 522.0,1366.3 523.0,1365.2 524.0,1366.3 525.0,1365.2 526.0,1366.3 527.0,1365.2 528.0,1366.3 529.0,1365.2 530.0,1366.3 531.0,1365.2 532.0,1366.3 533.0,1365.2 534.0,1366.3 535.0,1365.2 536.0,1366.3 537.0,1365.2 538.0,1366.4 539.0,1365.3 540.0,1366.4 541.0,1365.3 542.0,1366.4 543.0,1365.3 544.0,1366.4 545.0,1365.3 546.0,1366.4 547.0,1365.3 548.0,1366.4 549.0,1365.3 550.0,1366.4 551.0,1365.3 552.0,1366.4 553.0,1365.3 554.0,1366.4 555.0,1365.3 556.0,1366.4 557.0,1365.3 558.0,1366.4 559.0,1365.3 560.0,1366.4 561.0,1365.3 562.0,1366.4 563.0,1365.3 564.0,1366.4 565.0,1365.3 566.0,1366.4 567.0,1365.3 568.0,1366.4 569.0,1365.4 570.0,1366.5 571.0,1365.4 572.0,1366.5 573.0,1365.4 574.0,1366.5 575.0,1365.4 576.0,1366.5 577.0,1365.4 578.0,1366.5 579.0,1365.4 580.0,1366.5 581.0,1365.4 582.0,1366.5 583.0,1365.4 584.0,1366.5 585.0,1365.4 586.0,1366.5 587.0,1365.4 588.0,1366.5 589.0,1365.4 590.0,1366.5 591.0,1365.4 592.0,1366.6 593.0,1365.5 594.0,1366.6 595.0,1365.5 596.0,1366.6 597.0,1365.5 598.0,1366.6 599.0,1365.5 600.0,1366.6 601.0,1365.5 602.0,1366.6 603.0,1365.5 604.0,1366.6 605.0,1365.5 606.0,1366.6 607.0,1365.5 608.0,1366.6 609.0,1365.5 610.0,1366.6 611.0,1365.5 612.0,1366.7 613.0,1365.6 614.0,1366.7 615.0,1365.6 616.0,1366.7 617.0,1365.6 618.0,1366.7 619.0,1365.6 620.0,1366.7 621.0,1365.6 622.0,1366.7 623.0,1365.6 624.0,1366.7 625.0,1365.6 626.0,1366.7 627.0,1365.6 628.0,1366.8 629.0,1365.7 630.0,1366.8 631.0,1365.7 632.0,1366.8 633.0,1365.7 634.0,1366.8 635.0,1365.7 636.0,1366.8 637.0,1365.7 638.0,1366.8 639.0,1365.7 640.0,1366.8 641.0,1365.7 642.0,1366.8 643.0,1365.8 644.0,1366.9 645.0,1365.8 646.0,1366.9 647.0,1365.8 648.0,1366.9 649.0,1365.8 650.0,1366.9 651.0,1365.8 652.0,1366.9 653.0,1365.8 654.0,1366.9 655.0,1365.8 656.0,1366.9 657.0,1365.9 658.0,1367.0 659.0,1365.9 660.0,1367.0 661.0,1365.9 662.0,1367.0 663.0,1365.9 664.0,1367.0 665.0,1365.9 666.0,1367.0 667.0,1365.9 668.0,1367.0 669.0,1365.9 670.0,1367.1 671.0,1366.0 672.0,1367.1 673.0,1366.0 674.0,1367.1 675.0,1366.0 676.0,1367.2 677.0,1366.1 678.0,1367.2 679.0,1366.1 680.0,1367.3 681.0,1366.2 682.0,1367.3 683.0,1366.3 684.0,1367.4 685.0,1366.4 686.0,1367.5 687.0,1366.4 688.0,1367.6 689.0,1366.5 690.0,1367.7 691.0,1366.6 692.0,1367.7 693.0,1366.7 694.0,1367.8 695.0,1366.8 696.0,1367.9 697.0,1366.8 698.0,1368.0 699.0,1366.9 700.0,1368.0 701.0,1367.0 702.0,1368.1 703.0,1367.0 704.0,1368.1 705.0,1367.1 706.0,1368.2 707.0,1367.1 708.0,1368.2 709.0,1367.1 710.0,1368.2 711.0,1367.1 711.5,1368.2 712.0,1367.1 713.0,1368.2 714.0,1367.1 715.0,1368.2 716.0,1367.1 717.0,1368.2 718.0,1367.1 719.0,1368.2 720.0,1367.1 721.0,1368.2 722.0,1367.1 723.0,1368.2 724.0,1367.1 725.0,1368.2 726.0,1367.1 727.0,1368.2 728.0,1367.1 729.0,1368.2 730.0,1367.1 731.0,1368.2 732.0,1367.1 733.0,1368.2 734.0,1367.1 735.0,1368.2 736.0,1367.1 737.0,1368.2 738.0,1367.1 739.0,1368.2 740.0,1367.1 741.0,1368.2 742.0,1367.1 743.0,1368.2 744.0,1367.1 745.0,1368.2 746.0,1367.1 747.0,1368.2 748.0,1367.1 749.0,1368.2 750.0,1367.1 751.0,1368.2 752.0,1367.1 753.0,1368.2 754.0,1367.1 755.0,1368.2 756.0,1367.1 757.0,1368.2 758.0,1367.1 759.0,1368.2 760.0,1367.1 761.0,1368.2 762.0,1367.1 763.0,1368.2 764.0,1367.1 765.0,1368.2 766.0,1367.1 767.0,1368.2 768.0,1367.1 769.0,1368.2 770.0,1367.1 771.0,1368.2 772.0,1367.1 773.0,1368.2 773.1,1367.1 774.0,1368.2 775.0,1367.1 776.0,1368.2 777.0,1367.1 778.0,1368.1 779.0,1367.0 780.0,1368.0 781.0,1366.8 782.0,1367.8 783.0,1366.6 784.0,1367.6 785.0,1366.4 786.0,1367.4 787.0,1366.1 788.0,1367.1 789.0,1365.9 790.0,1366.8 791.0,1365.5 792.0,1366.5 793.0,1365.2 793.6,1366.2 794.0,1365.0 795.0,1365.8 796.0,1364.4 797.0,1365.0 798.0,1363.4 799.0,1363.9 800.0,1362.2 801.0,1362.6 801.8,1361.0 802.0,1361.9 803.0,1360.1 804.0,1360.3 805.0,1358.2 806.0,1358.2 807.0,1355.9 808.0,1355.7 809.0,1353.3 809.4,1353.9 810.0,1351.9 811.0,1351.5 812.0,1348.8 813.0,1348.0 814.0,1345.0 815.0,1343.9 815.1,1342.6 816.0,1341.5 817.0,1337.7 818.0,1335.8 819.0,1331.3 819.8,1329.4 820.0,1327.5 821.0,1323.5 822.0,1316.5 823.0,1312.2 823.3,1309.8 824.0,1308.2 825.0,1303.1 826.0,1300.3 827.0,1295.7 828.0,1294.1 829.0,1291.2 829.9,1291.7 830.0,1290.6 831.0,1293.6 832.0,1296.6 833.0,1303.0 834.0,1307.3 835.0,1313.0 835.6,1313.7 836.0,1315.7 837.0,1316.9 838.0,1320.1 839.0,1320.7 840.0,1322.8 840.8,1322.0 841.0,1323.1 842.0,1320.4 843.0,1318.3 844.0,1312.9 845.0,1309.1 845.9,1303.5 846.0,1304.1 847.0,1296.9 848.0,1290.3 849.0,1281.0 850.0,1274.3 851.0,1266.8 852.0,1262.3 853.0,1255.5 854.0,1251.2 855.0,1245.5 856.0,1243.4 857.0,1240.8 857.2,1241.9 858.0,1241.8 859.0,1246.7 860.0,1251.2 861.0,1258.9 862.0,1264.7 863.0,1272.1 863.3,1272.6 864.0,1277.5 865.0,1282.1 866.0,1289.2 867.0,1294.0 868.0,1300.6 869.0,1304.3 870.0,1309.3 870.5,1309.7 871.0,1312.0 872.0,1313.2 873.0,1316.3 874.0,1317.0 875.0,1319.7 876.0,1320.1 877.0,1322.6 878.0,1323.0 878.7,1325.1 879.0,1324.5 880.0,1327.4 881.0,1328.2 882.0,1331.2 883.0,1331.8 884.0,1334.2 885.0,1334.0 885.9,1335.4 886.0,1334.3 887.0,1335.3 888.0,1333.8 889.0,1334.3 890.0,1332.5 891.0,1332.8 892.0,1330.8 893.0,1331.0 894.0,1329.1 895.0,1329.4 895.1,1328.2 896.0,1328.7 897.0,1327.0 898.0,1327.4 899.0,1325.5 900.0,1325.5 900.3,1324.0 901.0,1323.1 902.0,1316.9 903.0,1311.8 904.0,1305.1 904.4,1304.5 905.0,1301.0 906.0,1297.8 907.0,1292.8 908.0,1290.7 909.0,1287.8 909.5,1288.7 910.0,1288.0 911.0,1292.4 912.0,1296.7 913.0,1304.4 914.0,1310.1 914.6,1314.8 915.0,1316.2 916.0,1324.5 917.0,1331.3 918.0,1339.8 919.0,1344.3 919.7,1347.6 920.0,1347.1 921.0,1349.6 922.0,1349.7 923.0,1351.7 924.0,1351.4 925.0,1353.2 925.9,1352.8 926.0,1354.0 927.0,1353.6 928.0,1355.4 929.0,1355.0 930.0,1356.8 931.0,1356.3 932.0,1358.0 933.0,1357.5 934.0,1359.1 935.0,1358.5 936.0,1360.0 937.0,1359.3 937.2,1360.5 938.0,1359.6 939.0,1361.0 940.0,1360.3 941.0,1361.6 942.0,1360.8 943.0,1362.2 944.0,1361.3 945.0,1362.7 946.0,1361.8 947.0,1363.1 948.0,1362.2 949.0,1363.5 950.0,1362.6 951.0,1363.9 952.0,1363.0 953.0,1364.3 954.0,1363.4 955.0,1364.7 956.0,1363.8 957.0,1365.0 957.7,1364.1 958.0,1365.2 959.0,1364.3 960.0,1365.6 961.0,1364.7 962.0,1366.0 963.0,1365.1 964.0,1366.4 965.0,1365.5 966.0,1366.8 967.0,1365.9 968.0,1367.2 969.0,1366.3 970.0,1367.5 971.0,1366.6 972.0,1367.8 973.0,1366.8 974.0,1368.0 975.0,1367.0 976.0,1368.2 977.0,1367.1 978.0,1368.2 978.2,1367.1 979.0,1368.2 980.0,1367.1 981.0,1368.2 982.0,1367.1 983.0,1368.2 984.0,1367.1 985.0,1368.2 986.0,1367.1 987.0,1368.2 988.0,1367.1 989.0,1368.2 990.0,1367.1 991.0,1368.2 992.0,1367.1 993.0,1368.2 994.0,1367.1 995.0,1368.2 996.0,1367.1 997.0,1368.2 998.0,1367.1 999.0,1368.2 1000.0,1367.1 1001.0,1368.2 1002.0,1367.1 1003.0,1368.2 1004.0,1367.1 1005.0,1368.2 1006.0,1367.1 1007.0,1368.2 1008.0,1367.1 1009.0,1368.2 1010.0,1367.1 1011.0,1368.2 1012.0,1367.1 1013.0,1368.2 1014.0,1367.1 1015.0,1368.2 1016.0,1367.1 1017.0,1368.2 1018.0,1367.1 1019.0,1368.2 1020.0,1367.1 1021.0,1368.2 1022.0,1367.1 1023.0,1368.2 1024.0,1367.1 1025.0,1368.2 1026.0,1367.1 1027.0,1368.2 1028.0,1367.1"/>
<path stroke="#006ee1" d="M1054.0,1367.8 1055.0,1366.7 1056.0,1367.8 1057.0,1366.7 1058.0,1367.8 1059.0,1366.7 1060.0,1367.8 1061.0,1366.7 1062.0,1367.8 1063.0,1366.7 1064.0,1367.8 1065.0,1366.7 1066.0,1367.8 1067.0,1366.7 1068.0,1367.8 1069.0,1366.7 1070.0,1367.8 1071.0,1366.7 1072.0,1367.8 1073.0,1366.7 1074.0,1367.8 1075.0,1366.7 1076.0,1367.8 1077.0,1366.7 1078.0,1367.8 1079.0,1366.7 1080.0,1367.8 1081.0,1366.7 1082.0,1367.8 1083.0,1366.7 1084.0,1367.8 1085.0,1366.7 1086.0,1367.8 1087.0,1366.7 1088.0,1367.8 1089.0,1366.7 1090.0,1367.8 1091.0,1366.7 1092.0,1367.8 1093.0,1366.7 1094.0,1367.8 1095.0,1366.7 1096.0,1367.8 1097.0,1366.7 1098.0,1367.8 1099.0,1366.7 1100.0,1367.8 1101.0,1366.7 1101.5,1367.8 1102.0,1366.7 1103.0,1367.8 1104.0,1366.7 1105.0,1367.8 1106.0,1366.7 1107.0,1367.7 1108.0,1366.6 1109.0,1367.7 1110.0,1366.5 1111.0,1367.6 1112.0,1366.4 1113.0,1367.5 1114.0,1366.3 1115.0,1367.3 1116.0,1366.2 1117.0,1367.2 1118.0,1366.0 1119.0,1367.0 1120.0,1365.9 1121.0,1366.9 1122.0,1365.7 1123.0,1366.7 1124.0,1365.5 1125.0,1366.5 1126.0,1365.4 1127.0,1366.4 1128.0,1365.2 1129.0,1366.2 1130.0,1365.0 1131.0,1366.0 1132.0,1364.8 1133.0,1365.9 1134.0,1364.7 1135.0,1365.7 1136.0,1364.5 1137.0,1365.5 1138.0,1364.4 1139.0,1365.4 1140.0,1364.2 1141.0,1365.3 1142.0,1364.1 1142.6,1365.2 1143.0,1364.0 1144.0,1365.1 1145.0,1363.9 1146.0,1365.0 1147.0,1363.8 1148.0,1364.8 1149.0,1363.7 1150.0,1364.7 1151.0,1363.5 1152.0,1364.6 1153.0,1363.4 1154.0,1364.4 1155.0,1363.3 1156.0,1364.3 1157.0,1363.1 1158.0,1364.2 1159.0,1363.0 1160.0,1364.0 1161.0,1362.9 1162.0,1363.9 1163.0,1362.8 1164.0,1363.8 1165.0,1362.6 1166.0,1363.7 1167.0,1362.5 1168.0,1363.6 1169.0,1362.4 1170.0,1363.5 1171.0,1362.3 1172.0,1363.4 1173.0,1362.2 1174.0,1363.3 1175.0,1362.2 1176.0,1363.2 1177.0,1362.1 1178.0,1363.2 1179.0,1362.1 1180.0,1363.1 1181.0,1362.0 1182.0,1363.1 1183.0,1362.0 1183.6,1363.1 1184.0,1362.0 1185.0,1363.1 1186.0,1362.0 1187.0,1363.1 1188.0,1362.0 1189.0,1363.2 1190.0,1362.1 1191.0,1363.2 1192.0,1362.1 1193.0,1363.2 1194.0,1362.2 1195.0,1363.3 1196.0,1362.2 1197.0,1363.3 1198.0,1362.3 1199.0,1363.4 1200.0,1362.3 1201.0,1363.5 1202.0,1362.4 1203.0,1363.6 1204.0,1362.5 1205.0,1363.6 1206.0,1362.6 1207.0,1363.7 1208.0,1362.7 1209.0,1363.8 1210.0,1362.8 1211.0,1363.9 1212.0,1362.9 1213.0,1364.0 1214.0,1362.9 1215.0,1364.1 1216.0,1363.0 1217.0,1364.2 1218.0,1363.1 1219.0,1364.3 1220.0,1363.2 1221.0,1364.4 1222.0,1363.3 1223.0,1364.5 1224.0,1363.4 1224.6,1364.5 1225.0,1363.5 1226.0,1364.6 1227.0,1363.6 1228.0,1364.7 1229.0,1363.7 1230.0,1364.8 1231.0,1363.8 1232.0,1364.9 1233.0,1363.9 1234.0,1365.1 1235.0,1364.0 1236.0,1365.2 1237.0,1364.2 1238.0,1365.3 1239.0,1364.3 1240.0,1365.5 1241.0,1364.4 1242.0,1365.6 1243.0,1364.6 1244.0,1365.7 1245.0,1364.7 1246.0,1365.9 1247.0,1364.9 1248.0,1366.0 1249.0,1365.0 1250.0,1366.2 1251.0,1365.2 1252.0,1366.3 1253.0,1365.3 1254.0,1366.5 1255.0,1365.4 1256.0,1366.6 1257.0,1365.6 1258.0,1366.7 1259.0,1365.7 1260.0,1366.9 1261.0,1365.8 1262.0,1367.0 1263.0,1366.0 1264.0,1367.1 1265.0,1366.1 1265.6,1367.2 1266.0,1366.1 1267.0,1367.3 1268.0,1366.3 1269.0,1367.4 1270.0,1366.4 1271.0,1367.6 1272.0,1366.5 1273.0,1367.7 1274.0,1366.7 1275.0,1367.8 1276.0,1366.8 1277.0,1367.9 1278.0,1366.9 1279.0,1368.0 1280.0,1367.0 1281.0,1368.1 1282.0,1367.1 1283.0,1368.2 1284.0,1367.1 1285.0,1368.2 1286.0,1367.1 1286.2,1368.2 1287.0,1367.1 1288.0,1368.2 1289.0,1367.1 1290.0,1368.2 1291.0,1367.1 1292.0,1368.2 1293.0,1367.1 1294.0,1368.2 1295.0,1367.1 1296.0,1368.1 1297.0,1367.0 1298.0,1368.1 1299.0,1367.0 1300.0,1368.0 1301.0,1366.9 1302.0,1368.0 1303.0,1366.8 1304.0,1367.9 1304.6,1366.7 1305.0,1367.8 1306.0,1366.6 1307.0,1367.4 1308.0,1365.9 1309.0,1366.6 1309.7,1365.1 1310.0,1366.0 1311.0,1363.8 1312.0,1363.2 1313.0,1359.6 1313.2,1360.1 1314.0,1354.9 1314.9,1349.6 1315.0,1347.8 1316.0,1341.0 1316.5,1337.4 1317.0,1337.4 1318.0,1335.0 1318.2,1336.0 1319.0,1335.2 1320.0,1337.0 1321.0,1336.9 1321.4,1338.5 1322.0,1338.1 1323.0,1341.2 1324.0,1342.4 1325.0,1346.0 1326.0,1347.1 1327.0,1349.8 1327.2,1348.9 1328.0,1350.7 1329.0,1350.3 1330.0,1352.0 1331.0,1351.4 1332.0,1352.9 1333.0,1352.3 1334.0,1353.8 1335.0,1353.2 1336.0,1354.9 1337.0,1354.5 1337.4,1355.9 1338.0,1355.5 1339.0,1358.3 1340.0,1358.1 1341.0,1359.1 1342.0,1357.8 1343.0,1358.5 1344.0,1356.8 1345.0,1357.3 1346.0,1355.6 1347.0,1356.0 1348.0,1354.2 1349.0,1354.6 1350.0,1352.9 1350.3,1353.9 1351.0,1352.3 1352.0,1352.8 1353.0,1350.9 1354.0,1351.3 1355.0,1349.4 1356.0,1349.8 1357.0,1348.0 1358.0,1348.6 1359.0,1347.1 1360.0,1348.0 1360.5,1346.8 1361.0,1348.0 1362.0,1347.2 1363.0,1349.0 1364.0,1348.8 1365.0,1351.0 1366.0,1351.2 1367.0,1353.7 1368.0,1354.1 1369.0,1356.6 1370.0,1356.9 1371.0,1359.3 1372.0,1359.3 1373.0,1361.3 1374.0,1360.9 1374.9,1362.3 1375.0,1361.2 1376.0,1362.5 1377.0,1361.6 1378.0,1362.9 1379.0,1361.9 1380.0,1363.2 1381.0,1362.2 1382.0,1363.4 1383.0,1362.4 1384.0,1363.6 1385.0,1362.6 1386.0,1363.8 1387.0,1362.8 1388.0,1364.0 1389.0,1363.0 1390.0,1364.2 1391.0,1363.2 1391.3,1364.3 1392.0,1363.3 1393.0,1364.6 1394.0,1363.6 1395.0,1364.9 1396.0,1364.0 1397.0,1365.2 1398.0,1364.3 1399.0,1365.6 1400.0,1364.6 1401.0,1365.9 1402.0,1365.0 1403.0,1366.2 1404.0,1365.3 1405.0,1366.5 1406.0,1365.5 1407.0,1366.8 1408.0,1365.7 1409.0,1366.9 1410.0,1365.9 1411.0,1367.0 1411.8,1365.9 1412.0,1367.0 1413.0,1365.9 1414.0,1367.0 1415.0,1365.9 1416.0,1366.9 1417.0,1365.8 1418.0,1366.9 1419.0,1365.7 1420.0,1366.7 1421.0,1365.6 1422.0,1366.6 1423.0,1365.4 1424.0,1366.5 1425.0,1365.3 1426.0,1366.3 1427.0,1365.1 1428.0,1366.1 1429.0,1364.9 1430.0,1365.8 1431.0,1364.6 1432.0,1365.6 1432.3,1364.5 1433.0,1365.5 1434.0,1364.2 1435.0,1365.0 1436.0,1363.6 1437.0,1364.4 1438.0,1363.0 1439.0,1363.8 1439.1,1362.7 1440.0,1363.6 1441.0,1362.3 1442.0,1363.3 1443.0,1362.0 1444.0,1362.9 1444.6,1361.6 1445.0,1362.5 1446.0,1360.9 1447.0,1361.3 1448.0,1359.4 1449.0,1359.6 1449.6,1358.0 1450.0,1358.7 1451.0,1356.4 1452.0,1356.2 1453.0,1353.7 1453.2,1354.6 1454.0,1352.5 1455.0,1352.5 1456.0,1350.0 1456.6,1350.0 1457.0,1347.9 1458.0,1345.1 1459.0,1338.8 1460.0,1333.9 1460.4,1330.3 1461.0,1327.3 1462.0,1318.0 1462.2,1317.4 1463.0,1309.6 1464.0,1301.0 1464.5,1293.5 1465.0,1284.9 1465.4,1275.3 1466.0,1264.4 1466.3,1257.3 1467.0,1244.6 1467.2,1239.3 1468.0,1220.3 1469.0,1188.7 1470.0,1156.8 1471.0,1124.6 1472.0,1100.3 1473.0,1083.8 1473.6,1082.0 1474.0,1085.8 1475.0,1130.9 1476.0,1192.6 1476.9,1239.0 1477.0,1241.2 1478.0,1269.7 1478.3,1275.6 1479.0,1291.1 1479.2,1293.7 1480.0,1309.0 1480.6,1316.6 1481.0,1322.0 1482.0,1329.6 1482.1,1331.4 1483.0,1336.4 1484.0,1343.5 1485.0,1347.4 1485.6,1350.8 1486.0,1351.1 1487.0,1355.0 1488.0,1356.3 1488.3,1358.1 1489.0,1358.4 1490.0,1361.5 1491.0,1362.2 1492.0,1364.5 1493.0,1364.4 1494.0,1366.4 1495.0,1366.0 1496.0,1367.6 1496.5,1366.6 1497.0,1367.8 1498.0,1366.8 1499.0,1368.0 1500.0,1367.0 1501.0,1368.1 1502.0,1367.1 1502.9,1368.2 1503.0,1367.1 1504.0,1368.0 1505.0,1366.4 1506.0,1366.8 1507.0,1364.8 1508.0,1364.9 1509.0,1362.7 1510.0,1362.6 1511.0,1360.2 1512.0,1360.2 1513.0,1358.0 1514.0,1358.1 1514.4,1356.6 1515.0,1357.2 1516.0,1355.3 1517.0,1355.6 1518.0,1353.8 1519.0,1354.1 1520.0,1352.2 1521.0,1352.5 1522.0,1350.7 1523.0,1351.0 1524.0,1349.2 1524.6,1349.8 1525.0,1348.4 1526.0,1348.6 1527.0,1346.5 1528.0,1346.7 1529.0,1344.6 1530.0,1344.9 1531.0,1343.1 1532.0,1343.7 1532.8,1342.3 1533.0,1343.4 1534.0,1342.1 1535.0,1343.1 1536.0,1342.0 1537.0,1343.0 1538.0,1341.8 1539.0,1342.9 1540.0,1341.7 1541.0,1342.6 1542.0,1341.2 1543.0,1341.8 1544.0,1339.9 1545.0,1340.1 1546.0,1338.0 1547.0,1338.0 1548.0,1335.8 1549.0,1335.7 1549.2,1334.4 1550.0,1334.5 1551.0,1332.0 1552.0,1331.5 1553.0,1328.7 1554.0,1327.9 1555.0,1324.9 1555.4,1325.1 1556.0,1322.7 1557.0,1321.4 1558.0,1317.5 1559.0,1315.7 1560.0,1311.6 1561.0,1309.5 1562.0,1305.3 1562.6,1304.5 1563.0,1302.2 1564.0,1300.3 1565.0,1296.1 1566.0,1294.0 1567.0,1289.5 1568.0,1287.0 1568.7,1283.1 1569.0,1283.0 1570.0,1277.5 1571.0,1273.7 1572.0,1267.3 1572.8,1263.7 1573.0,1261.4 1574.0,1255.7 1575.0,1246.9 1576.0,1240.0 1576.9,1231.9 1577.0,1232.3 1578.0,1223.7 1579.0,1217.3 1580.0,1208.7 1581.0,1202.3 1582.0,1195.3 1583.0,1191.8 1584.0,1184.1 1585.0,1173.4 1585.1,1170.7 1585.6,1141.7 1586.0,1133.8 1587.0,1124.0 1588.0,1116.6 1589.0,1113.0 1589.7,1107.9 1590.0,1107.0 1591.0,1099.7 1592.0,1094.9 1593.0,1088.0 1593.8,1084.4 1594.0,1082.1 1595.0,1077.2 1596.0,1070.0 1597.0,1065.1 1597.9,1058.7 1598.0,1059.2 1599.0,1051.4 1600.0,1045.3 1601.0,1038.4 1602.0,1037.0 1602.1,1035.9 1603.0,1037.0 1604.0,1036.0 1605.0,1037.3 1606.0,1036.5 1607.0,1037.9 1607.2,1036.9 1608.0,1038.5 1609.0,1038.4 1610.0,1040.9 1611.0,1041.4 1612.0,1044.2 1613.0,1044.6 1613.3,1046.1 1614.0,1046.1 1615.0,1048.9 1616.0,1049.5 1617.0,1052.3 1618.0,1052.5 1619.0,1054.3 1619.5,1053.3 1620.0,1054.3 1621.0,1052.2 1622.0,1051.6 1623.0,1048.2 1624.0,1046.8 1624.6,1044.1 1625.0,1044.0 1626.0,1038.9 1627.0,1035.1 1628.0,1028.9 1628.7,1026.8 1629.0,1024.4 1630.0,1021.7 1631.0,1017.1 1632.0,1014.5 1633.0,1009.3 1633.8,1006.4 1634.0,1004.2 1635.0,998.6 1636.0,989.2 1637.0,981.2 1638.0,970.9 1638.8,964.9 1639.0,962.1 1640.0,955.1 1641.0,945.9 1642.0,938.5 1643.0,928.1 1643.5,924.0 1644.0,917.4 1645.0,906.1 1646.0,890.8 1646.6,882.5 1647.0,874.1 1648.0,854.0 1648.6,841.3 1649.0,835.8 1650.0,819.9 1650.7,810.8 1651.0,805.1 1652.0,790.6 1652.7,779.7 1653.0,777.1 1654.0,765.3 1655.0,756.2 1655.5,749.5 1656.0,743.2 1657.0,726.4 1657.5,724.5 1658.0,726.0 1659.0,742.0 1659.5,749.5 1660.0,759.1 1661.0,779.5 1662.0,812.5 1663.0,849.5 1664.0,890.4 1665.0,930.4 1665.5,950.5 1666.0,967.5 1667.0,1003.3 1668.0,1034.5 1668.5,1050.5 1669.0,1064.4 1670.0,1095.8 1671.0,1121.4 1672.0,1140.5 1673.0,1149.7 1674.0,1158.2 1675.0,1163.1 1676.0,1170.2 1677.0,1176.5 1677.4,1181.2 1678.0,1186.7 1679.0,1201.1 1680.0,1214.4 1680.5,1222.4 1681.0,1228.2 1682.0,1243.8 1683.0,1256.1 1683.6,1263.7 1684.0,1266.4 1685.0,1275.7 1686.0,1281.8 1687.0,1289.7 1687.7,1293.3 1688.0,1296.6 1689.0,1302.5 1690.0,1310.5 1691.0,1315.6 1691.8,1321.1 1692.0,1321.0 1693.0,1326.8 1694.0,1330.1 1695.0,1335.1 1696.0,1337.6 1696.9,1341.5 1697.0,1340.7 1698.0,1344.7 1699.0,1346.2 1700.0,1349.9 1701.0,1351.1 1702.0,1354.3 1703.0,1355.1 1704.0,1357.8 1704.1,1356.9 1705.0,1359.4 1706.0,1359.7 1707.0,1362.3 1708.0,1362.4 1709.0,1364.6 1710.0,1364.4 1711.0,1366.1 1711.3,1365.1 1712.0,1366.4 1713.0,1365.6 1714.0,1366.9 1715.0,1366.0 1716.0,1367.2 1716.4,1366.1 1717.0,1367.1 1718.0,1365.6 1719.0,1366.0 1720.0,1363.9 1721.0,1363.8 1722.0,1361.3 1723.0,1360.9 1724.0,1358.2 1725.0,1357.7 1726.0,1355.1 1727.0,1354.8 1727.7,1352.8 1728.0,1353.5 1729.0,1350.9 1730.0,1350.4 1731.0,1347.6 1732.0,1347.1 1733.0,1344.5 1734.0,1344.4 1735.0,1342.6 1735.9,1343.4 1736.0,1342.3 1737.0,1343.6 1738.0,1342.9 1739.0,1344.6 1740.0,1344.0 1741.0,1345.5 1742.0,1344.6 1742.1,1345.7 1743.0,1344.2 1744.0,1344.1 1745.0,1341.3 1746.0,1340.3 1747.0,1336.9 1748.0,1335.8 1748.2,1334.3 1749.0,1333.7 1750.0,1330.1 1751.0,1328.5 1752.0,1324.5 1753.0,1322.8 1754.0,1318.9 1754.4,1318.9 1755.0,1316.2 1756.0,1314.4 1757.0,1310.3 1758.0,1308.6 1759.0,1304.8 1760.0,1303.6 1760.5,1301.5 1761.0,1301.7 1762.0,1298.6 1763.0,1297.9 1764.0,1295.2 1765.0,1295.4 1765.6,1294.1 1766.0,1295.2 1767.0,1294.5 1768.0,1296.4 1769.0,1296.3 1770.0,1298.5 1771.0,1298.6 1771.8,1300.6 1772.0,1299.7 1773.0,1302.1 1774.0,1302.6 1775.0,1305.2 1776.0,1305.2 1776.9,1306.7 1777.0,1305.6 1778.0,1304.8 1779.0,1299.2 1780.0,1294.0 1781.0,1285.9 1782.0,1280.1 1783.0,1273.2 1783.1,1273.8 1784.0,1268.6 1785.0,1265.6 1786.0,1260.3 1787.0,1256.4 1787.2,1254.2 1788.0,1250.2 1789.0,1241.4 1790.0,1234.0 1791.0,1224.0 1791.3,1222.4 1792.0,1214.8 1793.0,1205.8 1794.0,1194.4 1794.4,1191.4 1795.0,1184.5 1796.0,1176.2 1797.0,1164.9 1797.4,1161.5 1798.0,1153.0 1799.0,1140.5 1800.0,1124.5 1801.0,1109.7 1802.0,1092.0 1803.0,1076.1 1803.5,1066.4 1804.0,1058.5 1805.0,1038.0 1806.0,1019.7 1806.8,1004.6 1807.0,1002.6 1808.0,987.2 1809.0,974.7 1809.6,964.7 1810.0,959.4 1811.0,941.2 1812.0,924.3 1813.0,904.9 1813.1,904.1 1814.0,886.9 1815.0,870.1 1816.0,849.6 1816.4,842.3 1817.0,827.3 1818.0,802.8 1818.5,788.7 1819.0,774.0 1820.0,741.5 1820.5,736.7 1821.0,742.3 1822.0,777.6 1822.6,790.1 1823.0,795.0 1824.0,800.6 1825.0,806.0 1826.0,808.8 1827.0,815.6 1827.7,820.6 1828.0,825.7 1829.0,848.0 1830.0,880.3 1830.8,903.4 1831.0,910.2 1832.0,938.2 1832.2,944.5 1833.0,963.6 1834.0,984.9 1834.1,985.3 1835.0,997.3 1836.0,1005.8 1837.0,1015.1 1838.0,1022.3 1838.4,1027.1 1839.0,1031.7 1840.0,1042.4 1841.0,1050.8 1842.0,1061.4 1842.7,1066.9 1843.0,1070.8 1844.0,1078.7 1845.0,1088.7 1846.0,1097.1 1846.3,1101.3 1847.0,1107.9 1848.0,1121.0 1849.0,1132.4 1849.7,1142.1 1850.0,1144.6 1851.0,1158.8 1852.0,1170.4 1853.0,1182.2 1853.2,1182.8 1854.0,1190.2 1855.0,1195.9 1856.0,1203.0 1857.0,1207.4 1858.0,1213.8 1859.0,1218.0 1860.0,1224.7 1861.0,1229.6 1862.0,1237.0 1863.0,1241.9 1864.0,1248.4 1864.8,1251.0 1865.0,1252.8 1866.0,1255.3 1867.0,1259.5 1868.0,1261.2 1869.0,1265.0 1870.0,1266.7 1871.0,1270.9 1871.3,1270.8 1872.0,1274.5 1873.0,1277.6 1874.0,1283.0 1875.0,1285.8 1875.4,1288.3 1876.0,1289.3 1877.0,1294.0 1878.0,1296.3 1879.0,1299.7 1879.9,1299.4 1880.0,1300.5 1881.0,1298.7 1882.0,1298.2 1883.0,1294.9 1884.0,1293.7 1884.6,1291.3 1885.0,1291.5 1886.0,1287.4 1887.0,1285.5 1888.0,1282.6 1888.3,1283.5 1889.0,1282.6 1890.0,1284.2 1891.0,1283.9 1892.0,1285.9 1893.0,1285.7 1893.8,1287.2 1894.0,1286.2 1895.0,1287.6 1896.0,1286.7 1897.0,1288.0 1898.0,1287.1 1899.0,1288.4 1900.0,1287.6 1901.0,1289.1 1902.0,1288.8 1903.0,1291.3 1904.0,1291.9 1905.0,1294.8 1906.0,1295.2 1906.2,1296.5 1907.0,1296.4 1908.0,1298.9 1909.0,1299.1 1910.0,1301.3 1911.0,1301.0 1912.0,1302.6 1912.3,1301.5 1913.0,1302.5 1914.0,1300.8 1915.0,1300.9 1916.0,1298.7 1917.0,1298.7 1918.0,1296.8 1919.0,1297.3 1919.5,1296.2 1920.0,1297.5 1921.0,1298.2 1922.0,1302.7 1923.0,1306.4 1923.6,1310.9 1924.0,1314.5 1925.0,1336.4 1925.6,1344.3 1926.0,1347.9 1927.0,1351.7 1928.0,1356.1 1928.7,1356.8 1929.0,1358.6 1930.0,1359.6 1931.0,1362.3 1931.6,1361.9 1932.0,1366.5 1933.0,1359.5 1934.0,1368.8 1935.0,1361.2 1936.0,1370.6 1936.9,1362.0 1937.0,1370.2 1938.0,1362.4 1939.0,1369.9 1940.0,1361.8 1941.0,1370.1 1942.0,1361.1 1943.0,1369.6 1943.9,1361.7 1944.0,1369.4 1945.0,1360.6 1946.0,1369.1 1947.0,1360.8 1948.0,1369.6 1949.0,1361.0 1950.0,1369.0 1951.0,1359.8 1952.0,1368.5 1953.0,1360.1 1954.0,1369.2 1955.0,1360.6 1956.0,1368.9 1957.0,1359.9 1958.0,1369.1 1959.0,1360.2 1960.0,1368.7 1961.0,1360.3 1962.0,1369.0 1963.0,1360.4 1964.0,1369.2 1965.0,1360.2 1966.0,1369.9 1967.0,1361.0 1967.6,1370.0 1968.0,1364.9 1969.0,1366.0 1970.0,1364.9"/>
<path stroke="#00b067" d="M277.0,1367.1 278.0,1366.0 279.0,1367.1 280.0,1366.0 281.0,1367.1 282.0,1366.0 283.0,1367.1 284.0,1366.0 285.0,1367.1 286.0,1366.0 287.0,1367.1 288.0,1365.9 289.0,1367.0 290.0,1365.9 291.0,1367.0 292.0,1365.9 293.0,1367.0 294.0,1365.9 295.0,1367.0 296.0,1365.9 297.0,1367.0 298.0,1365.9 299.0,1367.0 300.0,1365.9 301.0,1367.0 302.0,1365.9 303.0,1367.0 304.0,1365.9 305.0,1367.0 306.0,1365.9 307.0,1367.0 308.0,1365.9 309.0,1367.0 310.0,1365.9 311.0,1367.0 312.0,1365.9 313.0,1367.0 314.0,1365.9 315.0,1367.0 316.0,1365.8 317.0,1366.9 318.0,1365.8 319.0,1366.9 320.0,1365.8 321.0,1366.9 322.0,1365.8 323.0,1366.9 324.0,1365.8 325.0,1366.9 326.0,1365.8 327.0,1366.9 328.0,1365.8 329.0,1366.9 330.0,1365.8 331.0,1366.8 332.0,1365.7 333.0,1366.8 334.0,1365.7 335.0,1366.8 336.0,1365.7 337.0,1366.8 338.0,1365.7 339.0,1366.8 340.0,1365.7 341.0,1366.8 342.0,1365.6 343.0,1366.7 344.0,1365.6 345.0,1366.7 346.0,1365.6 347.0,1366.7 348.0,1365.6 349.0,1366.7 349.4,1365.6 350.0,1366.7 351.0,1365.5 352.0,1366.6 353.0,1365.5 354.0,1366.5 355.0,1365.3 356.0,1366.4 357.0,1365.2 358.0,1366.2 359.0,1365.0 360.0,1366.0 361.0,1364.8 362.0,1365.8 363.0,1364.6 364.0,1365.6 365.0,1364.4 366.0,1365.3 367.0,1364.1 368.0,1365.1 369.0,1363.8 370.0,1364.8 371.0,1363.6 372.0,1364.5 373.0,1363.3 374.0,1364.2 375.0,1363.0 376.0,1363.9 377.0,1362.7 378.0,1363.6 379.0,1362.4 380.0,1363.3 381.0,1362.1 382.0,1363.0 383.0,1361.8 384.0,1362.8 385.0,1361.5 386.0,1362.5 387.0,1361.3 388.0,1362.2 389.0,1361.0 390.0,1362.0 391.0,1360.8 392.0,1361.7 393.0,1360.5 394.0,1361.5 395.0,1360.3 396.0,1361.3 397.0,1360.0 398.0,1361.0 399.0,1359.8 400.0,1360.8 401.0,1359.6 402.0,1360.5 403.0,1359.3 404.0,1360.3 405.0,1359.1 406.0,1360.1 407.0,1358.8 408.0,1359.8 409.0,1358.6 410.0,1359.6 411.0,1358.3 412.0,1359.3 413.0,1358.1 414.0,1359.1 415.0,1357.8 416.0,1358.8 417.0,1357.6 418.0,1358.6 419.0,1357.3 420.0,1358.3 421.0,1357.1 422.0,1358.0 423.0,1356.8 424.0,1357.8 425.0,1356.5 426.0,1357.5 427.0,1356.3 428.0,1357.2 428.7,1356.0 429.0,1357.1 430.0,1355.9 431.0,1356.8 432.0,1355.6 433.0,1356.5 434.0,1355.3 435.0,1356.2 436.0,1355.0 437.0,1355.9 438.0,1354.7 439.0,1355.6 440.0,1354.3 441.0,1355.3 442.0,1354.0 443.0,1355.0 444.0,1353.7 445.0,1354.6 446.0,1353.4 447.0,1354.3 448.0,1353.0 449.0,1354.0 450.0,1352.7 451.0,1353.6 452.0,1352.4 453.0,1353.3 454.0,1352.1 455.0,1353.0 456.0,1351.8 457.0,1352.7 458.0,1351.5 459.0,1352.4 460.0,1351.2 461.0,1352.1 462.0,1350.9 463.0,1351.9 464.0,1350.6 465.0,1351.6 466.0,1350.4 467.0,1351.3 468.0,1350.1 468.4,1351.2 469.0,1350.0 470.0,1351.0 471.0,1349.8 472.0,1350.8 473.0,1349.6 474.0,1350.6 475.0,1349.4 476.0,1350.3 477.0,1349.1 478.0,1350.1 479.0,1348.9 480.0,1349.9 481.0,1348.7 482.0,1349.7 483.0,1348.5 484.0,1349.5 485.0,1348.3 486.0,1349.3 487.0,1348.1 488.0,1349.1 489.0,1347.9 490.0,1348.9 491.0,1347.7 492.0,1348.7 493.0,1347.6 494.0,1348.6 495.0,1347.4 496.0,1348.4 497.0,1347.2 498.0,1348.3 499.0,1347.1 500.0,1348.1 501.0,1346.9 502.0,1348.0 503.0,1346.8 504.0,1347.8 505.0,1346.7 506.0,1347.7 507.0,1346.6 508.0,1347.6 508.1,1346.5 509.0,1347.6 510.0,1346.4 511.0,1347.5 512.0,1346.3 513.0,1347.4 514.0,1346.2 515.0,1347.3 516.0,1346.1 517.0,1347.2 518.0,1346.0 519.0,1347.1 520.0,1345.9 521.0,1347.0 522.0,1345.8 523.0,1346.9 524.0,1345.7 525.0,1346.8 526.0,1345.6 527.0,1346.7 528.0,1345.6 529.0,1346.6 530.0,1345.5 531.0,1346.6 532.0,1345.4 533.0,1346.5 534.0,1345.4 535.0,1346.4 536.0,1345.3 537.0,1346.4 538.0,1345.2 539.0,1346.3 540.0,1345.2 541.0,1346.3 542.0,1345.2 543.0,1346.3 544.0,1345.1 545.0,1346.2 546.0,1345.1 547.0,1346.2 547.8,1345.1 548.0,1346.2 549.0,1345.1 550.0,1346.2 551.0,1345.1 552.0,1346.2 553.0,1345.1 554.0,1346.2 555.0,1345.1 556.0,1346.2 557.0,1345.1 558.0,1346.2 559.0,1345.1 560.0,1346.2 561.0,1345.1 562.0,1346.2 563.0,1345.1 564.0,1346.2 565.0,1345.1 566.0,1346.2 567.0,1345.1 568.0,1346.2 569.0,1345.1 570.0,1346.2 571.0,1345.1 572.0,1346.2 573.0,1345.1 574.0,1346.2 575.0,1345.1 576.0,1346.2 577.0,1345.1 578.0,1346.2 579.0,1345.1 580.0,1346.2 581.0,1345.1 582.0,1346.2 583.0,1345.1 584.0,1346.2 585.0,1345.1 586.0,1346.2 587.0,1345.1 587.5,1346.2 588.0,1345.1 589.0,1346.2 590.0,1345.2 591.0,1346.3 592.0,1345.2 593.0,1346.4 594.0,1345.4 595.0,1346.5 596.0,1345.5 597.0,1346.7 598.0,1345.7 599.0,1346.9 600.0,1345.9 601.0,1347.2 602.0,1346.2 603.0,1347.4 604.0,1346.5 605.0,1347.7 606.0,1346.8 607.0,1348.0 608.0,1347.1 609.0,1348.3 610.0,1347.4 611.0,1348.6 612.0,1347.7 613.0,1349.0 614.0,1348.0 615.0,1349.3 616.0,1348.4 617.0,1349.6 618.0,1348.7 619.0,1350.0 620.0,1349.0 621.0,1350.3 622.0,1349.3 623.0,1350.6 624.0,1349.6 625.0,1350.9 626.0,1349.9 627.0,1351.2 627.1,1350.1 628.0,1351.3 629.0,1350.3 630.0,1351.6 631.0,1350.6 632.0,1351.8 633.0,1350.9 634.0,1352.1 635.0,1351.2 636.0,1352.4 637.0,1351.5 638.0,1352.7 639.0,1351.8 640.0,1353.0 641.0,1352.1 642.0,1353.3 643.0,1352.4 644.0,1353.6 645.0,1352.7 646.0,1353.9 647.0,1353.0 648.0,1354.2 649.0,1353.3 650.0,1354.5 651.0,1353.6 652.0,1354.8 653.0,1353.8 654.0,1355.1 655.0,1354.1 656.0,1355.4 657.0,1354.4 658.0,1355.7 659.0,1354.7 660.0,1355.9 661.0,1355.0 662.0,1356.2 663.0,1355.2 664.0,1356.4 665.0,1355.5 666.0,1356.7 667.0,1355.7 668.0,1356.9 669.0,1355.9 670.0,1357.1 671.0,1356.1 672.0,1357.3 673.0,1356.3 674.0,1357.5 675.0,1356.5 676.0,1357.7 677.0,1356.7 678.0,1357.9 679.0,1356.9 680.0,1358.1 681.0,1357.0 682.0,1358.2 683.0,1357.2 684.0,1358.4 685.0,1357.4 686.0,1358.6 687.0,1357.6 688.0,1358.7 689.0,1357.7 690.0,1358.9 691.0,1357.9 692.0,1359.1 693.0,1358.1 694.0,1359.3 695.0,1358.3 696.0,1359.5 697.0,1358.5 698.0,1359.7 699.0,1358.7 700.0,1359.9 701.0,1358.9 702.0,1360.1 703.0,1359.1 704.0,1360.3 705.0,1359.3 706.0,1360.5 707.0,1359.5 708.0,1360.7 709.0,1359.7 710.0,1360.9 711.0,1359.9 712.0,1361.1 713.0,1360.1 714.0,1361.3 715.0,1360.3 716.0,1361.5 717.0,1360.5 718.0,1361.7 719.0,1360.7 720.0,1361.9 721.0,1360.9 722.0,1362.1 723.0,1361.1 724.0,1362.3 725.0,1361.3 726.0,1362.5 727.0,1361.5 728.0,1362.7 729.0,1361.7 730.0,1362.9 731.0,1361.9 732.0,1363.1 732.1,1362.0 733.0,1363.2 734.0,1362.2 735.0,1363.4 736.0,1362.4 737.0,1363.7 738.0,1362.7 739.0,1363.9 740.0,1362.9 741.0,1364.2 742.0,1363.2 743.0,1364.4 744.0,1363.5 745.0,1364.7 746.0,1363.7 747.0,1365.0 748.0,1364.0 749.0,1365.2 750.0,1364.3 751.0,1365.5 752.0,1364.5 753.0,1365.7 754.0,1364.8 755.0,1366.0 756.0,1365.0 757.0,1366.2 758.0,1365.2 759.0,1366.4 760.0,1365.4 761.0,1366.6 762.0,1365.6 763.0,1366.8 764.0,1365.8 765.0,1366.9 766.0,1365.9 767.0,1367.0 768.0,1366.0 769.0,1367.1 770.0,1366.1 771.0,1367.2 772.0,1366.1 773.0,1367.2 773.1,1366.1 774.0,1367.2 775.0,1366.1 776.0,1367.2 777.0,1366.1 778.0,1367.2 779.0,1366.0 780.0,1367.1 781.0,1366.0 782.0,1367.0 783.0,1365.9 784.0,1366.9 785.0,1365.8 786.0,1366.8 787.0,1365.6 788.0,1366.7 789.0,1365.5 790.0,1366.5 791.0,1365.3 792.0,1366.3 793.0,1365.2 793.6,1366.2 794.0,1365.0 795.0,1365.9 796.0,1364.5 797.0,1365.2 798.0,1363.6 799.0,1364.2 800.0,1362.5 801.0,1363.0 801.8,1361.4 802.0,1362.4 803.0,1360.6 804.0,1360.8 805.0,1358.8 806.0,1358.9 807.0,1356.7 808.0,1356.6 809.0,1354.3 809.4,1354.9 810.0,1353.0 811.0,1352.8 812.0,1350.2 813.0,1349.7 814.0,1346.8 815.0,1345.9 815.1,1344.6 816.0,1343.8 817.0,1340.3 818.0,1338.6 819.0,1334.5 820.0,1332.2 820.3,1330.1 821.0,1328.1 822.0,1321.6 823.0,1317.0 824.0,1311.1 824.4,1310.7 825.0,1307.5 826.0,1305.1 827.0,1300.8 828.0,1299.2 829.0,1296.3 829.9,1296.9 830.0,1295.8 831.0,1298.4 832.0,1300.9 833.0,1306.6 834.0,1310.2 835.0,1315.2 835.6,1315.8 836.0,1317.7 837.0,1318.6 838.0,1321.6 839.0,1322.0 840.0,1324.1 840.8,1323.2 841.0,1324.3 842.0,1322.8 843.0,1322.8 844.0,1320.2 845.0,1319.4 846.0,1316.0 846.9,1315.0 847.0,1313.6 848.0,1310.5 849.0,1303.1 850.0,1297.0 851.0,1288.9 852.0,1284.4 852.1,1282.8 853.0,1279.7 854.0,1273.9 855.0,1270.7 856.0,1266.5 857.0,1266.1 857.2,1265.0 858.0,1267.1 859.0,1269.4 860.0,1275.6 861.0,1280.5 862.0,1287.6 863.0,1291.8 863.3,1294.3 864.0,1296.1 865.0,1301.4 866.0,1304.4 867.0,1309.4 868.0,1311.8 869.0,1315.8 869.5,1315.9 870.0,1318.0 871.0,1318.9 872.0,1321.7 873.0,1322.2 874.0,1324.8 875.0,1325.0 876.0,1327.3 877.0,1327.4 877.7,1329.3 878.0,1328.5 879.0,1330.8 880.0,1330.9 881.0,1333.2 882.0,1333.2 883.0,1335.3 884.0,1334.9 885.0,1336.5 885.9,1335.6 886.0,1336.7 887.0,1335.3 888.0,1335.9 889.0,1334.1 890.0,1334.3 891.0,1332.2 892.0,1332.3 893.0,1330.4 894.0,1330.8 895.0,1329.2 895.1,1330.3 896.0,1329.0 897.0,1330.0 898.0,1328.8 899.0,1329.8 900.0,1328.5 901.0,1329.4 901.3,1328.2 902.0,1328.3 903.0,1324.0 904.0,1321.2 905.0,1316.7 905.4,1316.9 906.0,1314.8 907.0,1314.2 908.0,1311.7 909.0,1311.9 909.5,1310.7 910.0,1312.1 911.0,1313.1 912.0,1317.7 913.0,1321.0 914.0,1326.6 914.6,1328.1 915.0,1331.0 916.0,1335.6 917.0,1342.8 918.0,1346.7 918.7,1349.8 919.0,1349.1 920.0,1351.4 921.0,1351.3 922.0,1353.1 923.0,1352.6 924.0,1354.3 924.9,1353.8 925.0,1355.0 926.0,1354.6 927.0,1356.4 928.0,1356.0 929.0,1357.8 930.0,1357.3 931.0,1359.1 932.0,1358.6 933.0,1360.3 934.0,1359.7 935.0,1361.3 936.0,1360.6 937.0,1362.0 937.2,1361.0 938.0,1362.3 939.0,1361.5 940.0,1362.9 941.0,1362.1 942.0,1363.4 943.0,1362.6 944.0,1363.9 945.0,1363.0 946.0,1364.3 947.0,1363.4 948.0,1364.7 949.0,1363.8 950.0,1365.1 951.0,1364.1 952.0,1365.4 953.0,1364.4 954.0,1365.7 955.0,1364.7 956.0,1366.0 957.0,1365.0 957.7,1366.2 958.0,1365.1 959.0,1366.4 960.0,1365.4 961.0,1366.6 962.0,1365.7 963.0,1366.9 964.0,1366.0 965.0,1367.2 966.0,1366.2 967.0,1367.4 968.0,1366.5 969.0,1367.7 970.0,1366.7 971.0,1367.9 972.0,1366.9 973.0,1368.0 974.0,1367.0 975.0,1368.2 976.0,1367.1 977.0,1368.2 978.0,1367.1 978.2,1368.2 979.0,1367.1 980.0,1368.2 981.0,1367.1 982.0,1368.2 983.0,1367.1 984.0,1368.2 985.0,1367.1 986.0,1368.2 987.0,1367.1 988.0,1368.2 989.0,1367.1 990.0,1368.2 991.0,1367.1 992.0,1368.2 993.0,1367.1 994.0,1368.2 995.0,1367.1 996.0,1368.2 997.0,1367.1 998.0,1368.2 999.0,1367.1 1000.0,1368.2 1001.0,1367.1 1002.0,1368.2 1003.0,1367.1 1004.0,1368.2 1005.0,1367.1 1006.0,1368.2 1007.0,1367.1 1008.0,1368.2 1009.0,1367.1 1010.0,1368.2 1011.0,1367.1 1012.0,1368.2 1013.0,1367.1 1014.0,1368.2 1015.0,1367.1 1016.0,1368.2 1017.0,1367.1 1018.0,1368.2 1019.0,1367.1 1020.0,1368.2 1021.0,1367.1 1022.0,1368.2 1023.0,1367.1 1024.0,1368.2 1025.0,1367.1 1026.0,1368.2 1027.0,1367.1 1028.0,1368.2"/>
<path stroke="#00b067" d="M1054.0,1367.8 1055.0,1366.7 1056.0,1367.8 1057.0,1366.7 1058.0,1367.8 1059.0,1366.7 1060.0,1367.8 1061.0,1366.7 1062.0,1367.8 1063.0,1366.7 1064.0,1367.8 1065.0,1366.7 1066.0,1367.8 1067.0,1366.7 1068.0,1367.8 1069.0,1366.7 1070.0,1367.8 1071.0,1366.7 1072.0,1367.8 1073.0,1366.7 1074.0,1367.8 1075.0,1366.7 1076.0,1367.8 1077.0,1366.7 1078.0,1367.8 1079.0,1366.7 1080.0,1367.8 1081.0,1366.7 1082.0,1367.8 1083.0,1366.7 1084.0,1367.8 1085.0,1366.7 1086.0,1367.8 1087.0,1366.7 1088.0,1367.8 1089.0,1366.7 1090.0,1367.8 1091.0,1366.7 1092.0,1367.8 1093.0,1366.7 1094.0,1367.8 1095.0,1366.7 1096.0,1367.8 1097.0,1366.7 1098.0,1367.8 1099.0,1366.7 1100.0,1367.8 1101.0,1366.7 1101.5,1367.8 1102.0,1366.7 1103.0,1367.8 1104.0,1366.6 1105.0,1367.7 1106.0,1366.4 1107.0,1367.4 1108.0,1366.2 1109.0,1367.1 1110.0,1365.8 1111.0,1366.7 1112.0,1365.4 1113.0,1366.3 1114.0,1364.9 1115.0,1365.8 1116.0,1364.4 1117.0,1365.3 1118.0,1364.0 1119.0,1364.8 1120.0,1363.5 1121.0,1364.4 1122.0,1363.1 1122.1,1364.1 1123.0,1362.8 1124.0,1363.7 1125.0,1362.5 1126.0,1363.4 1127.0,1362.1 1128.0,1363.0 1129.0,1361.7 1130.0,1362.6 1131.0,1361.3 1132.0,1362.1 1133.0,1360.8 1134.0,1361.6 1135.0,1360.2 1136.0,1361.0 1137.0,1359.5 1138.0,1360.2 1138.5,1358.9 1139.0,1359.8 1140.0,1358.0 1141.0,1358.2 1142.0,1356.1 1143.0,1356.0 1144.0,1353.7 1145.0,1353.7 1146.0,1351.4 1146.7,1351.8 1147.0,1350.4 1148.0,1350.5 1149.0,1348.4 1150.0,1348.5 1151.0,1346.4 1152.0,1346.5 1153.0,1344.4 1154.0,1344.5 1154.9,1342.5 1155.0,1343.5 1156.0,1341.4 1157.0,1341.4 1158.0,1339.2 1159.0,1339.2 1160.0,1337.0 1161.0,1337.1 1162.0,1335.1 1163.0,1335.5 1163.1,1334.3 1164.0,1334.8 1165.0,1333.1 1166.0,1333.5 1167.0,1331.8 1168.0,1332.4 1169.0,1330.8 1170.0,1331.4 1171.0,1329.9 1172.0,1330.7 1173.0,1329.3 1173.3,1330.3 1174.0,1329.1 1175.0,1330.0 1176.0,1328.7 1177.0,1329.6 1178.0,1328.4 1179.0,1329.3 1180.0,1328.1 1181.0,1329.1 1182.0,1327.9 1183.0,1328.9 1183.6,1327.8 1184.0,1328.8 1185.0,1327.6 1186.0,1328.6 1187.0,1327.4 1188.0,1328.4 1189.0,1327.2 1190.0,1328.2 1191.0,1327.1 1192.0,1328.1 1193.0,1326.9 1194.0,1327.9 1195.0,1326.8 1196.0,1327.9 1197.0,1326.7 1197.9,1327.8 1198.0,1326.7 1199.0,1328.0 1200.0,1327.3 1201.0,1328.9 1202.0,1328.6 1203.0,1330.5 1204.0,1330.2 1205.0,1332.2 1206.0,1331.9 1207.0,1333.7 1208.0,1333.2 1208.2,1334.4 1209.0,1333.6 1210.0,1335.1 1211.0,1334.4 1212.0,1335.8 1213.0,1335.0 1214.0,1336.4 1215.0,1335.6 1216.0,1337.0 1217.0,1336.2 1218.0,1337.6 1219.0,1336.8 1220.0,1338.3 1220.5,1337.4 1221.0,1338.7 1222.0,1338.0 1223.0,1339.6 1224.0,1339.0 1225.0,1340.7 1226.0,1340.1 1227.0,1341.8 1228.0,1341.3 1229.0,1342.9 1230.0,1342.4 1231.0,1344.1 1232.0,1343.5 1233.0,1345.1 1234.0,1344.5 1235.0,1346.0 1236.0,1345.3 1236.9,1346.7 1237.0,1345.6 1238.0,1347.0 1239.0,1346.2 1240.0,1347.6 1241.0,1346.7 1242.0,1348.1 1243.0,1347.2 1244.0,1348.5 1245.0,1347.6 1246.0,1348.9 1247.0,1348.0 1248.0,1349.3 1249.0,1348.4 1250.0,1349.7 1251.0,1348.8 1252.0,1350.1 1253.0,1349.2 1254.0,1350.5 1255.0,1349.6 1255.4,1350.8 1256.0,1349.8 1257.0,1351.1 1258.0,1350.2 1259.0,1351.5 1260.0,1350.6 1261.0,1351.9 1262.0,1351.0 1263.0,1352.3 1264.0,1351.4 1265.0,1352.7 1266.0,1351.8 1267.0,1353.2 1268.0,1352.3 1269.0,1353.7 1269.7,1352.8 1270.0,1354.0 1271.0,1353.2 1272.0,1354.6 1273.0,1353.8 1274.0,1355.3 1275.0,1354.6 1276.0,1356.1 1277.0,1355.5 1278.0,1357.0 1279.0,1356.4 1280.0,1358.0 1281.0,1357.4 1282.0,1359.0 1282.1,1357.9 1283.0,1359.6 1284.0,1359.2 1285.0,1361.1 1286.0,1360.8 1287.0,1362.7 1288.0,1362.5 1289.0,1364.4 1290.0,1364.0 1291.0,1365.6 1292.0,1365.0 1292.3,1366.2 1293.0,1365.3 1294.0,1366.7 1295.0,1365.9 1296.0,1367.2 1297.0,1366.3 1298.0,1367.6 1299.0,1366.7 1300.0,1367.8 1300.5,1366.7 1301.0,1367.8 1302.0,1366.7 1303.0,1367.8 1304.0,1366.7 1305.0,1367.7 1306.0,1366.6 1307.0,1367.6 1308.0,1366.4 1308.7,1367.4 1309.0,1366.3 1310.0,1367.0 1311.0,1365.2 1312.0,1365.2 1312.8,1363.1 1313.0,1363.8 1314.0,1359.3 1314.9,1355.8 1315.0,1354.0 1316.0,1346.2 1316.1,1344.6 1317.0,1342.2 1317.9,1339.5 1318.0,1340.6 1319.0,1339.6 1320.0,1340.9 1321.0,1340.1 1321.4,1341.4 1322.0,1340.5 1323.0,1342.2 1324.0,1341.9 1325.0,1343.8 1326.0,1343.6 1327.0,1345.5 1327.2,1344.6 1328.0,1346.3 1329.0,1346.0 1330.0,1347.9 1331.0,1347.6 1332.0,1349.5 1333.0,1349.1 1334.0,1350.9 1335.0,1350.5 1335.4,1351.8 1336.0,1351.1 1337.0,1352.9 1338.0,1352.5 1339.0,1354.1 1340.0,1353.2 1341.0,1354.2 1342.0,1352.8 1343.0,1353.4 1344.0,1351.7 1345.0,1352.1 1346.0,1350.2 1347.0,1350.5 1348.0,1348.5 1349.0,1348.8 1350.0,1346.8 1350.3,1347.7 1351.0,1346.0 1352.0,1346.0 1353.0,1343.6 1354.0,1343.4 1355.0,1340.9 1356.0,1340.7 1357.0,1338.4 1358.0,1338.5 1359.0,1336.6 1360.0,1337.3 1360.5,1336.2 1361.0,1337.3 1362.0,1336.6 1363.0,1338.4 1364.0,1338.3 1365.0,1340.6 1366.0,1340.8 1367.0,1343.2 1368.0,1343.5 1369.0,1345.9 1370.0,1345.9 1370.8,1347.8 1371.0,1346.8 1372.0,1348.9 1373.0,1348.8 1374.0,1350.9 1375.0,1350.7 1376.0,1352.6 1377.0,1352.2 1378.0,1353.7 1379.0,1352.8 1380.0,1353.7 1381.0,1352.2 1382.0,1352.8 1383.0,1351.3 1384.0,1352.2 1384.1,1351.1 1385.0,1352.5 1386.0,1352.3 1387.0,1354.6 1388.0,1355.0 1389.0,1357.5 1390.0,1357.8 1391.0,1359.8 1391.3,1358.9 1392.0,1360.5 1393.0,1360.0 1394.0,1361.6 1395.0,1361.1 1396.0,1362.7 1397.0,1362.0 1398.0,1363.5 1399.0,1362.7 1400.0,1364.0 1401.0,1363.0 1401.5,1364.1 1402.0,1363.0 1403.0,1364.1 1404.0,1363.0 1405.0,1364.0 1406.0,1362.8 1407.0,1363.9 1408.0,1362.7 1409.0,1363.8 1410.0,1362.6 1410.8,1363.7 1411.0,1362.6 1412.0,1363.8 1413.0,1363.0 1414.0,1364.4 1415.0,1363.7 1416.0,1365.3 1417.0,1364.6 1418.0,1366.2 1419.0,1365.5 1420.0,1366.9 1421.0,1366.0 1422.0,1367.2 1422.1,1366.1 1423.0,1367.2 1424.0,1366.1 1425.0,1367.2 1426.0,1366.1 1427.0,1367.2 1428.0,1366.1 1429.0,1367.2 1430.0,1366.1 1431.0,1367.2 1432.0,1366.1 1433.0,1367.2 1434.0,1366.1 1435.0,1367.2 1436.0,1366.1 1437.0,1367.2 1438.0,1366.1 1439.0,1367.2 1440.0,1366.1 1441.0,1367.2 1442.0,1366.1 1442.6,1367.2 1443.0,1366.1 1444.0,1366.8 1445.0,1365.1 1445.5,1365.9 1446.0,1364.5 1447.0,1365.0 1448.0,1363.2 1449.0,1363.6 1450.0,1361.6 1451.0,1361.8 1452.0,1359.4 1453.0,1359.0 1454.0,1356.3 1454.6,1356.3 1455.0,1354.6 1456.0,1354.0 1457.0,1350.9 1457.8,1349.9 1458.0,1348.2 1459.0,1345.5 1460.0,1339.3 1461.0,1334.5 1461.4,1330.9 1462.0,1327.9 1463.0,1318.8 1463.3,1317.3 1464.0,1310.4 1465.0,1302.0 1465.6,1293.4 1466.0,1287.0 1466.5,1275.2 1467.0,1266.3 1467.4,1257.2 1468.0,1246.5 1468.3,1239.1 1469.0,1222.0 1470.0,1188.3 1471.0,1155.6 1472.0,1126.5 1473.0,1112.5 1473.3,1110.5 1474.0,1118.7 1475.0,1146.8 1476.0,1188.3 1477.0,1226.7 1477.4,1240.5 1478.0,1256.3 1478.8,1277.7 1479.0,1280.9 1479.7,1295.6 1480.0,1299.9 1481.0,1317.0 1482.0,1327.1 1482.4,1331.6 1483.0,1334.9 1484.0,1342.4 1485.0,1346.4 1485.6,1349.9 1486.0,1350.2 1487.0,1354.2 1488.0,1355.4 1488.3,1357.1 1489.0,1357.5 1490.0,1360.6 1491.0,1361.2 1492.0,1363.6 1493.0,1363.5 1494.0,1365.5 1495.0,1365.1 1496.0,1366.7 1496.5,1365.7 1497.0,1366.9 1498.0,1365.9 1499.0,1367.2 1500.0,1366.2 1501.0,1367.4 1502.0,1366.3 1502.9,1367.4 1503.0,1366.3 1504.0,1367.4 1505.0,1366.3 1506.0,1367.4 1507.0,1366.3 1508.0,1367.3 1509.0,1366.2 1510.0,1367.2 1510.3,1366.1 1511.0,1367.2 1512.0,1366.0 1513.0,1366.9 1514.0,1365.6 1515.0,1366.4 1516.0,1365.0 1517.0,1365.8 1518.0,1364.3 1518.5,1365.1 1519.0,1363.7 1520.0,1363.4 1521.0,1360.4 1522.0,1359.3 1523.0,1355.9 1524.0,1354.9 1524.6,1352.8 1525.0,1353.3 1526.0,1350.5 1527.0,1350.1 1528.0,1347.8 1528.7,1348.6 1529.0,1347.4 1530.0,1348.3 1531.0,1347.1 1532.0,1348.1 1533.0,1347.0 1534.0,1348.0 1535.0,1346.8 1536.0,1347.8 1536.9,1346.6 1537.0,1347.7 1538.0,1346.5 1539.0,1347.4 1540.0,1346.1 1541.0,1347.0 1542.0,1345.6 1543.0,1346.4 1544.0,1345.0 1545.0,1345.7 1545.1,1344.6 1546.0,1345.3 1547.0,1343.5 1548.0,1343.8 1549.0,1341.7 1550.0,1341.7 1551.0,1339.4 1552.0,1339.2 1553.0,1336.8 1553.3,1337.5 1554.0,1335.4 1555.0,1334.8 1556.0,1331.8 1557.0,1330.8 1558.0,1327.5 1559.0,1326.3 1559.5,1324.0 1560.0,1324.0 1561.0,1320.5 1562.0,1319.1 1563.0,1315.4 1564.0,1313.7 1565.0,1309.7 1565.6,1308.9 1566.0,1306.5 1567.0,1304.1 1568.0,1299.2 1569.0,1296.3 1570.0,1290.9 1571.0,1287.7 1571.8,1283.0 1572.0,1283.2 1573.0,1277.6 1574.0,1273.9 1575.0,1267.6 1575.9,1263.6 1576.0,1261.9 1577.0,1256.2 1578.0,1247.5 1579.0,1240.6 1580.0,1231.8 1581.0,1225.4 1582.0,1216.8 1583.0,1210.4 1584.0,1201.8 1584.1,1202.1 1585.0,1194.2 1586.0,1187.7 1587.0,1179.0 1588.0,1172.8 1588.2,1170.3 1589.0,1165.8 1590.0,1158.1 1591.0,1152.6 1592.0,1145.0 1592.8,1140.7 1593.0,1138.2 1594.0,1132.3 1595.0,1124.1 1596.0,1118.1 1597.0,1110.0 1597.3,1109.0 1598.0,1103.1 1599.0,1097.2 1600.0,1089.4 1601.0,1084.3 1602.0,1077.2 1603.0,1072.7 1604.0,1067.0 1604.1,1067.7 1605.0,1063.3 1606.0,1061.3 1606.8,1059.2 1607.0,1060.4 1608.0,1059.4 1609.0,1060.9 1610.0,1060.2 1611.0,1061.8 1612.0,1061.1 1613.0,1062.5 1613.3,1061.5 1614.0,1062.7 1615.0,1061.8 1616.0,1063.0 1617.0,1062.1 1618.0,1063.3 1619.0,1062.3 1620.0,1063.4 1620.5,1062.3 1621.0,1063.4 1622.0,1061.9 1623.0,1062.3 1624.0,1060.3 1625.0,1060.3 1625.6,1058.5 1626.0,1059.0 1627.0,1055.8 1628.0,1053.8 1629.0,1048.9 1630.0,1045.7 1631.0,1039.8 1631.8,1036.9 1632.0,1034.8 1633.0,1029.4 1634.0,1020.5 1635.0,1013.3 1635.9,1005.1 1636.0,1005.4 1637.0,997.1 1638.0,991.0 1639.0,982.4 1640.0,975.4 1641.0,965.6 1642.0,957.3 1643.0,946.0 1644.0,935.6 1644.1,933.3 1645.0,921.7 1646.0,904.9 1646.2,902.9 1647.0,889.8 1648.0,875.9 1648.2,871.8 1649.0,860.4 1650.0,844.3 1650.3,841.6 1651.0,831.7 1652.0,820.9 1653.0,811.6 1653.3,811.4 1654.0,808.4 1655.0,807.2 1656.0,804.4 1657.0,804.6 1657.4,803.5 1658.0,806.6 1659.0,816.9 1660.0,834.1 1660.5,840.8 1661.0,849.8 1662.0,866.8 1662.8,883.7 1663.0,886.8 1664.0,910.5 1664.6,922.7 1665.0,932.1 1666.0,950.9 1666.7,965.8 1667.0,970.8 1668.0,992.6 1668.7,1004.8 1669.0,1010.9 1670.0,1024.9 1671.0,1040.8 1671.4,1046.4 1672.0,1057.8 1673.0,1076.3 1673.4,1087.3 1674.0,1110.2 1674.8,1141.0 1675.0,1142.7 1676.0,1152.6 1676.3,1154.9 1677.0,1168.0 1678.0,1189.7 1679.0,1213.6 1679.5,1221.7 1680.0,1230.7 1681.0,1244.2 1682.0,1257.7 1682.6,1262.9 1683.0,1267.7 1684.0,1274.8 1685.0,1283.1 1686.0,1288.7 1686.7,1294.6 1687.0,1295.6 1688.0,1303.8 1689.0,1309.5 1690.0,1316.9 1690.8,1320.1 1691.0,1322.2 1692.0,1325.8 1693.0,1331.3 1694.0,1334.1 1695.0,1338.8 1695.9,1340.5 1696.0,1341.9 1697.0,1343.6 1698.0,1347.5 1699.0,1348.9 1700.0,1352.3 1701.0,1353.3 1702.0,1356.3 1703.0,1356.8 1703.1,1358.0 1704.0,1358.2 1705.0,1360.5 1706.0,1360.7 1707.0,1362.9 1708.0,1362.8 1709.0,1364.7 1710.0,1364.4 1711.0,1366.1 1711.3,1365.1 1712.0,1366.5 1713.0,1365.9 1714.0,1367.4 1715.0,1366.6 1716.0,1367.8 1716.4,1366.7 1717.0,1367.8 1718.0,1366.5 1719.0,1367.2 1720.0,1365.7 1721.0,1366.3 1722.0,1364.7 1723.0,1365.3 1724.0,1363.8 1725.0,1364.6 1725.6,1363.5 1726.0,1364.5 1727.0,1363.4 1728.0,1364.4 1729.0,1363.3 1730.0,1364.4 1731.0,1363.3 1732.0,1364.3 1733.0,1363.2 1734.0,1364.3 1735.0,1363.1 1735.9,1364.1 1736.0,1363.0 1737.0,1363.9 1738.0,1362.3 1739.0,1362.7 1740.0,1360.8 1741.0,1361.0 1742.0,1359.0 1742.1,1360.0 1743.0,1357.9 1744.0,1357.6 1745.0,1354.9 1746.0,1354.2 1747.0,1351.1 1748.0,1350.2 1748.2,1348.7 1749.0,1348.0 1750.0,1344.4 1751.0,1342.8 1752.0,1338.9 1753.0,1337.1 1754.0,1333.2 1754.4,1333.3 1755.0,1330.5 1756.0,1328.9 1757.0,1325.1 1758.0,1323.5 1759.0,1319.7 1760.0,1318.2 1760.5,1315.9 1761.0,1315.7 1762.0,1311.7 1763.0,1309.9 1764.0,1306.3 1765.0,1305.8 1765.6,1304.4 1766.0,1305.5 1767.0,1304.8 1768.0,1306.7 1769.0,1306.6 1770.0,1308.9 1771.0,1308.9 1771.8,1310.8 1772.0,1309.9 1773.0,1312.2 1774.0,1312.5 1775.0,1314.9 1776.0,1314.7 1776.9,1316.1 1777.0,1315.0 1778.0,1315.5 1779.0,1312.9 1780.0,1311.8 1781.0,1308.2 1782.0,1306.8 1782.1,1305.5 1783.0,1304.1 1784.0,1299.7 1785.0,1297.1 1786.0,1292.0 1787.0,1289.0 1787.2,1287.1 1788.0,1284.9 1789.0,1279.7 1790.0,1276.4 1791.0,1270.3 1792.0,1265.6 1792.3,1262.6 1793.0,1258.1 1794.0,1246.7 1795.0,1236.8 1795.4,1231.6 1796.0,1226.7 1797.0,1215.6 1798.0,1206.7 1798.5,1200.6 1799.0,1196.8 1800.0,1186.0 1801.0,1177.0 1801.5,1170.6 1802.0,1166.3 1803.0,1154.2 1804.0,1142.1 1804.1,1139.5 1805.0,1123.7 1806.0,1098.9 1807.0,1074.8 1807.6,1059.2 1808.0,1051.0 1809.0,1026.4 1810.0,1003.8 1811.0,979.3 1812.0,957.5 1812.3,949.7 1813.0,935.3 1814.0,912.3 1815.0,891.9 1816.0,869.9 1817.0,851.0 1818.0,827.6 1819.0,804.9 1820.0,785.2 1820.9,779.5 1821.0,778.5 1822.0,787.7 1823.0,804.9 1824.0,828.7 1825.0,848.9 1826.0,869.7 1827.0,889.6 1828.0,912.1 1829.0,931.6 1829.9,949.7 1830.0,950.4 1831.0,968.5 1832.0,983.3 1833.0,999.5 1834.0,1013.2 1835.0,1028.8 1836.0,1042.4 1837.0,1058.6 1837.1,1059.0 1838.0,1074.9 1839.0,1091.4 1840.0,1109.9 1841.0,1124.5 1842.0,1138.1 1842.3,1139.8 1843.0,1146.5 1844.0,1151.6 1845.0,1158.0 1846.0,1162.5 1847.0,1170.7 1847.1,1170.4 1848.0,1181.2 1849.0,1192.7 1849.7,1201.7 1850.0,1203.4 1851.0,1213.8 1852.0,1221.3 1853.0,1230.4 1854.0,1236.4 1854.9,1243.3 1855.0,1242.8 1856.0,1249.4 1857.0,1253.3 1858.0,1259.0 1859.0,1262.3 1860.0,1267.7 1861.0,1271.0 1862.0,1276.4 1863.0,1279.4 1864.0,1284.3 1865.0,1286.7 1865.1,1288.2 1866.0,1289.8 1867.0,1293.7 1868.0,1295.1 1869.0,1298.7 1870.0,1300.1 1871.0,1303.9 1871.3,1303.6 1872.0,1306.9 1873.0,1309.2 1874.0,1313.5 1875.0,1315.1 1875.4,1317.0 1876.0,1316.9 1877.0,1319.7 1878.0,1319.9 1879.0,1322.0 1879.9,1321.2 1880.0,1322.3 1881.0,1319.2 1882.0,1316.0 1883.0,1309.4 1884.0,1305.3 1884.6,1301.6 1885.0,1301.1 1886.0,1295.5 1887.0,1292.6 1888.0,1289.1 1888.3,1290.1 1889.0,1289.1 1890.0,1290.5 1891.0,1289.9 1892.0,1291.6 1893.0,1291.0 1893.8,1292.3 1894.0,1291.3 1895.0,1292.5 1896.0,1291.6 1897.0,1292.8 1898.0,1291.8 1899.0,1293.0 1900.0,1292.0 1901.0,1293.4 1902.0,1293.1 1903.0,1296.0 1904.0,1297.2 1905.0,1300.6 1906.0,1301.3 1906.2,1302.7 1907.0,1302.6 1908.0,1305.1 1909.0,1305.3 1910.0,1307.5 1911.0,1307.2 1912.0,1308.7 1912.3,1307.7 1913.0,1308.6 1914.0,1306.7 1915.0,1306.5 1916.0,1304.0 1917.0,1303.7 1918.0,1301.5 1919.0,1301.9 1919.5,1300.7 1920.0,1302.0 1921.0,1302.7 1922.0,1307.1 1923.0,1310.6 1923.6,1315.0 1924.0,1318.1 1925.0,1337.3 1925.6,1344.3 1926.0,1347.9 1927.0,1351.4 1928.0,1355.8 1928.7,1356.8 1929.0,1358.9 1930.0,1360.9 1931.0,1363.9 1931.1,1362.8 1932.0,1367.4 1933.0,1359.8 1934.0,1368.4 1935.0,1360.3 1936.0,1369.2 1936.6,1360.5 1937.0,1368.8 1938.0,1361.0 1939.0,1368.5 1940.0,1360.4 1941.0,1368.8 1942.0,1359.9 1943.0,1368.4 1943.9,1360.6 1944.0,1368.3 1945.0,1359.6 1946.0,1368.0 1947.0,1359.8 1948.0,1368.5 1949.0,1359.9 1950.0,1368.0 1951.0,1358.7 1952.0,1367.4 1953.0,1359.0 1954.0,1368.2 1955.0,1359.5 1956.0,1367.8 1957.0,1358.8 1958.0,1368.0 1959.0,1359.2 1960.0,1367.6 1961.0,1359.2 1962.0,1367.9 1963.0,1359.3 1964.0,1368.1 1965.0,1359.1 1966.0,1368.8 1967.0,1359.9 1967.6,1368.9 1968.0,1363.8 1969.0,1364.9 1970.0,1363.8"/>
<path stroke="#be78e1" d="M277.0,1255.0 278.0,1253.9 279.0,1255.0 280.0,1253.9 281.0,1254.9 282.0,1253.8 283.0,1254.9 284.0,1253.8 285.0,1254.9 286.0,1253.8 287.0,1254.9 288.0,1253.8 289.0,1254.9 290.0,1253.8 291.0,1254.9 292.0,1253.8 293.0,1254.9 294.0,1253.8 295.0,1254.9 296.0,1253.8 297.0,1254.9 298.0,1253.8 299.0,1254.9 300.0,1253.8 301.0,1254.9 302.0,1253.8 303.0,1254.9 304.0,1253.8 305.0,1254.9 306.0,1253.8 307.0,1254.9 308.0,1253.8 309.0,1254.8 310.0,1253.7 311.0,1254.8 312.0,1253.7 313.0,1254.8 314.0,1253.7 315.0,1254.8 316.0,1253.7 317.0,1254.8 318.0,1253.7 319.0,1254.8 320.0,1253.7 321.0,1254.8 322.0,1253.7 323.0,1254.8 324.0,1253.7 325.0,1254.8 326.0,1253.6 327.0,1254.7 328.0,1253.6 329.0,1254.7 330.0,1253.6 331.0,1254.7 332.0,1253.6 333.0,1254.7 334.0,1253.6 335.0,1254.7 336.0,1253.6 337.0,1254.7 338.0,1253.6 339.0,1254.6 340.0,1253.5 341.0,1254.6 342.0,1253.5 343.0,1254.6 344.0,1253.5 345.0,1254.6 346.0,1253.5 347.0,1254.6 348.0,1253.5 349.0,1254.6 350.0,1253.5 351.0,1254.5 352.0,1253.4 353.0,1254.5 354.0,1253.4 355.0,1254.5 356.0,1253.4 357.0,1254.5 358.0,1253.4 359.0,1254.5 360.0,1253.4 361.0,1254.5 362.0,1253.3 363.0,1254.4 364.0,1253.3 365.0,1254.4 366.0,1253.3 367.0,1254.4 368.0,1253.3 369.0,1254.4 370.0,1253.3 371.0,1254.4 372.0,1253.3 373.0,1254.3 374.0,1253.2 375.0,1254.3 376.0,1253.2 377.0,1254.3 378.0,1253.2 379.0,1254.3 380.0,1253.2 381.0,1254.3 382.0,1253.1 383.0,1254.2 384.0,1253.1 385.0,1254.2 386.0,1253.1 387.0,1254.2 388.0,1253.1 389.0,1254.2 390.0,1253.1 391.0,1254.2 392.0,1253.0 393.0,1254.1 394.0,1253.0 395.0,1254.1 396.0,1253.0 397.0,1254.1 398.0,1253.0 399.0,1254.1 400.0,1253.0 401.0,1254.0 402.0,1252.9 403.0,1254.0 404.0,1252.9 405.0,1254.0 406.0,1252.9 407.0,1254.0 408.0,1252.9 408.9,1254.0 409.0,1252.9 410.0,1254.0 411.0,1252.8 412.0,1253.9 413.0,1252.8 414.0,1253.9 415.0,1252.8 416.0,1253.9 417.0,1252.7 418.0,1253.8 419.0,1252.7 420.0,1253.8 421.0,1252.7 422.0,1253.8 423.0,1252.6 424.0,1253.7 425.0,1252.6 426.0,1253.7 427.0,1252.5 428.0,1253.6 429.0,1252.5 430.0,1253.6 431.0,1252.5 432.0,1253.5 433.0,1252.4 434.0,1253.5 435.0,1252.4 436.0,1253.4 437.0,1252.3 438.0,1253.4 439.0,1252.3 440.0,1253.4 441.0,1252.2 442.0,1253.3 443.0,1252.2 444.0,1253.3 445.0,1252.1 446.0,1253.2 447.0,1252.1 448.0,1253.2 449.0,1252.1 450.0,1253.2 451.0,1252.0 452.0,1253.1 453.0,1252.0 454.0,1253.1 455.0,1252.0 456.0,1253.1 457.0,1251.9 458.0,1253.0 459.0,1251.9 460.0,1253.0 461.0,1251.9 462.0,1253.0 463.0,1251.9 464.0,1253.0 465.0,1251.9 466.0,1253.0 467.0,1251.9 468.0,1253.0 468.4,1251.9 469.0,1253.0 470.0,1251.9 471.0,1253.0 472.0,1251.9 473.0,1253.0 474.0,1251.9 475.0,1253.0 476.0,1251.9 477.0,1253.0 478.0,1251.9 479.0,1253.0 480.0,1251.9 481.0,1253.0 482.0,1251.9 483.0,1253.0 484.0,1251.9 485.0,1253.0 486.0,1251.9 487.0,1253.0 488.0,1251.9 489.0,1253.0 490.0,1251.9 491.0,1253.0 492.0,1251.9 493.0,1253.1 494.0,1252.0 495.0,1253.1 496.0,1252.0 497.0,1253.1 498.0,1252.0 499.0,1253.1 500.0,1252.0 501.0,1253.1 502.0,1252.0 503.0,1253.1 504.0,1252.0 505.0,1253.1 506.0,1252.1 507.0,1253.2 508.0,1252.1 509.0,1253.2 510.0,1252.1 511.0,1253.2 512.0,1252.1 513.0,1253.2 514.0,1252.1 515.0,1253.2 516.0,1252.1 517.0,1253.3 518.0,1252.2 519.0,1253.3 520.0,1252.2 521.0,1253.3 522.0,1252.2 523.0,1253.3 524.0,1252.2 525.0,1253.3 526.0,1252.2 527.0,1253.4 528.0,1252.3 529.0,1253.4 530.0,1252.3 531.0,1253.4 532.0,1252.3 533.0,1253.4 534.0,1252.3 535.0,1253.4 536.0,1252.3 537.0,1253.5 538.0,1252.4 539.0,1253.5 540.0,1252.4 541.0,1253.5 542.0,1252.4 543.0,1253.5 544.0,1252.4 545.0,1253.5 546.0,1252.4 547.0,1253.6 547.8,1252.5 548.0,1253.6 549.0,1252.5 550.0,1253.6 551.0,1252.5 552.0,1253.6 553.0,1252.5 554.0,1253.6 555.0,1252.5 556.0,1253.7 557.0,1252.6 558.0,1253.7 559.0,1252.6 560.0,1253.7 561.0,1252.6 562.0,1253.8 563.0,1252.7 564.0,1253.8 565.0,1252.7 566.0,1253.8 567.0,1252.7 568.0,1253.9 569.0,1252.8 570.0,1253.9 571.0,1252.8 572.0,1253.9 573.0,1252.8 574.0,1254.0 575.0,1252.9 576.0,1254.0 577.0,1252.9 578.0,1254.0 579.0,1253.0 580.0,1254.1 581.0,1253.0 582.0,1254.1 583.0,1253.0 584.0,1254.2 585.0,1253.1 586.0,1254.2 587.0,1253.1 588.0,1254.3 589.0,1253.2 590.0,1254.3 591.0,1253.2 592.0,1254.3 593.0,1253.3 594.0,1254.4 595.0,1253.3 596.0,1254.4 597.0,1253.3 598.0,1254.5 599.0,1253.4 600.0,1254.5 601.0,1253.4 602.0,1254.6 603.0,1253.5 604.0,1254.6 605.0,1253.5 606.0,1254.6 607.0,1253.6 608.0,1254.7 609.0,1253.6 610.0,1254.7 611.0,1253.7 612.0,1254.8 613.0,1253.7 614.0,1254.8 615.0,1253.7 616.0,1254.9 617.0,1253.8 618.0,1254.9 619.0,1253.8 620.0,1254.9 621.0,1253.9 622.0,1255.0 623.0,1253.9 624.0,1255.0 625.0,1253.9 626.0,1255.1 627.0,1254.0 628.0,1255.1 629.0,1254.0 630.0,1255.1 631.0,1254.1 632.0,1255.2 633.0,1254.1 634.0,1255.2 635.0,1254.1 636.0,1255.2 637.0,1254.2 638.0,1255.3 639.0,1254.2 640.0,1255.3 641.0,1254.2 642.0,1255.3 643.0,1254.2 644.0,1255.4 645.0,1254.3 646.0,1255.4 647.0,1254.3 648.0,1255.4 649.0,1254.3 650.0,1255.4 651.0,1254.3 652.0,1255.5 653.0,1254.4 654.0,1255.5 655.0,1254.4 656.0,1255.5 657.0,1254.4 658.0,1255.5 659.0,1254.4 660.0,1255.5 661.0,1254.4 662.0,1255.5 663.0,1254.4 664.0,1255.5 665.0,1254.4 666.0,1255.5 667.0,1254.4 668.0,1255.5 669.0,1254.4 670.0,1255.5 671.0,1254.4 672.0,1255.5 673.0,1254.4 674.0,1255.5 675.0,1254.4 676.0,1255.5 677.0,1254.4 678.0,1255.5 679.0,1254.4 680.0,1255.5 681.0,1254.4 682.0,1255.5 683.0,1254.4 684.0,1255.5 685.0,1254.4 686.0,1255.5 687.0,1254.4 688.0,1255.5 689.0,1254.4 690.0,1255.5 691.0,1254.4 692.0,1255.5 693.0,1254.4 694.0,1255.5 695.0,1254.4 696.0,1255.5 697.0,1254.4 698.0,1255.5 699.0,1254.3 700.0,1255.4 701.0,1254.3 702.0,1255.4 703.0,1254.3 704.0,1255.4 705.0,1254.3 706.0,1255.4 707.0,1254.3 708.0,1255.4 709.0,1254.3 710.0,1255.4 711.0,1254.3 711.5,1255.4 712.0,1254.3 713.0,1255.4 714.0,1254.3 715.0,1255.4 716.0,1254.3 717.0,1255.4 718.0,1254.3 719.0,1255.4 720.0,1254.3 721.0,1255.4 722.0,1254.3 723.0,1255.4 724.0,1254.3 725.0,1255.4 726.0,1254.3 727.0,1255.4 728.0,1254.3 729.0,1255.4 730.0,1254.3 731.0,1255.4 732.0,1254.3 733.0,1255.4 734.0,1254.3 735.0,1255.4 736.0,1254.3 737.0,1255.4 738.0,1254.3 739.0,1255.4 740.0,1254.3 741.0,1255.4 742.0,1254.3 743.0,1255.4 744.0,1254.3 745.0,1255.4 746.0,1254.3 747.0,1255.4 748.0,1254.3 749.0,1255.4 750.0,1254.3 751.0,1255.4 752.0,1254.3 753.0,1255.4 754.0,1254.3 755.0,1255.4 756.0,1254.3 757.0,1255.4 758.0,1254.3 759.0,1255.4 760.0,1254.3 761.0,1255.4 762.0,1254.3 763.0,1255.4 764.0,1254.3 765.0,1255.4 766.0,1254.3 767.0,1255.4 768.0,1254.3 769.0,1255.4 770.0,1254.3 771.0,1255.4 772.0,1254.3 773.0,1255.4 773.1,1254.3 774.0,1255.4 775.0,1254.3 776.0,1255.4 777.0,1254.3 778.0,1255.4 779.0,1254.3 780.0,1255.4 781.0,1254.3 782.0,1255.4 783.0,1254.2 784.0,1255.3 785.0,1254.2 786.0,1255.3 787.0,1254.1 788.0,1255.2 789.0,1254.1 790.0,1255.2 791.0,1254.0 792.0,1255.1 793.0,1253.9 793.6,1255.0 794.0,1253.9 795.0,1254.9 796.0,1253.6 797.0,1254.4 798.0,1253.0 799.0,1253.7 800.0,1252.1 801.0,1252.8 801.8,1251.2 802.0,1252.2 803.0,1250.3 804.0,1250.3 805.0,1247.7 806.0,1247.2 807.0,1244.3 808.0,1243.6 809.0,1240.7 809.4,1241.0 810.0,1238.8 811.0,1238.0 812.0,1234.8 813.0,1233.6 814.0,1230.0 814.1,1230.8 815.0,1227.3 816.0,1225.5 817.0,1221.3 818.0,1219.0 819.0,1214.2 820.0,1211.4 820.3,1209.0 821.0,1206.7 822.0,1199.9 823.0,1195.0 824.0,1188.3 824.4,1187.5 825.0,1183.6 826.0,1179.5 827.0,1173.8 828.0,1171.6 828.9,1169.4 829.0,1170.5 830.0,1171.4 831.0,1176.8 832.0,1181.4 833.0,1188.5 833.6,1190.8 834.0,1194.3 835.0,1200.5 836.0,1209.5 837.0,1214.8 837.7,1218.5 838.0,1218.1 839.0,1221.3 840.0,1222.0 841.0,1224.4 842.0,1224.1 842.8,1225.5 843.0,1224.4 844.0,1225.1 845.0,1223.3 846.0,1223.4 847.0,1221.2 848.0,1221.3 849.0,1219.4 850.0,1219.8 851.0,1218.0 852.0,1218.4 853.0,1216.6 854.0,1217.2 855.0,1215.7 856.0,1216.7 856.2,1215.6 857.0,1216.8 858.0,1216.2 859.0,1218.1 860.0,1218.0 861.0,1220.2 862.0,1220.2 863.0,1222.3 863.3,1221.5 864.0,1223.2 865.0,1222.9 866.0,1224.9 867.0,1224.7 868.0,1226.7 869.0,1226.5 870.0,1228.5 871.0,1228.3 872.0,1230.3 873.0,1230.0 873.6,1231.6 874.0,1230.9 875.0,1232.8 876.0,1232.6 877.0,1234.6 878.0,1234.5 879.0,1236.5 880.0,1236.2 881.0,1238.2 882.0,1237.8 883.0,1239.6 884.0,1239.1 885.0,1240.7 885.9,1240.0 886.0,1241.1 887.0,1240.3 888.0,1241.7 889.0,1240.9 890.0,1242.2 891.0,1241.4 892.0,1242.7 893.0,1241.8 894.0,1243.0 895.0,1242.0 896.0,1243.1 896.2,1242.0 897.0,1243.1 898.0,1241.9 899.0,1242.8 900.0,1241.5 901.0,1242.4 902.0,1241.1 902.3,1242.1 903.0,1240.7 904.0,1241.3 905.0,1239.6 906.0,1240.0 907.0,1238.3 908.0,1238.9 908.9,1237.7 909.0,1238.8 910.0,1238.4 911.0,1240.9 912.0,1241.7 913.0,1244.8 914.0,1245.4 914.6,1247.2 915.0,1246.5 916.0,1248.6 917.0,1248.4 918.0,1250.4 919.0,1250.2 920.0,1252.2 921.0,1251.9 922.0,1253.7 923.0,1253.2 924.0,1254.8 925.0,1254.0 926.0,1255.4 926.9,1254.3 927.0,1255.4 928.0,1254.3 929.0,1255.4 930.0,1254.3 931.0,1255.4 932.0,1254.3 933.0,1255.4 934.0,1254.3 935.0,1255.4 936.0,1254.3 937.0,1255.4 938.0,1254.3 939.0,1255.4 940.0,1254.3 941.0,1255.4 942.0,1254.3 943.0,1255.4 944.0,1254.3 945.0,1255.4 946.0,1254.3 947.0,1255.4 948.0,1254.3 949.0,1255.4 950.0,1254.3 951.0,1255.4 952.0,1254.3 953.0,1255.4 954.0,1254.3 955.0,1255.4 956.0,1254.3 957.0,1255.4 958.0,1254.3 959.0,1255.4 960.0,1254.3 961.0,1255.4 962.0,1254.3 963.0,1255.4 964.0,1254.3 965.0,1255.4 966.0,1254.3 967.0,1255.4 968.0,1254.3 969.0,1255.4 970.0,1254.3 971.0,1255.4 972.0,1254.3 973.0,1255.4 974.0,1254.3 975.0,1255.4 976.0,1254.3 977.0,1255.4 978.0,1254.3 979.0,1255.4 980.0,1254.3 981.0,1255.4 982.0,1254.3 983.0,1255.4 984.0,1254.3 985.0,1255.4 986.0,1254.3 987.0,1255.4 988.0,1254.3 989.0,1255.4 990.0,1254.3 991.0,1255.4 992.0,1254.3 993.0,1255.4 994.0,1254.3 995.0,1255.4 996.0,1254.3 997.0,1255.4 998.0,1254.3 999.0,1255.4 1000.0,1254.3 1001.0,1255.4 1002.0,1254.3 1003.0,1255.4 1004.0,1254.3 1005.0,1255.4 1006.0,1254.3 1007.0,1255.4 1008.0,1254.3 1009.0,1255.4 1010.0,1254.3 1011.0,1255.4 1012.0,1254.3 1013.0,1255.4 1014.0,1254.3 1015.0,1255.4 1016.0,1254.3 1017.0,1255.4 1018.0,1254.3 1019.0,1255.4 1020.0,1254.3 1021.0,1255.4 1022.0,1254.3 1023.0,1255.4 1024.0,1254.3 1025.0,1255.4 1026.0,1254.3 1027.0,1255.4 1028.0,1254.3"/>
<path stroke="#be78e1" d="M1054.0,1253.2 1055.0,1252.1 1056.0,1253.1 1057.0,1252.0 1058.0,1253.0 1059.0,1251.8 1060.0,1252.7 1061.0,1251.5 1062.0,1252.4 1063.0,1251.1 1064.0,1252.0 1065.0,1250.7 1066.0,1251.5 1066.7,1250.2 1067.0,1251.2 1068.0,1249.2 1069.0,1248.8 1070.0,1245.8 1071.0,1244.4 1072.0,1240.6 1073.0,1238.7 1074.0,1234.5 1074.9,1232.8 1075.0,1231.3 1076.0,1228.8 1077.0,1223.3 1078.0,1219.5 1079.0,1212.9 1080.0,1208.2 1081.0,1201.1 1082.0,1195.1 1083.0,1185.7 1084.0,1178.6 1085.0,1170.9 1085.1,1171.5 1086.0,1165.8 1087.0,1162.0 1088.0,1157.0 1089.0,1156.2 1089.2,1155.0 1090.0,1157.0 1091.0,1158.9 1092.0,1164.5 1093.0,1168.5 1093.3,1171.2 1094.0,1174.2 1095.0,1182.9 1096.0,1190.2 1097.0,1199.2 1097.4,1200.8 1098.0,1205.5 1099.0,1210.3 1100.0,1217.0 1101.0,1221.1 1102.0,1226.8 1103.0,1229.8 1103.6,1232.9 1104.0,1233.1 1105.0,1237.3 1106.0,1239.3 1107.0,1243.2 1108.0,1244.7 1109.0,1248.0 1110.0,1248.6 1111.0,1250.9 1111.8,1250.2 1112.0,1251.4 1113.0,1250.5 1114.0,1251.9 1115.0,1251.0 1116.0,1252.3 1117.0,1251.4 1118.0,1252.7 1119.0,1251.8 1120.0,1253.1 1121.0,1252.2 1122.0,1253.4 1123.0,1252.5 1124.0,1253.7 1125.0,1252.7 1126.0,1253.9 1127.0,1252.9 1128.0,1254.2 1129.0,1253.1 1130.0,1254.3 1131.0,1253.3 1132.0,1254.5 1133.0,1253.4 1134.0,1254.6 1135.0,1253.5 1136.0,1254.7 1137.0,1253.6 1138.0,1254.7 1139.0,1253.7 1140.0,1254.8 1141.0,1253.7 1142.0,1254.8 1142.6,1253.7 1143.0,1254.8 1144.0,1253.7 1145.0,1254.8 1146.0,1253.6 1147.0,1254.7 1148.0,1253.5 1149.0,1254.5 1150.0,1253.3 1151.0,1254.4 1152.0,1253.2 1153.0,1254.1 1154.0,1252.9 1155.0,1253.9 1156.0,1252.7 1157.0,1253.7 1158.0,1252.5 1159.0,1253.4 1160.0,1252.2 1161.0,1253.2 1162.0,1252.0 1163.0,1253.0 1164.0,1251.8 1165.0,1252.8 1166.0,1251.6 1167.0,1252.6 1168.0,1251.4 1169.0,1252.5 1170.0,1251.3 1171.0,1252.4 1172.0,1251.3 1173.0,1252.3 1173.3,1251.2 1174.0,1252.3 1175.0,1251.2 1176.0,1252.3 1177.0,1251.2 1178.0,1252.3 1179.0,1251.2 1180.0,1252.3 1181.0,1251.2 1182.0,1252.3 1183.0,1251.2 1184.0,1252.3 1185.0,1251.2 1186.0,1252.3 1187.0,1251.2 1188.0,1252.3 1189.0,1251.2 1190.0,1252.3 1191.0,1251.2 1192.0,1252.3 1193.0,1251.2 1194.0,1252.3 1195.0,1251.2 1196.0,1252.3 1197.0,1251.2 1198.0,1252.3 1199.0,1251.2 1200.0,1252.3 1201.0,1251.2 1202.0,1252.3 1203.0,1251.2 1204.0,1252.3 1204.1,1251.2 1205.0,1252.3 1206.0,1251.0 1207.0,1251.8 1208.0,1250.3 1209.0,1251.0 1210.0,1249.4 1211.0,1250.0 1212.0,1248.5 1213.0,1249.2 1214.0,1247.7 1215.0,1248.6 1216.0,1247.4 1216.4,1248.4 1217.0,1247.4 1218.0,1248.6 1219.0,1247.7 1220.0,1249.0 1221.0,1248.3 1222.0,1249.8 1223.0,1249.1 1224.0,1250.6 1225.0,1250.0 1226.0,1251.6 1227.0,1251.0 1228.0,1252.5 1229.0,1251.9 1230.0,1253.4 1231.0,1252.6 1232.0,1254.0 1233.0,1253.1 1234.0,1254.4 1234.9,1253.3 1235.0,1254.4 1236.0,1253.3 1237.0,1254.4 1238.0,1253.3 1239.0,1254.4 1240.0,1253.3 1241.0,1254.4 1242.0,1253.3 1243.0,1254.4 1244.0,1253.3 1245.0,1254.4 1246.0,1253.3 1247.0,1254.4 1248.0,1253.3 1249.0,1254.4 1250.0,1253.3 1251.0,1254.4 1252.0,1253.3 1253.0,1254.4 1254.0,1253.3 1255.0,1254.4 1256.0,1253.3 1257.0,1254.4 1258.0,1253.3 1259.0,1254.4 1260.0,1253.3 1261.0,1254.4 1262.0,1253.3 1263.0,1254.4 1264.0,1253.3 1265.0,1254.4 1265.6,1253.3 1266.0,1254.4 1267.0,1253.2 1268.0,1254.2 1269.0,1253.0 1270.0,1253.8 1271.0,1252.5 1272.0,1253.2 1273.0,1251.7 1274.0,1252.4 1275.0,1250.7 1275.9,1251.3 1276.0,1250.1 1277.0,1249.3 1278.0,1244.5 1279.0,1240.7 1280.0,1233.8 1281.0,1228.8 1282.0,1221.8 1282.1,1222.3 1283.0,1215.3 1284.0,1209.1 1285.0,1201.7 1285.1,1202.2 1286.0,1196.4 1287.0,1192.4 1288.0,1187.6 1288.8,1187.5 1289.0,1186.5 1290.0,1189.6 1291.0,1192.6 1292.0,1198.6 1292.7,1200.9 1293.0,1203.4 1294.0,1207.6 1295.0,1214.6 1296.0,1219.3 1296.4,1222.5 1297.0,1224.7 1298.0,1231.5 1299.0,1235.8 1300.0,1241.4 1300.5,1242.0 1301.0,1244.5 1302.0,1246.2 1303.0,1249.6 1304.0,1249.9 1304.6,1251.3 1305.0,1250.2 1306.0,1251.0 1307.0,1249.3 1308.0,1249.7 1309.0,1247.7 1310.0,1247.9 1311.0,1245.9 1312.0,1246.2 1313.0,1244.4 1314.0,1245.1 1314.9,1243.9 1315.0,1245.0 1316.0,1243.9 1317.0,1245.1 1318.0,1244.1 1319.0,1245.4 1320.0,1244.5 1321.0,1245.9 1322.0,1245.0 1323.0,1246.4 1324.0,1245.5 1325.0,1246.8 1326.0,1245.9 1327.0,1247.2 1327.2,1246.1 1328.0,1247.3 1329.0,1246.3 1330.0,1247.5 1331.0,1246.6 1332.0,1247.8 1333.0,1246.7 1334.0,1247.9 1335.0,1246.9 1336.0,1248.1 1337.0,1247.1 1337.4,1248.2 1338.0,1247.2 1339.0,1248.4 1340.0,1247.3 1341.0,1248.3 1342.0,1246.9 1343.0,1247.5 1344.0,1245.7 1345.0,1246.0 1346.0,1244.0 1347.0,1244.2 1348.0,1242.1 1349.0,1242.3 1350.0,1240.4 1350.3,1241.2 1351.0,1239.5 1352.0,1239.6 1353.0,1237.4 1354.0,1237.3 1355.0,1235.0 1356.0,1234.9 1357.0,1232.7 1358.0,1232.8 1359.0,1230.9 1360.0,1231.4 1361.0,1230.0 1361.5,1231.0 1362.0,1230.0 1363.0,1231.5 1364.0,1231.2 1365.0,1233.4 1366.0,1233.7 1367.0,1236.2 1368.0,1236.6 1369.0,1239.1 1370.0,1239.3 1370.8,1241.3 1371.0,1240.4 1372.0,1242.5 1373.0,1242.5 1374.0,1244.7 1375.0,1244.7 1376.0,1246.8 1377.0,1246.7 1378.0,1248.7 1379.0,1248.4 1380.0,1250.1 1381.0,1249.4 1382.0,1250.8 1383.0,1250.0 1384.0,1251.4 1385.0,1250.6 1386.0,1252.0 1387.0,1251.1 1388.0,1252.5 1389.0,1251.6 1390.0,1252.9 1391.0,1252.0 1392.0,1253.3 1393.0,1252.4 1394.0,1253.6 1395.0,1252.7 1396.0,1253.9 1397.0,1252.9 1398.0,1254.1 1399.0,1253.0 1400.0,1254.2 1401.0,1253.1 1401.5,1254.2 1402.0,1253.1 1403.0,1254.2 1404.0,1253.1 1405.0,1254.1 1406.0,1253.0 1407.0,1254.1 1408.0,1252.9 1409.0,1254.0 1410.0,1252.8 1411.0,1253.8 1411.8,1252.7 1412.0,1253.8 1413.0,1252.6 1414.0,1253.5 1415.0,1252.3 1416.0,1253.2 1417.0,1251.8 1418.0,1252.7 1419.0,1251.2 1420.0,1252.0 1421.0,1250.5 1422.0,1251.1 1422.1,1250.0 1423.0,1250.4 1424.0,1248.2 1425.0,1247.7 1426.0,1244.7 1427.0,1243.8 1428.0,1240.5 1429.0,1239.4 1430.0,1236.2 1430.3,1236.7 1431.0,1234.1 1432.0,1232.7 1433.0,1229.1 1434.0,1227.6 1435.0,1224.1 1436.0,1223.1 1436.4,1221.3 1437.0,1221.4 1438.0,1218.5 1439.0,1217.9 1440.0,1215.2 1441.0,1214.9 1442.0,1212.8 1443.0,1213.3 1443.6,1212.1 1444.0,1213.2 1445.0,1212.9 1446.0,1215.4 1447.0,1216.1 1448.0,1219.1 1449.0,1219.6 1450.0,1221.9 1450.8,1221.3 1451.0,1222.5 1452.0,1221.6 1453.0,1222.9 1454.0,1221.8 1454.2,1222.9 1455.0,1221.5 1456.0,1221.5 1457.0,1218.5 1458.0,1217.3 1459.0,1213.6 1460.0,1212.0 1460.2,1210.3 1461.0,1209.1 1462.0,1204.6 1463.0,1201.2 1464.0,1194.0 1464.1,1194.4 1465.0,1183.1 1466.0,1165.9 1467.0,1141.4 1467.1,1140.0 1468.0,1107.8 1468.5,1088.7 1469.0,1067.4 1469.9,1029.0 1470.0,1023.2 1471.0,972.9 1471.2,963.2 1472.0,935.0 1472.4,923.3 1473.0,911.8 1473.8,901.3 1474.0,904.9 1474.5,924.2 1475.0,939.2 1476.0,961.8 1476.1,965.1 1477.0,982.3 1477.1,985.2 1478.0,1000.3 1479.0,1015.1 1479.2,1015.5 1480.0,1020.6 1481.0,1023.0 1482.0,1026.6 1482.1,1025.7 1483.0,1028.7 1484.0,1029.6 1485.0,1032.4 1486.0,1032.4 1487.0,1034.1 1487.2,1033.0 1488.0,1033.8 1489.0,1031.7 1490.0,1031.7 1491.0,1029.8 1491.3,1030.8 1492.0,1029.6 1493.0,1030.6 1494.0,1029.4 1495.0,1030.4 1496.0,1029.3 1497.0,1032.0 1498.0,1034.8 1498.9,1040.2 1499.0,1039.6 1500.0,1047.3 1501.0,1055.0 1502.0,1066.1 1502.6,1071.1 1503.0,1076.5 1504.0,1087.2 1505.0,1100.9 1505.2,1102.3 1506.0,1114.5 1507.0,1127.4 1507.7,1135.9 1508.0,1137.2 1509.0,1146.3 1510.0,1152.2 1511.0,1158.6 1512.0,1160.1 1512.3,1161.4 1513.0,1158.6 1514.0,1152.1 1515.0,1138.6 1516.0,1124.0 1517.0,1105.5 1518.0,1088.9 1519.0,1071.3 1520.0,1058.6 1521.0,1048.0 1522.0,1045.4 1522.1,1044.3 1523.0,1048.6 1524.0,1056.9 1525.0,1072.2 1526.0,1088.7 1527.0,1109.5 1528.0,1128.7 1529.0,1149.2 1530.0,1165.4 1531.0,1180.2 1532.0,1187.8 1532.8,1191.3 1533.0,1190.1 1534.0,1188.2 1535.0,1180.3 1536.0,1171.5 1537.0,1158.5 1538.0,1146.4 1539.0,1131.6 1540.0,1119.5 1541.0,1106.4 1542.0,1097.6 1543.0,1089.6 1544.0,1087.5 1544.2,1086.3 1545.0,1088.6 1546.0,1091.9 1547.0,1100.2 1548.0,1108.3 1549.0,1120.2 1550.0,1130.8 1551.0,1143.9 1552.0,1154.5 1553.0,1166.3 1554.0,1174.4 1555.0,1182.6 1556.0,1185.8 1556.8,1187.9 1557.0,1186.8 1558.0,1187.3 1559.0,1184.9 1560.0,1184.1 1561.0,1180.4 1562.0,1178.5 1563.0,1173.8 1564.0,1170.9 1565.0,1165.5 1566.0,1162.0 1567.0,1156.1 1568.0,1152.2 1569.0,1146.0 1570.0,1141.9 1570.3,1139.2 1571.0,1136.2 1572.0,1127.8 1573.0,1120.7 1574.0,1110.8 1574.4,1108.4 1575.0,1102.0 1576.0,1093.7 1577.0,1082.6 1578.0,1073.0 1578.5,1066.2 1579.0,1061.2 1580.0,1046.8 1581.0,1034.0 1581.5,1026.1 1582.0,1020.5 1583.0,1006.1 1584.0,993.9 1584.6,984.8 1585.0,980.5 1586.0,966.1 1587.0,953.9 1587.7,943.4 1588.0,940.5 1589.0,925.0 1590.0,912.3 1590.8,902.2 1591.0,901.4 1592.0,891.7 1593.0,885.4 1594.0,877.5 1594.9,872.7 1595.0,870.9 1596.0,865.5 1597.0,858.3 1598.0,853.5 1599.0,846.6 1600.0,842.1 1601.0,834.9 1602.0,830.0 1603.0,824.8 1603.1,825.6 1604.0,822.4 1605.0,821.5 1606.0,818.9 1607.0,819.3 1607.2,818.2 1608.0,820.1 1609.0,821.6 1610.0,826.6 1611.0,830.2 1612.0,836.2 1613.0,839.6 1613.3,842.0 1614.0,843.7 1615.0,849.1 1616.0,852.3 1617.0,857.1 1617.4,857.3 1618.0,860.2 1619.0,862.1 1620.0,866.0 1621.0,867.3 1622.0,870.2 1623.0,869.9 1623.2,871.0 1624.0,869.7 1625.0,870.2 1626.0,868.1 1627.0,867.8 1628.0,865.0 1629.0,864.2 1629.7,861.6 1630.0,862.0 1631.0,857.2 1632.0,853.2 1633.0,846.1 1633.8,842.4 1634.0,840.0 1635.0,834.3 1636.0,825.6 1637.0,818.7 1637.9,810.6 1638.0,810.9 1639.0,802.6 1640.0,796.5 1641.0,788.0 1642.0,781.0 1642.1,779.0 1643.0,772.3 1644.0,762.2 1645.0,753.8 1646.0,742.6 1647.0,732.8 1648.0,719.9 1649.0,708.1 1650.0,693.4 1651.0,679.9 1652.0,661.2 1653.0,640.1 1653.5,625.7 1654.0,607.7 1655.0,551.9 1655.2,542.6 1656.0,497.5 1656.8,462.2 1657.0,454.9 1657.8,438.3 1658.0,437.5 1659.0,455.4 1659.3,460.9 1660.0,480.1 1661.0,513.2 1661.7,541.9 1662.0,553.0 1663.0,601.5 1663.4,625.7 1664.0,685.0 1664.2,706.1 1664.8,779.1 1665.0,790.4 1666.0,831.4 1666.3,843.0 1667.0,878.8 1667.5,903.2 1668.0,930.4 1668.7,963.3 1669.0,975.9 1670.0,1006.5 1670.6,1028.1 1671.0,1045.2 1672.0,1088.2 1673.0,1104.4 1674.0,1117.6 1675.0,1126.0 1676.0,1136.3 1676.4,1139.3 1677.0,1147.1 1678.0,1157.7 1679.0,1170.4 1680.0,1180.2 1681.0,1191.0 1682.0,1197.7 1682.6,1202.3 1683.0,1203.1 1684.0,1208.7 1685.0,1211.6 1686.0,1216.2 1687.0,1218.3 1688.0,1222.2 1689.0,1223.6 1690.0,1227.1 1690.8,1227.7 1691.0,1229.3 1692.0,1230.2 1693.0,1233.3 1694.0,1234.1 1695.0,1236.9 1696.0,1237.5 1697.0,1240.1 1698.0,1240.4 1699.0,1242.9 1700.0,1243.0 1701.0,1245.1 1702.0,1245.1 1703.0,1247.2 1704.0,1247.1 1705.0,1249.1 1706.0,1248.9 1707.0,1250.8 1708.0,1250.4 1709.0,1252.1 1710.0,1251.5 1711.0,1252.9 1711.3,1251.9 1712.0,1253.1 1713.0,1252.2 1714.0,1253.5 1715.0,1252.5 1716.0,1253.8 1717.0,1252.8 1718.0,1254.0 1719.0,1253.0 1720.0,1254.2 1721.0,1253.1 1721.5,1254.2 1722.0,1253.1 1723.0,1254.0 1724.0,1252.6 1725.0,1253.2 1726.0,1251.5 1727.0,1251.9 1728.0,1249.9 1729.0,1250.1 1730.0,1248.0 1731.0,1248.1 1731.8,1246.1 1732.0,1247.0 1733.0,1244.4 1734.0,1243.7 1735.0,1240.3 1736.0,1238.8 1737.0,1234.8 1737.9,1233.0 1738.0,1231.6 1739.0,1228.6 1740.0,1222.4 1741.0,1217.9 1742.0,1211.5 1742.1,1212.1 1743.0,1206.3 1744.0,1202.1 1745.0,1195.9 1746.0,1192.5 1746.2,1190.5 1747.0,1188.5 1748.0,1183.7 1749.0,1181.3 1750.0,1177.0 1751.0,1175.0 1752.0,1171.1 1752.3,1171.3 1753.0,1168.3 1754.0,1166.6 1755.0,1162.7 1756.0,1161.3 1757.0,1158.1 1758.0,1157.5 1758.5,1155.8 1759.0,1156.4 1760.0,1154.3 1761.0,1154.5 1762.0,1152.5 1763.0,1152.9 1764.0,1151.2 1765.0,1151.9 1766.0,1150.6 1766.7,1151.6 1767.0,1150.6 1768.0,1152.5 1769.0,1152.8 1770.0,1155.8 1771.0,1156.6 1771.8,1159.0 1772.0,1158.2 1773.0,1161.3 1774.0,1162.3 1775.0,1165.5 1776.0,1165.8 1776.9,1167.4 1777.0,1166.3 1778.0,1166.7 1779.0,1163.8 1780.0,1162.4 1781.0,1158.6 1782.0,1157.1 1782.1,1155.7 1783.0,1154.7 1784.0,1151.3 1785.0,1149.8 1786.0,1145.8 1787.0,1143.4 1787.7,1139.4 1788.0,1139.1 1789.0,1132.0 1790.0,1125.5 1791.0,1115.3 1792.0,1106.3 1793.0,1094.3 1793.6,1088.7 1794.0,1082.9 1795.0,1070.8 1796.0,1054.7 1797.0,1039.4 1797.7,1026.4 1798.0,1022.2 1799.0,1001.7 1800.0,982.0 1800.8,964.5 1801.0,961.6 1802.0,940.5 1803.0,921.6 1803.9,902.5 1804.0,901.6 1805.0,880.5 1806.0,861.6 1807.0,840.5 1808.0,823.0 1809.0,803.3 1810.0,781.9 1810.1,778.2 1811.0,751.5 1812.0,712.1 1813.0,668.9 1814.0,619.5 1815.0,570.5 1816.0,519.5 1817.0,472.9 1817.5,449.4 1818.0,427.1 1819.0,372.1 1820.0,316.5 1821.0,264.1 1822.0,227.3 1823.0,209.8 1823.1,210.8 1824.0,236.1 1825.0,311.5 1826.0,404.2 1826.5,450.6 1827.0,499.3 1828.0,623.5 1829.0,737.5 1829.5,778.2 1830.0,801.8 1831.0,843.4 1832.0,902.5 1833.0,964.0 1834.0,1000.8 1834.9,1027.4 1835.0,1028.8 1836.0,1052.2 1837.0,1070.0 1837.9,1087.3 1838.0,1088.1 1839.0,1107.6 1840.0,1123.9 1841.0,1140.2 1842.0,1152.6 1843.0,1166.6 1844.0,1177.4 1845.0,1189.0 1846.0,1196.5 1846.7,1202.3 1847.0,1202.9 1848.0,1209.2 1849.0,1212.5 1850.0,1217.4 1851.0,1219.8 1852.0,1224.1 1852.8,1225.5 1853.0,1227.3 1854.0,1229.3 1855.0,1233.5 1856.0,1235.2 1857.0,1238.9 1858.0,1240.1 1859.0,1243.2 1860.0,1243.8 1861.0,1246.5 1862.0,1247.0 1863.0,1249.6 1864.0,1249.8 1865.0,1251.9 1866.0,1251.7 1867.0,1253.3 1867.2,1252.3 1868.0,1253.6 1869.0,1252.8 1870.0,1254.2 1871.0,1253.3 1872.0,1254.5 1873.0,1253.5 1873.3,1254.6 1874.0,1252.9 1875.0,1250.9 1876.0,1244.8 1877.0,1239.5 1878.0,1231.5 1879.0,1225.7 1879.5,1221.4 1880.0,1219.0 1881.0,1209.5 1882.0,1201.8 1883.0,1193.5 1883.6,1191.8 1884.0,1189.4 1885.0,1187.3 1886.0,1183.6 1887.0,1182.8 1888.0,1180.7 1888.3,1181.8 1889.0,1180.9 1890.0,1183.0 1891.0,1183.4 1892.0,1186.0 1893.0,1186.1 1893.8,1187.7 1894.0,1186.7 1895.0,1187.9 1896.0,1186.9 1897.0,1188.1 1898.0,1187.1 1899.0,1188.3 1900.0,1187.3 1901.0,1188.5 1902.0,1187.9 1903.0,1190.0 1904.0,1190.1 1905.0,1192.5 1906.0,1192.6 1906.2,1193.9 1907.0,1193.7 1908.0,1196.1 1909.0,1196.3 1910.0,1198.5 1911.0,1198.4 1912.0,1200.0 1912.3,1198.9 1913.0,1200.1 1914.0,1199.1 1915.0,1200.2 1916.0,1199.1 1917.0,1200.3 1918.0,1199.2 1919.0,1200.4 1919.5,1199.3 1920.0,1200.6 1921.0,1200.6 1922.0,1203.7 1923.0,1205.4 1924.0,1209.9 1924.6,1211.2 1925.0,1214.9 1926.0,1227.1 1927.0,1243.2 1927.8,1248.8 1928.0,1250.4 1929.0,1251.8 1930.0,1257.0 1931.0,1251.3 1931.1,1258.1 1932.0,1250.6 1933.0,1256.8 1934.0,1247.3 1934.7,1254.2 1935.0,1246.5 1936.0,1253.2 1937.0,1244.5 1938.0,1252.8 1939.0,1242.8 1940.0,1251.8 1940.2,1242.9 1941.0,1251.5 1942.0,1241.0 1943.0,1251.0 1944.0,1240.5 1944.8,1251.4 1945.0,1240.3 1946.0,1248.7 1947.0,1233.4 1948.0,1245.1 1948.4,1227.7 1949.0,1248.3 1950.0,1224.3 1951.0,1251.0 1952.0,1218.7 1953.0,1251.3 1954.0,1220.1 1955.0,1250.2 1956.0,1221.6 1957.0,1252.7 1958.0,1223.2 1958.5,1253.6 1959.0,1222.1 1960.0,1255.8 1961.0,1224.9 1962.0,1255.5 1963.0,1225.6 1964.0,1255.5 1965.0,1225.6 1966.0,1256.6 1967.0,1225.7 1967.6,1255.8 1968.0,1240.0 1969.0,1241.1 1970.0,1240.0"/>
<path stroke="#d99600" d="M277.0,1255.0 278.0,1253.9 279.0,1255.0 280.0,1253.9 281.0,1254.9 282.0,1253.8 283.0,1254.9 284.0,1253.8 285.0,1254.9 286.0,1253.8 287.0,1254.9 288.0,1253.8 289.0,1254.9 290.0,1253.8 291.0,1254.9 292.0,1253.8 293.0,1254.8 294.0,1253.7 295.0,1254.8 296.0,1253.7 297.0,1254.8 298.0,1253.7 299.0,1254.8 300.0,1253.6 301.0,1254.7 302.0,1253.6 303.0,1254.7 304.0,1253.6 305.0,1254.7 306.0,1253.5 307.0,1254.6 308.0,1253.5 309.0,1254.6 309.7,1253.5 310.0,1254.6 311.0,1253.4 312.0,1254.5 313.0,1253.4 314.0,1254.4 315.0,1253.3 316.0,1254.4 317.0,1253.2 318.0,1254.3 319.0,1253.1 320.0,1254.1 321.0,1253.0 322.0,1254.0 323.0,1252.9 324.0,1253.9 325.0,1252.7 326.0,1253.8 327.0,1252.6 328.0,1253.6 329.0,1252.4 330.0,1253.4 331.0,1252.3 332.0,1253.3 333.0,1252.1 334.0,1253.1 335.0,1251.9 336.0,1252.9 337.0,1251.7 338.0,1252.7 339.0,1251.5 340.0,1252.5 341.0,1251.3 342.0,1252.3 343.0,1251.1 344.0,1252.1 345.0,1250.9 346.0,1251.9 347.0,1250.7 348.0,1251.7 349.0,1250.5 349.4,1251.6 350.0,1250.4 351.0,1251.4 352.0,1250.2 353.0,1251.2 354.0,1250.0 355.0,1250.9 356.0,1249.7 357.0,1250.7 358.0,1249.4 359.0,1250.4 360.0,1249.1 361.0,1250.1 362.0,1248.8 363.0,1249.8 364.0,1248.5 365.0,1249.5 366.0,1248.2 367.0,1249.1 368.0,1247.8 369.0,1248.8 370.0,1247.5 371.0,1248.4 372.0,1247.1 373.0,1248.1 374.0,1246.8 375.0,1247.7 376.0,1246.4 377.0,1247.3 378.0,1246.0 379.0,1247.0 380.0,1245.7 381.0,1246.6 382.0,1245.3 383.0,1246.2 384.0,1244.9 385.0,1245.8 386.0,1244.5 387.0,1245.4 388.0,1244.1 389.0,1245.0 390.0,1243.8 391.0,1244.7 392.0,1243.4 393.0,1244.3 394.0,1243.0 395.0,1243.9 396.0,1242.5 397.0,1243.4 398.0,1242.1 399.0,1243.0 400.0,1241.7 401.0,1242.6 402.0,1241.3 403.0,1242.1 404.0,1240.8 405.0,1241.7 406.0,1240.4 407.0,1241.2 408.0,1239.9 409.0,1240.8 410.0,1239.4 411.0,1240.3 412.0,1239.0 413.0,1239.8 414.0,1238.5 415.0,1239.4 416.0,1238.0 417.0,1238.9 418.0,1237.6 419.0,1238.4 420.0,1237.1 421.0,1237.9 422.0,1236.6 423.0,1237.5 424.0,1236.1 425.0,1237.0 426.0,1235.7 427.0,1236.5 428.0,1235.2 428.7,1236.1 429.0,1234.9 430.0,1235.8 431.0,1234.5 432.0,1235.3 433.0,1234.0 434.0,1234.8 435.0,1233.5 436.0,1234.3 437.0,1232.9 438.0,1233.8 439.0,1232.4 440.0,1233.2 441.0,1231.9 442.0,1232.7 443.0,1231.3 444.0,1232.2 445.0,1230.8 446.0,1231.6 447.0,1230.3 448.0,1231.1 449.0,1229.7 450.0,1230.6 451.0,1229.2 452.0,1230.0 453.0,1228.7 454.0,1229.5 455.0,1228.2 456.0,1229.0 457.0,1227.7 458.0,1228.5 459.0,1227.2 460.0,1228.0 461.0,1226.7 462.0,1227.6 463.0,1226.2 464.0,1227.1 465.0,1225.8 466.0,1226.7 467.0,1225.4 468.0,1226.3 468.4,1225.1 469.0,1226.1 470.0,1224.8 471.0,1225.7 472.0,1224.4 473.0,1225.3 474.0,1224.0 475.0,1224.9 476.0,1223.6 477.0,1224.6 478.0,1223.3 479.0,1224.2 480.0,1222.9 481.0,1223.8 482.0,1222.6 483.0,1223.5 484.0,1222.2 485.0,1223.2 486.0,1221.9 487.0,1222.8 488.0,1221.6 489.0,1222.5 490.0,1221.2 491.0,1222.2 492.0,1220.9 493.0,1221.9 494.0,1220.6 495.0,1221.6 496.0,1220.3 497.0,1221.3 498.0,1220.0 499.0,1221.0 500.0,1219.8 501.0,1220.7 502.0,1219.5 503.0,1220.5 504.0,1219.2 505.0,1220.2 506.0,1219.0 507.0,1220.0 508.0,1218.7 508.1,1219.8 509.0,1218.6 510.0,1219.6 511.0,1218.4 512.0,1219.4 513.0,1218.2 514.0,1219.1 515.0,1217.9 516.0,1218.9 517.0,1217.7 518.0,1218.6 519.0,1217.4 520.0,1218.4 521.0,1217.2 522.0,1218.2 523.0,1216.9 524.0,1217.9 525.0,1216.7 526.0,1217.7 527.0,1216.5 528.0,1217.5 529.0,1216.3 530.0,1217.3 531.0,1216.1 532.0,1217.1 533.0,1215.9 534.0,1216.9 535.0,1215.7 536.0,1216.7 537.0,1215.6 538.0,1216.6 539.0,1215.4 540.0,1216.5 541.0,1215.3 542.0,1216.4 543.0,1215.2 544.0,1216.3 545.0,1215.2 546.0,1216.3 547.0,1215.2 547.8,1216.3 548.0,1215.2 549.0,1216.3 550.0,1215.2 551.0,1216.3 552.0,1215.2 553.0,1216.3 554.0,1215.2 555.0,1216.3 556.0,1215.2 557.0,1216.3 558.0,1215.2 559.0,1216.3 560.0,1215.2 561.0,1216.3 562.0,1215.2 563.0,1216.3 564.0,1215.2 565.0,1216.3 566.0,1215.2 567.0,1216.3 567.6,1215.2 568.0,1216.3 569.0,1215.2 570.0,1216.3 571.0,1215.2 572.0,1216.3 573.0,1215.3 574.0,1216.4 575.0,1215.4 576.0,1216.5 577.0,1215.5 578.0,1216.6 579.0,1215.6 580.0,1216.7 581.0,1215.7 582.0,1216.9 583.0,1215.8 584.0,1217.0 585.0,1216.0 586.0,1217.2 587.0,1216.1 587.5,1217.3 588.0,1216.2 589.0,1217.4 590.0,1216.3 591.0,1217.5 592.0,1216.5 593.0,1217.7 594.0,1216.7 595.0,1217.9 596.0,1216.9 597.0,1218.1 598.0,1217.2 599.0,1218.4 600.0,1217.4 601.0,1218.6 602.0,1217.7 603.0,1218.9 604.0,1217.9 605.0,1219.2 606.0,1218.2 607.0,1219.4 608.0,1218.5 609.0,1219.7 610.0,1218.8 611.0,1220.0 612.0,1219.1 613.0,1220.3 614.0,1219.4 615.0,1220.7 616.0,1219.7 617.0,1221.0 618.0,1220.0 619.0,1221.3 620.0,1220.4 621.0,1221.6 622.0,1220.7 623.0,1221.9 624.0,1221.0 625.0,1222.3 626.0,1221.3 627.0,1222.6 627.1,1221.5 628.0,1222.8 629.0,1221.8 630.0,1223.1 631.0,1222.2 632.0,1223.4 633.0,1222.5 634.0,1223.8 635.0,1222.9 636.0,1224.2 637.0,1223.3 638.0,1224.5 639.0,1223.6 640.0,1224.9 641.0,1224.0 642.0,1225.3 643.0,1224.4 644.0,1225.7 645.0,1224.8 646.0,1226.1 647.0,1225.2 648.0,1226.6 649.0,1225.7 650.0,1227.0 651.0,1226.1 652.0,1227.4 653.0,1226.5 654.0,1227.8 655.0,1226.9 656.0,1228.2 657.0,1227.4 658.0,1228.7 659.0,1227.8 660.0,1229.1 661.0,1228.2 662.0,1229.5 663.0,1228.6 664.0,1229.9 665.0,1229.0 666.0,1230.3 667.0,1229.4 668.0,1230.7 669.0,1229.8 670.0,1231.1 671.0,1230.2 672.0,1231.5 673.0,1230.6 674.0,1231.9 675.0,1231.0 676.0,1232.3 677.0,1231.4 678.0,1232.7 679.0,1231.8 680.0,1233.1 681.0,1232.2 682.0,1233.5 683.0,1232.6 684.0,1233.9 685.0,1233.0 686.0,1234.3 687.0,1233.4 688.0,1234.7 689.0,1233.8 690.0,1235.1 691.0,1234.2 692.0,1235.5 693.0,1234.6 694.0,1236.0 695.0,1235.1 696.0,1236.4 697.0,1235.5 698.0,1236.8 699.0,1236.0 700.0,1237.3 701.0,1236.4 702.0,1237.8 703.0,1236.9 704.0,1238.2 705.0,1237.4 706.0,1238.7 707.0,1237.8 708.0,1239.2 709.0,1238.3 710.0,1239.6 711.0,1238.8 712.0,1240.1 713.0,1239.2 714.0,1240.6 715.0,1239.7 716.0,1241.0 717.0,1240.2 718.0,1241.5 719.0,1240.6 720.0,1242.0 721.0,1241.1 722.0,1242.4 723.0,1241.5 724.0,1242.9 725.0,1242.0 726.0,1243.3 727.0,1242.4 728.0,1243.7 729.0,1242.8 730.0,1244.1 731.0,1243.2 732.0,1244.5 732.1,1243.5 733.0,1244.7 734.0,1243.8 735.0,1245.1 736.0,1244.2 737.0,1245.5 738.0,1244.6 739.0,1245.9 740.0,1245.0 741.0,1246.3 742.0,1245.4 743.0,1246.7 744.0,1245.8 745.0,1247.0 746.0,1246.1 747.0,1247.4 748.0,1246.5 749.0,1247.8 750.0,1246.9 751.0,1248.2 752.0,1247.2 753.0,1248.5 754.0,1247.6 755.0,1248.9 756.0,1247.9 757.0,1249.2 758.0,1248.3 759.0,1249.6 760.0,1248.6 761.0,1249.9 762.0,1248.9 763.0,1250.2 764.0,1249.3 765.0,1250.5 766.0,1249.6 767.0,1250.8 768.0,1249.9 769.0,1251.1 770.0,1250.2 771.0,1251.4 772.0,1250.5 773.0,1251.7 773.1,1250.6 774.0,1251.9 775.0,1250.9 776.0,1252.2 777.0,1251.2 778.0,1252.5 779.0,1251.5 780.0,1252.8 781.0,1251.9 782.0,1253.1 783.0,1252.2 784.0,1253.4 785.0,1252.4 786.0,1253.7 787.0,1252.7 788.0,1253.9 789.0,1252.9 790.0,1254.1 791.0,1253.0 792.0,1254.2 793.0,1253.1 793.6,1254.2 794.0,1253.1 795.0,1254.2 796.0,1253.0 797.0,1254.0 798.0,1252.8 799.0,1253.8 800.0,1252.5 801.0,1253.5 802.0,1252.2 803.0,1253.1 804.0,1251.7 805.0,1252.6 805.9,1251.2 806.0,1252.3 807.0,1250.8 808.0,1251.3 809.0,1249.5 810.0,1249.7 811.0,1247.6 812.0,1247.6 813.0,1245.4 814.0,1245.3 814.1,1244.1 815.0,1243.9 816.0,1241.1 817.0,1240.3 818.0,1237.0 819.0,1235.9 820.0,1232.5 821.0,1231.4 822.0,1228.3 822.3,1228.8 823.0,1226.2 824.0,1225.0 825.0,1221.4 826.0,1220.2 827.0,1217.2 828.0,1217.0 828.9,1215.6 829.0,1216.7 830.0,1216.3 831.0,1219.1 832.0,1220.1 833.0,1223.6 834.0,1224.6 834.6,1226.7 835.0,1226.2 836.0,1228.9 837.0,1229.3 838.0,1231.8 839.0,1231.5 839.7,1232.9 840.0,1231.8 841.0,1232.8 842.0,1231.6 843.0,1232.6 844.0,1231.3 845.0,1232.2 846.0,1230.9 847.0,1231.8 848.0,1230.4 849.0,1231.3 850.0,1229.9 851.0,1230.8 852.0,1229.5 853.0,1230.4 854.0,1229.2 855.0,1230.2 856.0,1229.1 856.2,1230.2 857.0,1229.1 858.0,1230.3 859.0,1229.3 860.0,1230.6 861.0,1229.8 862.0,1231.2 863.0,1230.4 864.0,1231.9 865.0,1231.1 866.0,1232.6 867.0,1232.0 868.0,1233.5 869.0,1232.8 870.0,1234.4 871.0,1233.7 872.0,1235.3 873.0,1234.6 873.6,1235.9 874.0,1235.0 875.0,1236.6 876.0,1236.1 877.0,1237.8 878.0,1237.4 879.0,1239.1 880.0,1238.7 881.0,1240.4 882.0,1239.9 883.0,1241.4 884.0,1240.7 885.0,1242.0 885.9,1241.0 886.0,1242.1 887.0,1241.0 888.0,1242.1 889.0,1240.9 890.0,1242.0 891.0,1240.8 892.0,1241.9 893.0,1240.8 894.0,1241.9 894.1,1240.8 895.0,1241.9 896.0,1241.0 897.0,1242.3 898.0,1241.5 899.0,1242.8 900.0,1241.9 901.0,1243.1 901.3,1242.0 902.0,1243.1 903.0,1241.9 904.0,1242.9 905.0,1241.7 906.0,1242.7 907.0,1241.5 908.0,1242.5 908.9,1241.4 909.0,1242.5 910.0,1241.6 911.0,1243.1 912.0,1242.6 913.0,1244.5 914.0,1244.2 915.0,1246.1 916.0,1245.7 916.7,1247.2 917.0,1246.3 918.0,1248.1 919.0,1247.6 920.0,1249.4 921.0,1249.0 922.0,1250.8 923.0,1250.3 924.0,1252.0 925.0,1251.3 926.0,1252.8 926.9,1251.9 927.0,1253.0 928.0,1252.0 929.0,1253.2 930.0,1252.2 931.0,1253.5 932.0,1252.5 933.0,1253.7 934.0,1252.6 935.0,1253.8 936.0,1252.8 937.0,1254.0 938.0,1252.9 939.0,1254.1 940.0,1253.1 941.0,1254.2 942.0,1253.1 943.0,1254.3 944.0,1253.2 945.0,1254.3 946.0,1253.3 947.0,1254.4 947.4,1253.3 948.0,1254.4 949.0,1253.3 950.0,1254.4 951.0,1253.4 952.0,1254.5 953.0,1253.4 954.0,1254.5 955.0,1253.4 956.0,1254.5 957.0,1253.4 958.0,1254.6 959.0,1253.5 960.0,1254.6 961.0,1253.5 962.0,1254.6 963.0,1253.5 964.0,1254.6 965.0,1253.6 966.0,1254.7 967.0,1253.6 968.0,1254.7 969.0,1253.6 970.0,1254.7 971.0,1253.6 972.0,1254.7 973.0,1253.6 974.0,1254.8 975.0,1253.7 976.0,1254.8 977.0,1253.7 978.0,1254.8 979.0,1253.7 980.0,1254.8 981.0,1253.7 982.0,1254.8 983.0,1253.7 984.0,1254.8 985.0,1253.8 986.0,1254.9 987.0,1253.8 988.0,1254.9 989.0,1253.8 990.0,1254.9 991.0,1253.8 992.0,1254.9 993.0,1253.8 994.0,1254.9 995.0,1253.8 996.0,1254.9 997.0,1253.8 998.0,1254.9 999.0,1253.8 1000.0,1255.0 1001.0,1253.9 1002.0,1255.0 1003.0,1253.9 1004.0,1255.0 1005.0,1253.9 1006.0,1255.0 1007.0,1253.9 1008.0,1255.0 1009.0,1253.9 1010.0,1255.0 1011.0,1253.9 1012.0,1255.0 1013.0,1253.9 1014.0,1255.0 1015.0,1253.9 1016.0,1255.0 1017.0,1253.9 1018.0,1255.0 1019.0,1253.9 1020.0,1255.0 1021.0,1253.9 1022.0,1255.0 1023.0,1253.9 1024.0,1255.0 1025.0,1253.9 1026.0,1255.0 1027.0,1253.9 1028.0,1255.0"/>
<path stroke="#d99600" d="M1054.0,1255.8 1055.0,1254.7 1056.0,1255.8 1057.0,1254.6 1058.0,1255.7 1059.0,1254.5 1060.0,1255.5 1061.0,1254.3 1062.0,1255.2 1063.0,1254.0 1064.0,1254.9 1065.0,1253.6 1066.0,1254.5 1066.7,1253.3 1067.0,1254.3 1068.0,1252.8 1069.0,1253.3 1070.0,1251.4 1071.0,1251.5 1072.0,1249.2 1073.0,1249.0 1074.0,1246.5 1075.0,1246.1 1076.0,1243.5 1076.9,1243.2 1077.0,1241.9 1078.0,1241.0 1079.0,1237.3 1080.0,1235.5 1081.0,1231.4 1082.0,1229.5 1083.0,1225.8 1083.1,1226.6 1084.0,1223.2 1085.0,1221.5 1086.0,1217.6 1087.0,1216.5 1088.0,1214.0 1088.6,1214.8 1089.0,1213.8 1090.0,1216.2 1091.0,1217.4 1092.0,1221.6 1093.0,1224.0 1094.0,1228.6 1095.0,1230.7 1095.4,1232.9 1096.0,1233.4 1097.0,1237.4 1098.0,1239.3 1099.0,1243.3 1100.0,1244.6 1101.0,1247.6 1101.5,1247.1 1102.0,1248.7 1103.0,1248.5 1104.0,1250.4 1105.0,1250.1 1106.0,1251.8 1107.0,1251.2 1108.0,1252.7 1109.0,1251.8 1109.7,1253.0 1110.0,1251.9 1111.0,1253.0 1112.0,1251.9 1113.0,1253.0 1114.0,1251.9 1115.0,1253.0 1116.0,1251.9 1117.0,1253.0 1118.0,1251.9 1119.0,1253.0 1120.0,1251.9 1121.0,1253.0 1122.0,1251.9 1122.1,1253.0 1123.0,1251.9 1124.0,1253.2 1125.0,1252.3 1126.0,1253.6 1127.0,1252.8 1128.0,1254.1 1129.0,1253.2 1130.0,1254.4 1130.3,1253.3 1131.0,1254.4 1132.0,1253.2 1133.0,1254.3 1134.0,1253.1 1135.0,1254.0 1136.0,1252.8 1137.0,1253.7 1138.0,1252.4 1138.5,1253.4 1139.0,1252.1 1140.0,1252.5 1141.0,1250.4 1142.0,1250.2 1143.0,1247.7 1144.0,1247.2 1145.0,1244.5 1146.0,1244.1 1146.7,1242.0 1147.0,1242.7 1148.0,1240.1 1149.0,1239.7 1150.0,1237.1 1151.0,1236.6 1152.0,1233.9 1153.0,1233.5 1154.0,1230.9 1154.9,1230.8 1155.0,1229.5 1156.0,1229.3 1157.0,1226.8 1158.0,1226.6 1159.0,1224.2 1160.0,1224.0 1161.0,1221.7 1162.0,1221.7 1163.0,1219.5 1163.1,1220.5 1164.0,1218.5 1165.0,1218.7 1166.0,1216.6 1167.0,1216.8 1168.0,1214.8 1169.0,1215.1 1170.0,1213.2 1171.0,1213.6 1172.0,1211.9 1173.0,1212.5 1173.3,1211.3 1174.0,1212.1 1175.0,1210.6 1176.0,1211.3 1177.0,1209.8 1178.0,1210.6 1179.0,1209.2 1180.0,1210.0 1181.0,1208.7 1182.0,1209.6 1183.0,1208.3 1183.6,1209.3 1184.0,1208.1 1185.0,1209.0 1186.0,1207.8 1187.0,1208.7 1188.0,1207.4 1189.0,1208.4 1190.0,1207.2 1191.0,1208.1 1192.0,1206.9 1193.0,1207.9 1194.0,1206.8 1195.0,1207.8 1195.9,1206.7 1196.0,1207.8 1197.0,1206.7 1198.0,1207.9 1199.0,1206.8 1200.0,1207.9 1201.0,1206.9 1202.0,1208.0 1203.0,1207.0 1204.0,1208.1 1205.0,1207.1 1206.0,1208.2 1207.0,1207.1 1208.0,1208.2 1208.2,1207.1 1209.0,1208.2 1210.0,1207.1 1211.0,1208.2 1212.0,1207.0 1213.0,1208.1 1214.0,1207.0 1215.0,1208.0 1216.0,1206.9 1217.0,1207.9 1218.0,1206.8 1219.0,1207.8 1220.0,1206.7 1220.5,1207.8 1221.0,1206.8 1222.0,1208.2 1223.0,1207.7 1224.0,1209.6 1225.0,1209.5 1226.0,1211.6 1227.0,1211.6 1228.0,1213.7 1228.7,1213.3 1229.0,1214.7 1230.0,1214.5 1231.0,1216.6 1232.0,1216.6 1233.0,1218.7 1234.0,1218.7 1235.0,1220.8 1236.0,1220.7 1236.9,1222.6 1237.0,1221.6 1238.0,1223.5 1239.0,1223.2 1240.0,1225.1 1241.0,1224.8 1242.0,1226.7 1243.0,1226.3 1244.0,1228.0 1245.0,1227.6 1245.1,1228.7 1246.0,1228.2 1247.0,1229.8 1248.0,1229.3 1249.0,1230.9 1250.0,1230.3 1251.0,1231.9 1252.0,1231.3 1253.0,1232.8 1254.0,1232.2 1255.0,1233.7 1255.4,1232.8 1256.0,1234.2 1257.0,1233.5 1258.0,1235.1 1259.0,1234.5 1260.0,1236.1 1261.0,1235.5 1262.0,1237.0 1263.0,1236.3 1264.0,1237.7 1265.0,1236.8 1265.6,1238.0 1266.0,1236.9 1267.0,1238.1 1268.0,1237.1 1269.0,1238.3 1270.0,1237.3 1271.0,1238.4 1272.0,1237.4 1273.0,1238.5 1274.0,1237.5 1275.0,1238.6 1275.9,1237.5 1276.0,1238.6 1277.0,1237.1 1278.0,1237.2 1279.0,1234.8 1280.0,1234.3 1281.0,1231.5 1282.0,1230.9 1282.1,1229.6 1283.0,1228.9 1284.0,1225.1 1285.0,1223.4 1286.0,1219.6 1287.0,1218.7 1288.0,1216.6 1288.2,1217.7 1289.0,1217.3 1290.0,1221.1 1291.0,1223.9 1292.0,1229.6 1293.0,1233.0 1294.0,1238.0 1294.4,1238.0 1295.0,1240.7 1296.0,1242.4 1297.0,1246.1 1298.0,1247.4 1299.0,1250.5 1300.0,1250.8 1300.5,1252.3 1301.0,1251.6 1302.0,1253.4 1303.0,1252.8 1304.0,1254.4 1305.0,1253.7 1306.0,1255.0 1306.7,1253.9 1307.0,1255.0 1308.0,1253.7 1309.0,1254.3 1310.0,1252.6 1311.0,1252.9 1312.0,1251.0 1312.8,1251.3 1313.0,1250.0 1314.0,1249.4 1315.0,1245.9 1316.0,1245.0 1316.9,1243.0 1317.0,1244.1 1318.0,1242.9 1319.0,1243.9 1320.0,1242.7 1321.0,1243.8 1322.0,1242.6 1323.0,1243.7 1324.0,1242.5 1325.0,1243.6 1326.0,1242.5 1327.0,1243.5 1327.2,1242.4 1328.0,1243.5 1329.0,1242.4 1330.0,1243.4 1331.0,1242.3 1332.0,1243.4 1333.0,1242.3 1334.0,1243.3 1335.0,1242.2 1336.0,1243.2 1337.0,1242.1 1337.4,1243.1 1338.0,1241.6 1339.0,1241.1 1340.0,1238.3 1341.0,1238.4 1342.0,1236.3 1343.0,1236.5 1344.0,1234.6 1345.0,1235.0 1346.0,1233.1 1347.0,1233.5 1348.0,1231.6 1349.0,1231.9 1350.0,1229.9 1350.3,1230.8 1351.0,1229.0 1352.0,1228.9 1353.0,1226.6 1354.0,1226.3 1355.0,1223.9 1356.0,1223.6 1357.0,1221.3 1358.0,1221.3 1359.0,1219.3 1360.0,1219.7 1361.0,1218.3 1361.5,1219.3 1362.0,1218.3 1363.0,1219.6 1364.0,1219.1 1365.0,1220.9 1366.0,1220.7 1367.0,1222.8 1368.0,1222.8 1369.0,1225.0 1370.0,1224.9 1370.8,1226.7 1371.0,1225.8 1372.0,1227.8 1373.0,1227.7 1374.0,1229.8 1375.0,1229.7 1376.0,1231.8 1377.0,1231.7 1378.0,1233.9 1379.0,1233.8 1380.0,1235.9 1381.0,1235.8 1382.0,1238.0 1383.0,1238.1 1384.0,1240.3 1385.0,1240.3 1386.0,1242.3 1387.0,1241.9 1387.2,1243.1 1388.0,1242.3 1389.0,1243.8 1390.0,1242.9 1391.0,1244.2 1392.0,1243.4 1393.0,1244.8 1393.3,1243.8 1394.0,1245.3 1395.0,1244.9 1396.0,1246.9 1397.0,1246.7 1398.0,1248.8 1399.0,1248.6 1400.0,1250.5 1401.0,1250.0 1401.5,1251.3 1402.0,1250.4 1403.0,1251.8 1404.0,1250.9 1405.0,1252.2 1406.0,1251.3 1407.0,1252.6 1408.0,1251.7 1409.0,1253.0 1410.0,1252.0 1411.0,1253.3 1411.8,1252.3 1412.0,1253.4 1413.0,1252.5 1414.0,1253.7 1415.0,1252.8 1416.0,1254.0 1417.0,1253.1 1418.0,1254.3 1419.0,1253.4 1420.0,1254.6 1421.0,1253.6 1422.0,1254.8 1423.0,1253.8 1424.0,1255.0 1425.0,1253.9 1426.0,1255.0 1426.2,1253.9 1427.0,1254.9 1428.0,1253.6 1429.0,1254.3 1430.0,1252.8 1431.0,1253.3 1432.0,1251.6 1433.0,1252.1 1434.0,1250.4 1434.4,1251.3 1435.0,1249.8 1436.0,1250.1 1437.0,1248.2 1438.0,1248.3 1439.0,1246.3 1440.0,1246.6 1441.0,1244.9 1442.0,1245.6 1442.6,1244.5 1443.0,1245.6 1444.0,1245.1 1445.0,1247.2 1446.0,1247.3 1447.0,1249.6 1448.0,1249.6 1448.7,1251.3 1449.0,1250.4 1450.0,1252.2 1451.0,1251.8 1452.0,1253.5 1453.0,1252.9 1454.0,1254.3 1454.9,1253.3 1455.0,1254.4 1456.0,1253.1 1457.0,1253.8 1458.0,1251.9 1459.0,1252.0 1460.0,1249.6 1461.0,1249.1 1462.0,1246.1 1462.7,1245.8 1463.0,1243.7 1464.0,1237.4 1465.0,1224.7 1466.0,1213.3 1466.2,1209.9 1467.0,1200.9 1468.0,1186.0 1468.7,1177.5 1469.0,1172.4 1470.0,1160.0 1471.0,1145.6 1471.3,1142.9 1472.0,1131.6 1473.0,1117.3 1474.0,1106.2 1474.4,1106.4 1475.0,1106.9 1476.0,1115.4 1477.0,1124.2 1478.0,1133.8 1478.1,1133.3 1479.0,1139.9 1480.0,1144.5 1481.0,1150.1 1481.5,1150.5 1482.0,1152.7 1483.0,1153.6 1484.0,1156.5 1485.0,1157.0 1486.0,1159.3 1487.0,1159.0 1488.0,1160.5 1488.4,1159.4 1489.0,1160.5 1490.0,1159.4 1491.0,1160.5 1492.0,1159.4 1493.0,1160.5 1494.0,1159.3 1495.0,1160.4 1496.0,1159.3 1496.9,1160.4 1497.0,1159.3 1498.0,1161.5 1499.0,1163.0 1500.0,1167.9 1501.0,1171.2 1502.0,1177.1 1502.1,1176.4 1503.0,1183.5 1504.0,1191.1 1505.0,1200.2 1505.5,1202.0 1506.0,1205.5 1507.0,1209.1 1508.0,1214.7 1509.0,1217.6 1510.0,1222.0 1511.0,1223.2 1512.0,1225.4 1512.3,1224.4 1513.0,1224.4 1514.0,1218.6 1515.0,1212.6 1516.0,1203.4 1517.0,1197.1 1517.4,1193.5 1518.0,1191.0 1519.0,1183.0 1520.0,1177.4 1521.0,1170.9 1522.0,1169.4 1522.2,1168.2 1523.0,1170.5 1524.0,1174.1 1525.0,1181.8 1526.0,1187.9 1526.8,1194.2 1527.0,1194.2 1528.0,1201.7 1529.0,1207.4 1530.0,1214.7 1531.0,1218.5 1531.1,1220.0 1532.0,1222.3 1533.0,1227.0 1534.0,1229.0 1535.0,1232.4 1536.0,1232.4 1536.2,1233.5 1537.0,1230.6 1538.0,1225.1 1539.0,1215.5 1539.7,1211.2 1540.0,1207.8 1541.0,1199.6 1542.0,1188.3 1543.0,1180.6 1544.0,1174.3 1544.4,1174.7 1545.0,1174.0 1546.0,1177.5 1547.0,1180.4 1548.0,1186.1 1549.0,1189.7 1549.9,1194.3 1550.0,1193.6 1551.0,1198.5 1552.0,1201.5 1553.0,1206.8 1554.0,1209.5 1555.0,1213.7 1556.0,1214.5 1556.8,1216.1 1557.0,1215.0 1558.0,1215.9 1559.0,1214.3 1560.0,1214.6 1561.0,1212.6 1562.0,1212.6 1563.0,1210.2 1564.0,1210.0 1565.0,1207.4 1565.3,1208.1 1566.0,1205.8 1567.0,1204.6 1568.0,1200.7 1569.0,1198.5 1570.0,1193.7 1571.0,1190.8 1572.0,1185.4 1572.1,1186.0 1573.0,1180.1 1574.0,1174.4 1575.0,1165.8 1576.0,1159.5 1577.0,1152.0 1577.3,1151.5 1578.0,1147.4 1579.0,1144.8 1579.9,1139.4 1580.0,1139.9 1581.0,1130.1 1582.0,1120.2 1583.0,1109.1 1583.2,1108.6 1584.0,1101.7 1585.0,1096.1 1586.0,1088.9 1587.0,1084.5 1588.0,1078.3 1588.3,1078.0 1589.0,1073.8 1590.0,1070.6 1591.0,1065.6 1592.0,1063.0 1593.0,1058.4 1594.0,1056.2 1594.9,1052.2 1595.0,1053.0 1596.0,1049.1 1597.0,1047.8 1598.0,1044.4 1599.0,1042.9 1600.0,1038.4 1600.6,1037.0 1601.0,1033.5 1602.0,1025.3 1603.0,1015.8 1603.1,1016.3 1604.0,1010.6 1605.0,1007.7 1605.7,1005.5 1606.0,1006.6 1607.0,1005.5 1608.0,1006.7 1609.0,1005.7 1610.0,1007.0 1611.0,1006.0 1612.0,1007.2 1613.0,1006.1 1613.3,1007.2 1614.0,1006.1 1615.0,1007.2 1616.0,1006.0 1617.0,1006.9 1618.0,1005.7 1619.0,1006.6 1620.0,1005.2 1620.5,1006.2 1621.0,1004.9 1622.0,1004.9 1623.0,1002.2 1624.0,1001.4 1625.0,998.2 1625.6,998.1 1626.0,996.2 1627.0,995.1 1628.0,991.7 1629.0,990.2 1630.0,986.4 1631.0,984.6 1632.0,980.4 1633.0,978.3 1633.8,974.5 1634.0,974.9 1635.0,969.9 1636.0,966.7 1637.0,961.1 1638.0,957.5 1638.6,953.6 1639.0,952.9 1640.0,947.1 1641.0,943.5 1642.0,937.5 1642.9,934.3 1643.0,932.7 1644.0,929.1 1645.0,923.2 1646.0,919.3 1647.0,912.6 1648.0,907.3 1649.0,899.1 1650.0,892.3 1651.0,882.7 1651.1,882.9 1652.0,872.6 1653.0,862.3 1653.9,851.7 1654.0,851.9 1655.0,841.3 1656.0,834.2 1656.4,830.8 1657.0,828.9 1658.0,823.4 1659.0,821.8 1659.5,820.3 1660.0,822.9 1661.0,831.1 1661.7,841.5 1662.0,845.4 1663.0,873.0 1663.4,882.4 1664.0,897.3 1665.0,918.1 1665.2,923.5 1666.0,938.7 1667.0,959.6 1667.3,964.4 1668.0,980.0 1669.0,999.2 1669.3,1005.6 1670.0,1015.4 1671.0,1030.0 1672.0,1042.9 1672.2,1047.1 1673.0,1060.4 1674.0,1080.5 1674.5,1087.7 1675.0,1096.5 1676.0,1109.7 1677.0,1123.5 1677.5,1127.8 1678.0,1133.7 1679.0,1141.1 1680.0,1149.7 1681.0,1155.9 1681.5,1160.8 1682.0,1163.6 1683.0,1172.7 1684.0,1179.5 1685.0,1187.8 1685.6,1190.5 1686.0,1193.9 1687.0,1198.4 1688.0,1204.7 1689.0,1208.3 1690.0,1213.6 1690.8,1215.5 1691.0,1217.2 1692.0,1219.4 1693.0,1223.6 1694.0,1225.3 1695.0,1228.9 1696.0,1230.0 1696.9,1232.8 1697.0,1231.9 1698.0,1234.6 1699.0,1235.1 1700.0,1237.6 1701.0,1237.9 1702.0,1240.2 1703.0,1240.3 1704.0,1242.4 1705.0,1242.3 1706.0,1244.3 1707.0,1243.9 1707.2,1245.2 1708.0,1244.6 1709.0,1246.4 1710.0,1245.9 1711.0,1247.6 1712.0,1247.1 1713.0,1248.7 1714.0,1248.1 1715.0,1249.7 1716.0,1249.0 1717.0,1250.5 1718.0,1249.7 1719.0,1251.2 1719.5,1250.2 1720.0,1251.5 1721.0,1250.7 1722.0,1252.1 1723.0,1251.3 1724.0,1252.7 1725.0,1251.9 1726.0,1253.2 1727.0,1252.3 1728.0,1253.6 1729.0,1252.7 1730.0,1253.9 1731.0,1252.9 1731.8,1254.0 1732.0,1252.9 1733.0,1253.9 1734.0,1252.7 1735.0,1253.5 1736.0,1252.1 1737.0,1252.8 1738.0,1251.3 1739.0,1251.9 1740.0,1250.2 1741.0,1250.3 1742.0,1247.6 1743.0,1246.6 1744.0,1243.1 1745.0,1241.7 1746.0,1238.2 1746.2,1238.9 1747.0,1236.0 1748.0,1234.8 1749.0,1231.2 1750.0,1229.9 1751.0,1226.4 1752.0,1225.3 1752.3,1223.6 1753.0,1223.2 1754.0,1220.0 1755.0,1219.0 1756.0,1215.9 1757.0,1215.3 1758.0,1212.8 1758.5,1213.3 1759.0,1211.7 1760.0,1211.8 1761.0,1209.8 1762.0,1210.2 1763.0,1208.7 1763.6,1209.7 1764.0,1208.6 1765.0,1209.9 1766.0,1209.3 1767.0,1211.0 1768.0,1210.7 1768.7,1212.3 1769.0,1211.5 1770.0,1214.4 1771.0,1215.7 1772.0,1219.2 1772.8,1219.4 1773.0,1220.8 1774.0,1220.9 1775.0,1223.1 1776.0,1222.9 1777.0,1224.6 1777.9,1223.8 1778.0,1224.9 1779.0,1223.4 1780.0,1223.5 1781.0,1221.0 1782.0,1220.4 1783.0,1217.5 1783.1,1218.5 1784.0,1215.4 1785.0,1213.7 1786.0,1209.3 1787.0,1206.8 1788.0,1201.8 1788.2,1202.1 1789.0,1197.7 1790.0,1194.1 1791.0,1187.8 1792.0,1183.3 1792.3,1180.5 1793.0,1177.5 1794.0,1169.9 1795.0,1163.9 1795.4,1159.8 1796.0,1156.3 1797.0,1146.6 1797.7,1141.0 1798.0,1136.8 1799.0,1126.0 1800.0,1111.7 1801.0,1099.2 1801.8,1087.7 1802.0,1086.3 1803.0,1073.2 1804.0,1062.5 1805.0,1049.7 1806.0,1038.8 1807.0,1025.3 1808.0,1013.5 1809.0,999.2 1810.0,986.7 1811.0,971.3 1811.5,965.0 1812.0,956.1 1813.0,940.5 1814.0,922.1 1815.0,906.5 1815.2,902.2 1816.0,890.4 1817.0,873.2 1818.0,858.9 1819.0,844.3 1819.3,841.9 1820.0,832.4 1821.0,821.1 1822.0,809.4 1823.0,803.7 1823.6,801.4 1824.0,804.6 1825.0,821.1 1825.8,841.1 1826.0,844.6 1827.0,875.0 1827.9,902.6 1828.0,906.7 1829.0,936.3 1829.9,963.8 1830.0,965.5 1831.0,993.1 1832.0,1016.5 1832.4,1026.5 1833.0,1037.8 1834.0,1057.8 1835.0,1074.6 1835.7,1088.4 1836.0,1093.0 1837.0,1114.5 1838.0,1131.8 1838.6,1140.9 1839.0,1144.0 1840.0,1153.6 1841.0,1159.5 1842.0,1167.3 1842.6,1170.5 1843.0,1174.7 1844.0,1181.8 1845.0,1190.9 1846.0,1197.0 1846.7,1202.3 1847.0,1202.7 1848.0,1208.7 1849.0,1212.0 1850.0,1217.0 1851.0,1219.5 1852.0,1224.0 1852.8,1225.5 1853.0,1227.3 1854.0,1229.3 1855.0,1233.5 1856.0,1235.2 1857.0,1238.9 1858.0,1240.1 1859.0,1243.2 1860.0,1243.8 1861.0,1246.7 1862.0,1247.3 1863.0,1249.9 1864.0,1250.2 1865.0,1252.3 1866.0,1251.9 1867.0,1253.4 1867.2,1252.3 1868.0,1253.3 1869.0,1252.1 1870.0,1252.9 1871.0,1251.4 1872.0,1252.1 1873.0,1250.4 1873.3,1251.3 1874.0,1249.6 1875.0,1249.0 1876.0,1245.5 1877.0,1243.7 1878.0,1239.4 1878.5,1238.9 1879.0,1235.9 1880.0,1232.1 1881.0,1225.5 1882.0,1221.2 1882.6,1217.2 1883.0,1216.5 1884.0,1210.4 1885.0,1207.5 1885.6,1205.1 1886.0,1205.8 1887.0,1203.9 1888.0,1204.5 1888.7,1203.2 1889.0,1204.4 1890.0,1204.1 1891.0,1206.6 1892.0,1207.1 1893.0,1209.6 1893.8,1209.2 1894.0,1210.4 1895.0,1209.7 1896.0,1211.0 1897.0,1210.2 1898.0,1211.5 1899.0,1210.6 1900.0,1212.0 1901.0,1211.2 1902.0,1213.0 1903.0,1212.8 1904.0,1215.1 1905.0,1215.2 1906.0,1217.3 1907.0,1217.0 1908.0,1218.5 1908.2,1217.4 1909.0,1218.5 1910.0,1217.4 1911.0,1218.5 1912.0,1217.4 1913.0,1218.5 1914.0,1217.4 1914.4,1218.5 1915.0,1217.3 1916.0,1218.1 1917.0,1216.5 1918.0,1217.1 1919.0,1215.5 1920.0,1216.3 1920.5,1215.1 1921.0,1217.4 1922.0,1223.6 1922.9,1231.8 1923.0,1231.3 1924.0,1239.5 1925.0,1244.7 1925.6,1248.0 1926.0,1247.8 1927.0,1250.7 1928.0,1251.0 1929.0,1253.1 1930.0,1250.1 1930.2,1256.4 1931.0,1249.3 1932.0,1255.1 1933.0,1245.7 1934.0,1252.1 1934.7,1243.6 1935.0,1250.9 1936.0,1242.9 1937.0,1250.4 1938.0,1241.1 1939.0,1250.2 1940.0,1240.3 1940.2,1249.0 1941.0,1239.9 1942.0,1249.7 1943.0,1239.0 1944.0,1248.7 1944.8,1236.9 1945.0,1247.6 1946.0,1234.8 1947.0,1244.1 1948.0,1227.6 1948.4,1244.1 1949.0,1222.6 1950.0,1245.5 1951.0,1217.8 1952.0,1249.5 1953.0,1216.8 1954.0,1248.5 1955.0,1219.7 1956.0,1250.2 1957.0,1220.8 1958.0,1251.7 1958.5,1221.7 1959.0,1253.6 1960.0,1220.5 1961.0,1252.0 1962.0,1221.9 1963.0,1252.3 1964.0,1222.8 1965.0,1253.0 1966.0,1222.2 1967.0,1253.3 1967.6,1223.1 1968.0,1238.9 1969.0,1237.8 1970.0,1238.9"/>
</g>
<g fill="#000">
<text transform="matrix(0.9986 0 0 1.0438 1758.25 101.18)" font-size="57.5">Si-C</text>
<text transform="matrix(0.9699 0 0 1.0313 1764.72 172.68)" font-size="52" font-weight="bold">795</text>
<text transform="matrix(1.0124 0 0 1.0580 1554.02 313.37)" font-size="57.5">O-Si-O</text>
<text transform="matrix(0.9550 0 0 1.0068 1573.60 400.70)" font-size="52" font-weight="bold">1014</text>
<text transform="matrix(1.0067 0 0 1.0237 1388.03 744.84)" font-size="57.5">Si-CH<tspan dy="19">3</tspan></text>
<text transform="matrix(0.9571 0 0 1.0068 1424.89 850.50)" font-size="52" font-weight="bold">1258</text>
<text transform="matrix(1.0115 0 0 1.0689 714.47 1031.36)" font-size="57.5">CH<tspan dy="19">3</tspan><tspan dy="-19">, CH</tspan><tspan dy="19">2</tspan></text>
<text transform="matrix(0.9728 0 0 1.0122 737.30 1115.79)" font-size="52" font-weight="bold">2960-2850</text>
<text transform="matrix(1.0175 0 0 1.1012 1049.45 1044.65)" font-size="57.5">C=O</text>
<text transform="matrix(0.9696 0 0 1.0345 1044.55 1103.50)" font-size="52" font-weight="bold">1772</text>
<text transform="matrix(1.0089 0 0 1.0132 1231.01 1006.30)" font-size="57.5">Ph</text>
<text transform="matrix(0.9620 0 0 1.0095 1202.87 1088.70)" font-size="52" font-weight="bold">1506</text>
<text transform="matrix(1.0027 0 0 1.0420 1323.89 1072.98)" font-size="57.5">CH<tspan dy="19">3</tspan></text>
<text transform="matrix(0.9633 0 0 1.0041 1316.47 1147.40)" font-size="52" font-weight="bold">1460</text>
<text transform="matrix(1.0006 0 0 0.9773 837.25 1720.69)" font-size="64.5">Wavenumber, cm</text>
<text transform="matrix(1.0512 0 0 0.7579 1333.63 1691.10)" font-size="64.5">−</text>
<text transform="matrix(0.8757 0 0 1.0270 1375.82 1691.80)" font-size="64.5">1</text>
<text transform="matrix(0.9957 0 0 1.0300 548.22 88.00)" font-size="58.5" font-weight="bold">PDecMS initial</text>
<text transform="matrix(1.0002 0 0 1.0300 543.90 175.00)" font-size="58.5" font-weight="bold">PDecMS after ABE</text>
<text transform="matrix(0.9962 0 0 1.0300 543.92 262.00)" font-size="58.5" font-weight="bold">PHeptMS initial</text>
<text transform="matrix(0.9994 0 0 1.0300 543.90 349.00)" font-size="58.5" font-weight="bold">PHeptMS after ABE</text>
<text transform="matrix(0.9986 0 0 1.0300 543.91 436.00)" font-size="58.5" font-weight="bold">MDK-3 initial</text>
<text transform="matrix(1.0002 0 0 1.0300 543.90 523.00)" font-size="58.5" font-weight="bold">MDK-3 after ABE</text>
<text transform="matrix(0.9947 0 0 0.9926 363.66 1581.60)" font-size="57.5">3500</text>
<text transform="matrix(0.9947 0 0 0.9926 737.66 1581.60)" font-size="57.5">3000</text>
<text transform="matrix(0.9814 0 0 0.9926 1230.58 1581.60)" font-size="57.5">1500</text>
<text transform="matrix(0.9814 0 0 0.9926 1604.58 1581.60)" font-size="57.5">1000</text>
<text transform="matrix(0.9801 0 0 1.0123 152.99 1496.89)" font-size="57.5">0.0</text>
<text transform="matrix(0.9900 0 0 1.0123 152.97 1271.62)" font-size="57.5">0.2</text>
<text transform="matrix(0.9737 0 0 1.0123 153.01 1046.35)" font-size="57.5">0.4</text>
<text transform="matrix(0.9834 0 0 1.0123 152.99 821.08)" font-size="57.5">0.6</text>
<text transform="matrix(0.9834 0 0 1.0123 152.99 595.81)" font-size="57.5">0.8</text>
<text transform="matrix(0.9788 0 0 1.0123 153.10 370.54)" font-size="57.5">1.0</text>
<text transform="matrix(0.9890 0 0 1.0250 153.05 145.78)" font-size="57.5">1.2</text>
<text transform="matrix(0 -0.9923 1.0023 0 99.62 1027.23)" font-size="71">Optical density</text>
</g>
<line x1="370" y1="63.0" x2="529" y2="63.0" stroke="#767676" stroke-width="10.3" stroke-linecap="round"/>
<line x1="370" y1="150.1" x2="529" y2="150.1" stroke="#ff3c3c" stroke-width="10.3" stroke-linecap="round"/>
<line x1="370" y1="237.2" x2="529" y2="237.2" stroke="#006ee1" stroke-width="10.3" stroke-linecap="round"/>
<line x1="370" y1="324.3" x2="529" y2="324.3" stroke="#00b067" stroke-width="10.3" stroke-linecap="round"/>
<line x1="370" y1="411.4" x2="529" y2="411.4" stroke="#be78e1" stroke-width="10.3" stroke-linecap="round"/>
<line x1="370" y1="498.5" x2="529" y2="498.5" stroke="#d99600" stroke-width="10.3" stroke-linecap="round"/>
<line x1="1268.5" y1="1089.6" x2="1283" y2="1150" stroke="#000" stroke-width="2.5"/>
<polygon points="1288.75,1181 1271.3,1145.8 1289.8,1142.1" fill="#000"/>
<line x1="1321.7" y1="1157.7" x2="1321.7" y2="1464.5" stroke="#000" stroke-width="3.1" stroke-dasharray="10.6 5.8"/>
</svg>
</body></html>
